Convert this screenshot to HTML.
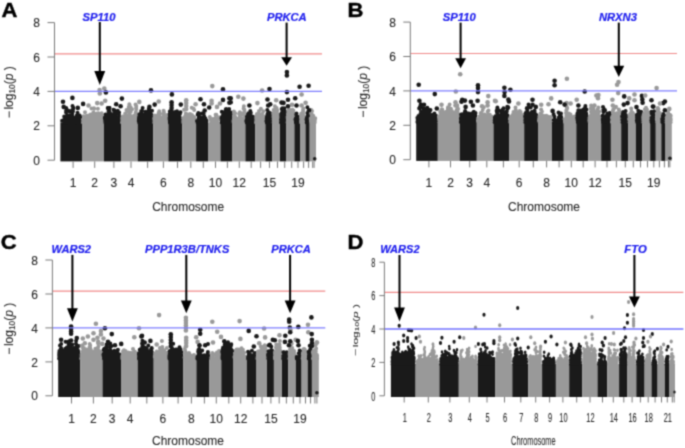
<!DOCTYPE html>
<html><head><meta charset="utf-8"><title>Manhattan plots</title>
<style>html,body{margin:0;padding:0;background:#fff}svg{display:block}</style></head>
<body>
<svg width="685" height="448" viewBox="0 0 685 448" font-family="'Liberation Sans', Arial, sans-serif">
<style>text{stroke-width:0.1px;paint-order:stroke} .t{stroke:#2a2a2a} .gn{stroke:#2020ee;stroke-width:0.2px}</style>
<defs><filter id="bl" x="0" y="0" width="685" height="448" filterUnits="userSpaceOnUse" color-interpolation-filters="sRGB"><feConvolveMatrix order="3" kernelMatrix="1 3 1 3 9 3 1 3 1" divisor="25" edgeMode="duplicate" preserveAlpha="true"/></filter></defs>
<g filter="url(#bl)">
<rect width="685" height="448" fill="#fff"/>
<g><rect x="60.4" y="122.4" width="21.6" height="39" fill="#1a1a1a"/>
<path d="M71.4 117.7h0M79.8 122.2h0M64.4 118.9h0M79.8 119.3h0M67.6 122.2h0M69.7 119.5h0M77.5 112.7h0M69.5 120.3h0M72.2 120.9h0M62.1 120.8h0M76.1 119.4h0M71.9 121h0M67.9 121.7h0M76.7 119.7h0M67.4 118.6h0M70.3 120.3h0M64.2 116.6h0M69.3 122h0M65.5 121.5h0M66.6 122h0M76 122.3h0M67 120.8h0M70.9 120.1h0M80.4 116.9h0M80.1 120.5h0M75.5 121.8h0M72 122.3h0M66.9 121.7h0M64.7 121h0M80.2 119.2h0M71.5 121.6h0M63.8 120.3h0M73.6 121.5h0M76.5 115.8h0M73.4 107.7h0M66.9 122.4h0M66 121.4h0M66.7 120.2h0M65.8 119.1h0M65.9 118h0M66.8 116.5h0M67 115h0M66 112.2h0M66.1 110.4h0M66.8 109.4h0M66.2 108.1h0M68.8 122.4h0M69.2 120.9h0M68.7 119.7h0M68.6 118.7h0M68.7 118h0M73 122.4h0M73.2 120.7h0M72 119.1h0M72.1 117.8h0M72.3 116.4h0M72.1 114.7h0M72.3 112.9h0M73 111.2h0M72.3 110.1h0M73.3 108.4h0M72.5 106.1h0M69.9 122.4h0M69.5 120.7h0M69.3 119.5h0M69.9 118.6h0M69.2 117.4h0M70 115.5h0M69.6 111.4h0M69.2 110.9h0M68.9 122.4h0M69 121.1h0M68.6 118.5h0M77.1 122.4h0M76.5 120.9h0M76 119.5h0M76.8 117.7h0M65.1 122.4h0M64.1 121.2h0M64.8 120.2h0M65.1 119.5h0M80.1 122.4h0M79.1 120.5h0M79.8 119.3h0M79.4 118.2h0M79.6 115.6h0M74 122.4h0M74.5 121.4h0M75.1 118.9h0M75.3 118h0M74.5 117.9h0" stroke="#1a1a1a" stroke-width="4" stroke-linecap="round" fill="none"/>
<rect x="82" y="122.4" width="21.9" height="39" fill="#999999"/>
<path d="M85.8 116.5h0M90.7 114.5h0M89.8 119.4h0M100.3 115.1h0M91.4 119.1h0M84.8 116.7h0M101.3 114.5h0M95.3 116.8h0M85.5 117.8h0M85.4 119.4h0M92.3 118.8h0M85 112.3h0M95.5 119h0M95.2 119.1h0M83.8 119.1h0M98.9 119.4h0M98.5 119.3h0M101 113.7h0M96.3 119.8h0M96.7 119h0M86.4 119.6h0M83.7 116.2h0M84.5 119.2h0M102 119.5h0M95.8 119.3h0M101.7 118.8h0M90 116.2h0M97.9 108.7h0M84.5 118.8h0M86.4 116h0M88.6 119h0M93.9 117.8h0M94.1 119.4h0M92.9 117.6h0M91.5 108.4h0M83 122.4h0M83.3 121h0M83 119.6h0M84 122.4h0M84.2 121h0M84.2 119.6h0M85.2 122.4h0M85.2 121h0M85 119.6h0M86.4 122.4h0M86.1 121h0M86.4 119.6h0M87.2 122.4h0M87.1 121h0M87 119.6h0M88.2 122.4h0M88.1 121h0M88.3 119.6h0M89.2 122.4h0M88.9 121h0M89.4 119.6h0M89.9 122.4h0M90.4 121h0M90.4 119.6h0M91.5 122.4h0M91.3 121h0M91 119.6h0M92.2 122.4h0M92.2 121h0M92.3 119.6h0M93.1 122.4h0M93.3 121h0M93 119.6h0M94.1 122.4h0M94.2 121h0M94.2 119.6h0M95 122.4h0M95.5 121h0M95.3 119.6h0M96.4 122.4h0M96.1 121h0M96.5 119.6h0M97.4 122.4h0M97.5 121h0M97 119.6h0M98.2 122.4h0M98.1 121h0M98.3 119.6h0M99.1 122.4h0M99 121h0M99.2 119.6h0M100.3 122.4h0M100.1 121h0M100.5 119.6h0M101.1 122.4h0M101.1 121h0M101.4 119.6h0M102.2 122.4h0M102.1 121h0M102.1 119.6h0M101.3 119.8h0M102.6 118.8h0M101.8 116.3h0M101.9 114.5h0M88.1 119.8h0M88.8 118.5h0M88.9 117h0M88.3 115.9h0M88.5 115.5h0M94.4 119.8h0M94.1 117.1h0M86.4 119.8h0M87.2 118.5h0M87 117.7h0M87.3 116.4h0M86.8 116h0M102 119.8h0M101.9 118.1h0M101.7 113.6h0M101.7 113.3h0M88.9 119.8h0M88.2 118.9h0M89 117.5h0M88.6 116.9h0M97.7 119.8h0M98.1 118.1h0M98.5 117.2h0M97.9 116.3h0M97.6 114.6h0M98.5 113.4h0M98.4 113.2h0M93.7 119.8h0M93.2 118.4h0M93.6 117.1h0M93.6 115.7h0M93.8 114.1h0M93.4 112.5h0M94.1 108.8h0M94 108.3h0M97.1 119.8h0M96.6 118.1h0M97.5 115.5h0M96.8 113.4h0" stroke="#999999" stroke-width="4" stroke-linecap="round" fill="none"/>
<rect x="103.9" y="122.4" width="17.1" height="39" fill="#1a1a1a"/>
<path d="M107.7 108.1h0M106.1 115.9h0M106.2 117.6h0M106.1 114.6h0M106.4 117.3h0M117.4 118.6h0M112.7 117.2h0M107 115.9h0M112.8 117.4h0M113.1 114.6h0M112.4 118.4h0M108.1 116.8h0M111.5 118.6h0M117.9 118.3h0M110.7 118.7h0M112.5 117.2h0M118.8 116.7h0M108.5 118.4h0M115.8 118.3h0M112.2 117h0M116.7 118.2h0M110.4 116.9h0M113.1 116.6h0M110.5 117.7h0M117.8 110.7h0M118.5 117.8h0M114.4 112.1h0M105.4 122.4h0M105.2 121h0M105.1 119.6h0M104.8 118.2h0M105.9 122.4h0M106.1 121h0M106.3 119.6h0M106.1 118.2h0M106.8 122.4h0M106.9 121h0M107.3 119.6h0M106.9 118.2h0M107.9 122.4h0M108 121h0M108.2 119.6h0M108.3 118.2h0M108.9 122.4h0M109.2 121h0M109.1 119.6h0M109.1 118.2h0M110.1 122.4h0M110.3 121h0M109.9 119.6h0M110.1 118.2h0M110.9 122.4h0M111.1 121h0M111.3 119.6h0M111.4 118.2h0M112.1 122.4h0M112 121h0M112.1 119.6h0M112 118.2h0M112.9 122.4h0M113.1 121h0M113.3 119.6h0M113.3 118.2h0M114.4 122.4h0M114 121h0M114 119.6h0M113.9 118.2h0M115.1 122.4h0M115.3 121h0M114.9 119.6h0M115.3 118.2h0M116.2 122.4h0M115.9 121h0M116.2 119.6h0M116.3 118.2h0M117.4 122.4h0M116.9 121h0M117.3 119.6h0M117.3 118.2h0M117.9 122.4h0M118 121h0M118.4 119.6h0M118 118.2h0M119 122.4h0M119.2 121h0M118.9 119.6h0M119.1 118.2h0M109 118.9h0M109.6 117.8h0M109.8 116.1h0M109.1 114.8h0M109.6 111.9h0M108.7 111h0M109.2 110.9h0M110.2 118.9h0M109.7 117.7h0M110.4 116.6h0M110.2 114.9h0M109.8 113.2h0M114.9 118.9h0M115 117.3h0M115.2 115.6h0M115.4 114.4h0M115.6 113.4h0M115.6 111.9h0M115.2 111.3h0M114.4 118.9h0M114.3 117.1h0M114.4 115.9h0M114.4 111.1h0M114.5 110.2h0M113.5 109.7h0M119.7 118.9h0M118.9 118h0M119 116.2h0M118.9 114.5h0M119.1 112.4h0M109.4 118.9h0M109.8 117.3h0M109.6 115.7h0M109.3 113h0M108.5 111.2h0M109.6 108h0M109.5 108h0M105 118.9h0M104.9 117.3h0M105.8 114.8h0M105.6 114.6h0M115 118.9h0M115.2 117.3h0M115 116.2h0M111 118.9h0M111.3 118h0M111.6 116.9h0M111.5 116.2h0M110.1 118.9h0M110.3 117.9h0M109.9 116.8h0M110.3 115.5h0M110.1 114.4h0M110.8 114h0" stroke="#1a1a1a" stroke-width="4" stroke-linecap="round" fill="none"/>
<rect x="121" y="122.4" width="16.7" height="39" fill="#999999"/>
<path d="M127 116.1h0M135.5 115.9h0M134.5 116.3h0M126.6 115.2h0M122.8 116.4h0M133.2 116.7h0M125.6 117.9h0M126.9 118h0M130.5 116.7h0M136.5 116.1h0M126.5 110h0M128.9 117.5h0M131.2 117.4h0M132 109.2h0M125.2 113.6h0M130.7 107.4h0M130 109.5h0M131.6 116.9h0M123.8 116.9h0M124 117.6h0M136.2 114.1h0M133.9 115.8h0M134 117.8h0M135.6 112.9h0M135.9 117.4h0M127.8 111.3h0M133 117.3h0M122 122.4h0M122.4 121h0M122.3 119.6h0M122.2 118.2h0M123.1 122.4h0M123 121h0M123.2 119.6h0M123.5 118.2h0M124.3 122.4h0M124.2 121h0M124.5 119.6h0M124.4 118.2h0M125.5 122.4h0M125.5 121h0M125.3 119.6h0M125.1 118.2h0M126.3 122.4h0M126.1 121h0M126.4 119.6h0M126 118.2h0M127.2 122.4h0M127.4 121h0M127.2 119.6h0M127.3 118.2h0M128 122.4h0M128.1 121h0M128.5 119.6h0M128.3 118.2h0M129.1 122.4h0M129.2 121h0M129.4 119.6h0M129.4 118.2h0M130.4 122.4h0M130.1 121h0M130 119.6h0M130.3 118.2h0M131.2 122.4h0M131.2 121h0M131 119.6h0M131.1 118.2h0M132.4 122.4h0M132.1 121h0M132.4 119.6h0M131.9 118.2h0M133.5 122.4h0M133 121h0M133.2 119.6h0M133.5 118.2h0M134.1 122.4h0M134 121h0M134.5 119.6h0M134.4 118.2h0M135.2 122.4h0M134.9 121h0M135.3 119.6h0M135.1 118.2h0M136 122.4h0M136.5 121h0M136.3 119.6h0M136.2 118.2h0M131.2 118.1h0M130.9 116.9h0M130.3 115.7h0M130.8 111.8h0M135.7 118.1h0M135.4 116.7h0M136 115.1h0M135.6 113.3h0M135.9 112.1h0M136.3 109.2h0M136.1 108.3h0M136.2 107.3h0M136.3 106h0M135.5 104.6h0M129.5 118.1h0M128.9 116.7h0M129.7 114.9h0M129 112.1h0M129.6 108.7h0M128.7 107h0M129.6 104.9h0M129.3 104.3h0M125.4 118.1h0M125.9 117h0M126 115.9h0M126.2 114.9h0" stroke="#999999" stroke-width="4" stroke-linecap="round" fill="none"/>
<rect x="137.7" y="122.4" width="15.5" height="39" fill="#1a1a1a"/>
<path d="M139.4 114.2h0M145.2 115.4h0M141.3 116.6h0M150.1 115.3h0M150.5 112.4h0M146.2 114h0M148.5 114.2h0M147.9 111.8h0M149.6 115.2h0M142.6 108.1h0M141.9 110.7h0M148.7 109.1h0M151.5 114.7h0M141.9 113.8h0M146.3 116.5h0M146 113.8h0M143.8 116.5h0M148.7 110.5h0M140.6 115.2h0M143.8 116.4h0M144.5 115h0M151.4 116.6h0M147.9 115.7h0M148.2 116.2h0M152 110.7h0M139.2 122.4h0M138.7 121h0M138.9 119.6h0M138.9 118.2h0M139.1 116.9h0M140 122.4h0M139.8 121h0M140.1 119.6h0M140 118.2h0M139.7 116.9h0M141.1 122.4h0M140.9 121h0M141.1 119.6h0M141 118.2h0M140.7 116.9h0M142.1 122.4h0M141.9 121h0M141.9 119.6h0M141.9 118.2h0M142 116.9h0M142.6 122.4h0M142.9 121h0M143.2 119.6h0M142.7 118.2h0M142.7 116.9h0M143.8 122.4h0M143.9 121h0M143.8 119.6h0M143.9 118.2h0M144 116.9h0M145.1 122.4h0M144.6 121h0M144.8 119.6h0M145 118.2h0M144.6 116.9h0M146.2 122.4h0M146 121h0M145.9 119.6h0M145.9 118.2h0M145.7 116.9h0M146.6 122.4h0M147 121h0M147.2 119.6h0M147.1 118.2h0M146.6 116.9h0M147.6 122.4h0M147.9 121h0M147.9 119.6h0M148 118.2h0M148.1 116.9h0M149.1 122.4h0M149.2 121h0M148.8 119.6h0M148.9 118.2h0M149.2 116.9h0M150 122.4h0M149.6 121h0M150.1 119.6h0M150 118.2h0M149.7 116.9h0M150.8 122.4h0M150.9 121h0M151 119.6h0M150.8 118.2h0M151 116.9h0M151.9 122.4h0M152.2 121h0M152.1 119.6h0M151.7 118.2h0M151.7 116.9h0M148.9 116.9h0M149.2 114.1h0M148.5 114.1h0M140.2 116.9h0M140.5 115.3h0M140.7 114.3h0M141.5 112.4h0M141.2 111.1h0M144.8 116.9h0M145.5 115h0M145.5 111.8h0M147.6 116.9h0M146.9 116h0M147.6 114.2h0M147.5 112h0M147.4 116.9h0M148.5 115.4h0M148.5 114.1h0M147.6 112.8h0" stroke="#1a1a1a" stroke-width="4" stroke-linecap="round" fill="none"/>
<rect x="153.2" y="122.4" width="15.2" height="39" fill="#999999"/>
<path d="M157.8 115.4h0M159.3 118.2h0M154.7 118.6h0M156.2 118.8h0M158.2 117.7h0M158.7 116.6h0M160 113.4h0M158.2 117.3h0M158.5 117.6h0M160.3 118.2h0M158.9 112.5h0M164 114.7h0M164.4 117.5h0M154.6 115.4h0M156.5 117.2h0M155.7 118h0M158.9 116.8h0M159 116.2h0M164 118.4h0M163.7 114.3h0M165.7 117.6h0M163.1 116.7h0M162 117.4h0M167.1 115.1h0M154.3 122.4h0M154.4 121h0M154.3 119.6h0M154.2 118.2h0M155.4 122.4h0M155.5 121h0M155.5 119.6h0M155.5 118.2h0M156.3 122.4h0M156.1 121h0M156.2 119.6h0M156.3 118.2h0M157.4 122.4h0M157.3 121h0M157.5 119.6h0M157.2 118.2h0M158.4 122.4h0M158.1 121h0M158.5 119.6h0M158.6 118.2h0M159.6 122.4h0M159.6 121h0M159.2 119.6h0M159.7 118.2h0M160.4 122.4h0M160.2 121h0M160.2 119.6h0M160.1 118.2h0M161.5 122.4h0M161.5 121h0M161.6 119.6h0M161.5 118.2h0M162.4 122.4h0M162.2 121h0M162.5 119.6h0M162.1 118.2h0M163.5 122.4h0M163.2 121h0M163.2 119.6h0M163.6 118.2h0M164.7 122.4h0M164.5 121h0M164.2 119.6h0M164.4 118.2h0M165.3 122.4h0M165.2 121h0M165.2 119.6h0M165.1 118.2h0M166.7 122.4h0M166.2 121h0M166.3 119.6h0M166.2 118.2h0M167.5 122.4h0M167.4 121h0M167.6 119.6h0M167.1 118.2h0M159 118.9h0M158.6 117.3h0M159.1 116.1h0M159.2 114.7h0M158.6 113.2h0M159.2 111.2h0M164.1 118.9h0M163.5 115.9h0M163.9 113.5h0M163.9 111.9h0M163.6 110.8h0M166.1 118.9h0M166.5 117.1h0M167.1 116h0M166.7 115.6h0M155.9 118.9h0M156.5 117.3h0M156.9 115.8h0M156.5 115.7h0" stroke="#999999" stroke-width="4" stroke-linecap="round" fill="none"/>
<rect x="168.4" y="122.4" width="13.8" height="39" fill="#1a1a1a"/>
<path d="M172.3 116.7h0M178.3 116.7h0M172.5 117.5h0M172.6 112.2h0M169.7 114.1h0M179.9 113.9h0M170 111.3h0M173.2 113.2h0M177 111.3h0M173.4 116.9h0M176.4 116.6h0M173.8 114.3h0M179.6 117.6h0M171.4 109.9h0M169.8 115.5h0M170.7 116.1h0M175.6 117h0M176.4 117.4h0M179.1 117.1h0M180.5 112.3h0M174.2 117.8h0M179 114.7h0M169.9 122.4h0M169.8 121h0M169.6 119.6h0M169.8 118.2h0M170.8 122.4h0M170.8 121h0M170.4 119.6h0M170.6 118.2h0M171.7 122.4h0M171.8 121h0M171.6 119.6h0M171.7 118.2h0M172.7 122.4h0M172.4 121h0M172.3 119.6h0M172.3 118.2h0M173.4 122.4h0M173.5 121h0M173.3 119.6h0M173.7 118.2h0M174.6 122.4h0M174.6 121h0M174.3 119.6h0M174.6 118.2h0M175.4 122.4h0M175.3 121h0M175.8 119.6h0M175.8 118.2h0M176.3 122.4h0M176.7 121h0M176.3 119.6h0M176.6 118.2h0M177.7 122.4h0M177.7 121h0M177.9 119.6h0M177.7 118.2h0M178.4 122.4h0M178.9 121h0M178.5 119.6h0M178.6 118.2h0M179.6 122.4h0M179.8 121h0M179.4 119.6h0M179.5 118.2h0M180.6 122.4h0M180.7 121h0M180.8 119.6h0M180.5 118.2h0M176.5 118.1h0M176.8 117h0M176.5 115.9h0M176.4 114.7h0M176.8 111.9h0M177 111.7h0M178.7 118.1h0M179.2 116.8h0M178.4 115.2h0M179.4 113.3h0M179.3 113.1h0M175.4 118.1h0M175.8 116.4h0M176.2 114.8h0M175.8 113.6h0M175.2 111.9h0M169.5 118.1h0M170.6 116.8h0M170.1 113.5h0M170.6 112.4h0M169.8 111.5h0" stroke="#1a1a1a" stroke-width="4" stroke-linecap="round" fill="none"/>
<rect x="182.2" y="122.4" width="13.9" height="39" fill="#999999"/>
<path d="M186.4 113.9h0M186.9 116.8h0M185.4 117.9h0M185.7 116.3h0M184.1 109.8h0M188.7 118.4h0M194.2 117h0M185.2 116h0M193.6 108.7h0M187 118.4h0M192 115h0M193.1 117.2h0M190.4 118.2h0M191.7 107.7h0M190.7 118.7h0M194.1 110h0M192.4 118.7h0M188.2 114.8h0M186.7 117.7h0M185.2 117.8h0M183.3 122.4h0M183.2 121h0M183.7 119.6h0M183.1 118.2h0M184.1 122.4h0M184.6 121h0M184.6 119.6h0M184.3 118.2h0M185.3 122.4h0M185.5 121h0M185.5 119.6h0M185.5 118.2h0M186.4 122.4h0M186.7 121h0M186.2 119.6h0M186.5 118.2h0M187.2 122.4h0M187.3 121h0M187.3 119.6h0M187.6 118.2h0M188.4 122.4h0M188.3 121h0M188.4 119.6h0M188.4 118.2h0M189.4 122.4h0M189.2 121h0M189.3 119.6h0M189.4 118.2h0M190.1 122.4h0M190.1 121h0M190.5 119.6h0M190.2 118.2h0M191.6 122.4h0M191.1 121h0M191.2 119.6h0M191.5 118.2h0M192.2 122.4h0M192.4 121h0M192.3 119.6h0M192.3 118.2h0M193.2 122.4h0M193.7 121h0M193.3 119.6h0M193.2 118.2h0M194.6 122.4h0M194.2 121h0M194.5 119.6h0M194.5 118.2h0M188.8 118.9h0M188.4 117.9h0M188.4 115.9h0M185.6 118.9h0M185.4 118h0M185.7 116.2h0M186.1 114.9h0M185.8 113.5h0M189.8 118.9h0M189.8 115.5h0M190.6 114.3h0M190 114h0" stroke="#999999" stroke-width="4" stroke-linecap="round" fill="none"/>
<rect x="196.1" y="122.4" width="11.9" height="39" fill="#1a1a1a"/>
<path d="M202.7 113.2h0M205.3 118.2h0M203.7 121.2h0M198.5 120h0M199.3 120.5h0M205.8 119.8h0M202.6 120.4h0M202.9 119.8h0M198.8 116.5h0M198.6 119.3h0M199.4 120.5h0M200.4 121.3h0M202.6 113.6h0M200.8 117.2h0M203.7 113.7h0M201.4 121.4h0M202.2 120.7h0M206.3 120.4h0M197.7 114.6h0M197.5 122.4h0M197 121h0M198.6 122.4h0M198.3 121h0M199.5 122.4h0M199.3 121h0M200.5 122.4h0M200.1 121h0M201.3 122.4h0M201.5 121h0M202.6 122.4h0M202.3 121h0M203 122.4h0M203.4 121h0M204.4 122.4h0M204.1 121h0M205.1 122.4h0M205.3 121h0M206.1 122.4h0M206.5 121h0M203.6 121.5h0M203.6 120.6h0M203.7 119.4h0M204.2 117.6h0M204.2 116.4h0M200.5 121.5h0M201.3 120.6h0M201.1 119h0M201 117.4h0M198.9 121.5h0M198.4 120.3h0M198.5 118.7h0M199.4 117h0M198.8 115.7h0M198.1 114.8h0M199.3 113.4h0M198.3 112.9h0M203.4 121.5h0M203.6 120.5h0M203 118.8h0" stroke="#1a1a1a" stroke-width="4" stroke-linecap="round" fill="none"/>
<rect x="208" y="122.4" width="12.5" height="39" fill="#999999"/>
<path d="M214.7 119.7h0M218.8 119.4h0M210.6 119.3h0M217.6 122.2h0M216.6 120.1h0M219 117.3h0M214.1 122.3h0M213.8 119.7h0M214.7 118.9h0M212.8 120.8h0M209.8 117h0M214.9 118.9h0M213.1 121.1h0M214.3 119.2h0M216.3 114.8h0M213.2 122.1h0M210.8 119.8h0M217.6 121.8h0M218.7 119.1h0M211.6 121.4h0M213.8 122.4h0M213.4 121.3h0M212.9 118.9h0M212.1 122.4h0M212.3 119.3h0M214.1 122.4h0M214.1 120.9h0M214.9 119.6h0M215.3 122.4h0M216.2 121.2h0M215.9 119.6h0M215.5 117.9h0M215.6 114.8h0M211.2 122.4h0M211.2 121h0M211.2 119.9h0M210.3 119.3h0M212.7 122.4h0M212.1 120.9h0M212.2 119.2h0" stroke="#999999" stroke-width="4" stroke-linecap="round" fill="none"/>
<rect x="220.5" y="122.4" width="11.9" height="39" fill="#1a1a1a"/>
<path d="M221.8 111.7h0M222.7 116.2h0M222.9 115.8h0M225.8 109.3h0M229.1 109h0M225.5 112.6h0M223.1 115.7h0M223.3 114.5h0M230.8 114.3h0M227.6 115.6h0M224.5 115.5h0M229.7 115.3h0M230.7 112.5h0M226.9 114.5h0M226 113.1h0M225.4 114.8h0M225.3 114.6h0M229.9 116.2h0M228.5 113.5h0M221.7 122.4h0M221.9 121h0M222 119.6h0M221.5 118.2h0M221.9 116.9h0M222.5 122.4h0M222.8 121h0M222.4 119.6h0M222.9 118.2h0M222.6 116.9h0M223.5 122.4h0M224 121h0M223.5 119.6h0M223.6 118.2h0M223.7 116.9h0M224.6 122.4h0M224.6 121h0M224.9 119.6h0M224.5 118.2h0M224.7 116.9h0M225.5 122.4h0M225.8 121h0M225.6 119.6h0M225.6 118.2h0M225.7 116.9h0M226.6 122.4h0M226.8 121h0M226.5 119.6h0M226.9 118.2h0M226.8 116.9h0M227.5 122.4h0M227.7 121h0M227.4 119.6h0M227.5 118.2h0M227.6 116.9h0M228.8 122.4h0M228.8 121h0M228.7 119.6h0M228.5 118.2h0M228.6 116.9h0M229.8 122.4h0M229.7 121h0M229.6 119.6h0M229.4 118.2h0M229.4 116.9h0M231 122.4h0M230.6 121h0M230.9 119.6h0M230.5 118.2h0M230.8 116.9h0M226.2 116.3h0M226.3 115.3h0M227.4 114.2h0M226.9 112.4h0M227.1 110.9h0M223.2 116.3h0M223.6 115.3h0M223.1 114.2h0M223.2 113.7h0M226.8 116.3h0M226.2 113.1h0M226.6 110.3h0M226.1 109.1h0M225.7 116.3h0M224.8 115h0M224.8 113.9h0M224.8 112.7h0M225.1 111.7h0M229.9 116.3h0M228.8 114.5h0M228.8 113.5h0M229.8 112.1h0M229.2 111.6h0" stroke="#1a1a1a" stroke-width="4" stroke-linecap="round" fill="none"/>
<rect x="232.4" y="122.4" width="13" height="39" fill="#999999"/>
<path d="M234.6 120.2h0M239.6 117h0M241.8 119.1h0M239.8 120.7h0M236.1 118.5h0M242.1 118.6h0M239.1 113.7h0M239.8 120.8h0M243.2 119.7h0M240.8 115.4h0M234.8 118.3h0M241 119.9h0M236.7 119.8h0M242 121.2h0M239.6 118.9h0M239.3 121.4h0M235.1 119.8h0M233.9 120.3h0M243.9 118.5h0M233.9 111.6h0M234.1 116.1h0M233.6 122.4h0M233.4 121h0M234.7 122.4h0M234.7 121h0M235.8 122.4h0M235.4 121h0M236.3 122.4h0M236.5 121h0M237.4 122.4h0M237.5 121h0M238.3 122.4h0M238.5 121h0M239.5 122.4h0M239.5 121h0M240.5 122.4h0M240.3 121h0M241.6 122.4h0M241.7 121h0M242.5 122.4h0M242.6 121h0M243.8 122.4h0M243.6 121h0M233.8 121.5h0M234.8 120.5h0M233.9 118.8h0M234 117.1h0M234.2 112.6h0M243.2 121.5h0M243.3 119.7h0M244.4 115h0M243.2 113.3h0M244.1 112.4h0M244.5 111.4h0M244.4 109.7h0M243.6 108.4h0M243.9 106.3h0M239.9 121.5h0M240.4 120.4h0M240.5 119.5h0M240.7 117.8h0M239.8 116.6h0M240.1 115.7h0M239.6 114.4h0M239.7 113.2h0M239.9 112.2h0M235.7 121.5h0M234.8 120h0M235.4 118.3h0M235.2 117h0M234.6 115.7h0M234.6 114.4h0M235.1 113.3h0M234.9 113.1h0" stroke="#999999" stroke-width="4" stroke-linecap="round" fill="none"/>
<rect x="245.4" y="122.4" width="9.7" height="39" fill="#1a1a1a"/>
<path d="M251.6 117.7h0M252.7 118.3h0M250.4 119.6h0M253.5 119h0M252 119.4h0M252.4 118.4h0M247.6 117.8h0M250.3 118.3h0M246.9 116.7h0M251.5 119.5h0M249 118.2h0M253 116.8h0M247.6 118.5h0M247.1 119.7h0M249.5 117.1h0M247.8 115.7h0M246.7 122.4h0M246.3 121h0M246.8 119.6h0M247.6 122.4h0M247.5 121h0M247.5 119.6h0M248.8 122.4h0M248.5 121h0M248.5 119.6h0M249.8 122.4h0M249.6 121h0M249.3 119.6h0M250.4 122.4h0M250.8 121h0M250.5 119.6h0M251.5 122.4h0M251.5 121h0M251.9 119.6h0M252.6 122.4h0M252.8 121h0M252.8 119.6h0M253.8 122.4h0M253.8 121h0M253.5 119.6h0M250.6 119.8h0M249.8 118.3h0M251 117.1h0M250.6 116.2h0M250.8 112.7h0M250.3 111.1h0M247.7 119.8h0M248.9 117.2h0M248 114.1h0M248.6 113.2h0M250.6 119.8h0M250.8 116.2h0M250.8 115.5h0" stroke="#1a1a1a" stroke-width="4" stroke-linecap="round" fill="none"/>
<rect x="255.1" y="122.4" width="10.3" height="39" fill="#999999"/>
<path d="M263.3 111.3h0M259.9 114.5h0M262.3 113.7h0M260.9 108.7h0M259.5 116.3h0M257 113.9h0M263.1 116h0M260.1 115.5h0M256.9 116.9h0M260.1 117.1h0M256.7 114.4h0M258.8 116.1h0M263.4 116.7h0M259 111h0M258.9 115.4h0M258.7 115.1h0M256 122.4h0M256.2 121h0M256.4 119.6h0M256.2 118.2h0M256.3 116.9h0M257.5 122.4h0M257.1 121h0M257.1 119.6h0M257.5 118.2h0M257.6 116.9h0M258.1 122.4h0M258 121h0M258.5 119.6h0M258.3 118.2h0M258.1 116.9h0M259 122.4h0M259.3 121h0M259.1 119.6h0M259.5 118.2h0M259.5 116.9h0M260.4 122.4h0M260.6 121h0M260.2 119.6h0M260.1 118.2h0M260.4 116.9h0M261.1 122.4h0M261.4 121h0M261 119.6h0M261.2 118.2h0M261.4 116.9h0M262.6 122.4h0M262.1 121h0M262.3 119.6h0M262.6 118.2h0M262 116.9h0M263.3 122.4h0M263.4 121h0M263.3 119.6h0M263.5 118.2h0M263.2 116.9h0M264.2 122.4h0M264 121h0M264.3 119.6h0M264.6 118.2h0M264.5 116.9h0" stroke="#999999" stroke-width="4" stroke-linecap="round" fill="none"/>
<rect x="265.4" y="122.4" width="6.9" height="39" fill="#1a1a1a"/>
<path d="M266.7 118.2h0M266.9 118.1h0M270.5 116.3h0M268.2 117.4h0M267.8 116.7h0M269.9 118.7h0M268.1 112.9h0M268.3 117.2h0M269.7 116.1h0M270.6 118.3h0M267.4 114.2h0M266.8 122.4h0M266.4 121h0M266.9 119.6h0M266.8 118.2h0M267.7 122.4h0M267.8 121h0M267.5 119.6h0M267.4 118.2h0M268.5 122.4h0M268.4 121h0M268.5 119.6h0M268.8 118.2h0M269.4 122.4h0M269.3 121h0M269.8 119.6h0M269.9 118.2h0M270.5 122.4h0M270.4 121h0M270.8 119.6h0M270.3 118.2h0M270 118.9h0M270 117.1h0M269.1 116h0M269.9 113.1h0M269.8 118.9h0M269.9 118h0M270.9 116.7h0M270.3 115.6h0M269.7 118.9h0M270.7 117.4h0M270.4 116h0M269.8 115.6h0M267.3 118.9h0M268.2 117.7h0M267 116.5h0M267.3 115.7h0M267.9 114.3h0M267.8 111.2h0M267.3 110.1h0" stroke="#1a1a1a" stroke-width="4" stroke-linecap="round" fill="none"/>
<rect x="272.3" y="122.4" width="7.7" height="39" fill="#999999"/>
<path d="M276.4 113.2h0M278.7 116.1h0M274.3 114.6h0M273.5 115.9h0M274.6 116.2h0M275.8 113.8h0M274.9 106.3h0M277.2 109.9h0M274.9 115h0M278.1 114.4h0M274.2 112.9h0M274.3 115.4h0M273.6 122.4h0M273.7 121h0M273.6 119.6h0M273.7 118.2h0M273.4 116.9h0M274.5 122.4h0M274.3 121h0M274.7 119.6h0M274.8 118.2h0M274.5 116.9h0M275.5 122.4h0M275.6 121h0M275.7 119.6h0M275.3 118.2h0M275.7 116.9h0M276.7 122.4h0M276.3 121h0M276.4 119.6h0M276.5 118.2h0M276.6 116.9h0M277.5 122.4h0M277.5 121h0M277.4 119.6h0M277.5 118.2h0M277.4 116.9h0M278.6 122.4h0M278.8 121h0M278.8 119.6h0M278.4 118.2h0M278.2 116.9h0M276.2 116.3h0M276 114.7h0M275.9 113.3h0M275.3 111.9h0M275.9 110.5h0M276.4 109.2h0M275.7 109h0M276.2 116.3h0M276.3 114.6h0M277 111.8h0M276.2 109.2h0M276.6 108.1h0M276.1 116.3h0M276.2 115.2h0M276.3 113.5h0M274 116.3h0M274.2 115.3h0M274.4 114.3h0M274 112.6h0M274.5 116.3h0M273.5 115h0M273.4 114.1h0M274.6 113.2h0M273.6 110.1h0" stroke="#999999" stroke-width="4" stroke-linecap="round" fill="none"/>
<rect x="280" y="122.4" width="6.4" height="39" fill="#1a1a1a"/>
<path d="M282.9 110.1h0M282.9 111.3h0M282.2 114.5h0M284.1 114h0M283.4 112.5h0M281.9 114.4h0M285 113.6h0M281.7 108.9h0M281.4 114h0M284.2 112.7h0M281 122.4h0M281.2 121h0M281 119.6h0M281.4 118.2h0M281.3 116.9h0M281.3 115.5h0M281.2 114.1h0M282.2 122.4h0M282.5 121h0M282.2 119.6h0M282.3 118.2h0M282 116.9h0M282.2 115.5h0M282.4 114.1h0M283.2 122.4h0M283.3 121h0M283.3 119.6h0M283 118.2h0M283.2 116.9h0M282.9 115.5h0M283 114.1h0M284.3 122.4h0M284 121h0M283.9 119.6h0M284.2 118.2h0M284.3 116.9h0M284.1 115.5h0M284 114.1h0M285 122.4h0M284.9 121h0M284.9 119.6h0M285.2 118.2h0M285 116.9h0M285.2 115.5h0M285.4 114.1h0M283.6 114.6h0M283.9 111.7h0M283.6 111h0M284 114.6h0M283.8 111.5h0M283.1 111.2h0M282.1 114.6h0M281.7 113.1h0M282.4 110.5h0M282.3 108.3h0M284.3 114.6h0M285.3 113.2h0M285.1 111.8h0M284.8 111.3h0M284.7 114.6h0M284.6 112.9h0M284.4 111.9h0M283.7 109.4h0M284.4 108.4h0M284.2 108.3h0" stroke="#1a1a1a" stroke-width="4" stroke-linecap="round" fill="none"/>
<rect x="286.4" y="122.4" width="8" height="39" fill="#999999"/>
<path d="M289.2 112.9h0M291.3 113.8h0M291.6 115.9h0M291.2 112.1h0M290.9 116.2h0M290.7 109.9h0M291.9 114.1h0M290.4 115.9h0M288.8 113.8h0M288.2 115.9h0M291 115.8h0M292.1 114.5h0M291.6 112.3h0M287.6 122.4h0M287.8 121h0M287.9 119.6h0M287.7 118.2h0M287.6 116.9h0M288.9 122.4h0M288.4 121h0M288.4 119.6h0M288.7 118.2h0M288.8 116.9h0M289.5 122.4h0M289.5 121h0M289.3 119.6h0M289.4 118.2h0M289.5 116.9h0M290.4 122.4h0M290.3 121h0M290.8 119.6h0M290.8 118.2h0M290.4 116.9h0M291.5 122.4h0M291.3 121h0M291.6 119.6h0M291.4 118.2h0M291.6 116.9h0M292.7 122.4h0M292.7 121h0M292.4 119.6h0M292.8 118.2h0M292.8 116.9h0M289.1 116.3h0M288 114.6h0M288 113.7h0M289.1 112.4h0M292.2 116.3h0M292.2 114.5h0M293.3 113.6h0M293.4 110.6h0M292.5 109.8h0M289 116.3h0M288.2 111.8h0M288.7 110.1h0" stroke="#999999" stroke-width="4" stroke-linecap="round" fill="none"/>
<rect x="294.4" y="122.4" width="5.6" height="39" fill="#1a1a1a"/>
<path d="M296.4 115.1h0M298.2 117h0M296.2 119.6h0M297.6 118.5h0M297 117.2h0M297.6 119.7h0M297.9 116.8h0M298.5 118.5h0M295.9 122.4h0M295.8 121h0M295.4 119.6h0M296.5 122.4h0M296.9 121h0M296.9 119.6h0M297.9 122.4h0M297.7 121h0M297.7 119.6h0M298.5 122.4h0M298.7 121h0M298.5 119.6h0M296.9 119.8h0M295.8 118.5h0M296.4 115.4h0M296.8 119.8h0M296.1 118h0M296.8 116.4h0M296.2 115.1h0M296.5 113.6h0" stroke="#1a1a1a" stroke-width="4" stroke-linecap="round" fill="none"/>
<rect x="300" y="122.4" width="5.5" height="39" fill="#999999"/>
<path d="M303.7 115.9h0M302.3 113.3h0M302.3 117.9h0M302 117h0M304 117.9h0M301.6 116.7h0M302.3 115.5h0M301.3 117.6h0M303.2 111.4h0M301.1 122.4h0M301 121h0M301.3 119.6h0M301.2 118.2h0M302.1 122.4h0M302 121h0M302.5 119.6h0M302.3 118.2h0M303.2 122.4h0M303.3 121h0M303.2 119.6h0M303.4 118.2h0M304.4 122.4h0M304.1 121h0M304.5 119.6h0M304.1 118.2h0M302.6 118.1h0M303.7 116.8h0M303.2 115.8h0M303.2 114.9h0M303 113.4h0M302.8 112.2h0M303.1 111h0M303.1 109.5h0M303.4 108.5h0M301.1 118.1h0M301 116.9h0M301.5 115.5h0M301 114.5h0M301.3 113.6h0M302.7 118.1h0M302.8 117h0M302.1 113.7h0" stroke="#999999" stroke-width="4" stroke-linecap="round" fill="none"/>
<rect x="305.5" y="122.4" width="4.2" height="39" fill="#1a1a1a"/>
<path d="M307.4 107.3h0M307.9 118h0M307.5 116.3h0M307.4 112.9h0M307.2 117.7h0M307.9 114.5h0M307 117.6h0M306.7 122.4h0M306.8 121h0M306.5 119.6h0M306.8 118.2h0M307.8 122.4h0M307.7 121h0M307.9 119.6h0M307.4 118.2h0M308.1 118.1h0M308.4 116.6h0M307.9 115.3h0" stroke="#1a1a1a" stroke-width="4" stroke-linecap="round" fill="none"/>
<rect x="309.7" y="122.4" width="6.3" height="39" fill="#999999"/>
<path d="M313.2 115.7h0M312.2 117.6h0M314 118h0M313.9 118.4h0M311.5 118.9h0M313.6 117.9h0M311.7 114.1h0M312 110.9h0M313.1 118.6h0M312.6 118.7h0M311.2 122.4h0M311 121h0M310.8 119.6h0M310.7 118.2h0M311.7 122.4h0M311.7 121h0M312 119.6h0M311.7 118.2h0M313 122.4h0M312.8 121h0M313 119.6h0M312.8 118.2h0M313.7 122.4h0M313.6 121h0M314.1 119.6h0M314.1 118.2h0M314.7 122.4h0M314.8 121h0M314.9 119.6h0M315.2 118.2h0M310.8 118.9h0M312 117.3h0M311.9 114.4h0M311.1 112.9h0M310.9 111.3h0M311.2 109.9h0M312 118.9h0M312.2 117.1h0M311.7 115.7h0" stroke="#999999" stroke-width="4" stroke-linecap="round" fill="none"/>
<ellipse cx="314.7" cy="158.8" rx="1.8" ry="1.8" fill="#1a1a1a"/>
<ellipse cx="72.4" cy="97.9" rx="2.3" ry="2.3" fill="#1a1a1a"/>
<ellipse cx="63" cy="101.8" rx="2.3" ry="2.3" fill="#1a1a1a"/>
<ellipse cx="83.1" cy="103.9" rx="2.3" ry="2.3" fill="#1a1a1a"/>
<ellipse cx="99.6" cy="90.1" rx="2.3" ry="2.3" fill="#999999"/>
<ellipse cx="104.3" cy="88.5" rx="2.3" ry="2.3" fill="#999999"/>
<ellipse cx="99.8" cy="93.5" rx="2.3" ry="2.3" fill="#999999"/>
<ellipse cx="105.9" cy="92.4" rx="2.3" ry="2.3" fill="#1a1a1a"/>
<ellipse cx="105.2" cy="100.8" rx="2.3" ry="2.3" fill="#999999"/>
<ellipse cx="101.6" cy="103.5" rx="2.3" ry="2.3" fill="#999999"/>
<ellipse cx="97.2" cy="103.1" rx="2.3" ry="2.3" fill="#999999"/>
<ellipse cx="121.9" cy="98.6" rx="2.3" ry="2.3" fill="#1a1a1a"/>
<ellipse cx="116.2" cy="104.2" rx="2.3" ry="2.3" fill="#1a1a1a"/>
<ellipse cx="120.6" cy="106.2" rx="2.3" ry="2.3" fill="#1a1a1a"/>
<ellipse cx="139.3" cy="101.9" rx="2.3" ry="2.3" fill="#999999"/>
<ellipse cx="108.5" cy="108.2" rx="2.3" ry="2.3" fill="#1a1a1a"/>
<ellipse cx="88.5" cy="105.5" rx="2.3" ry="2.3" fill="#999999"/>
<ellipse cx="77.8" cy="107.9" rx="2.3" ry="2.3" fill="#1a1a1a"/>
<ellipse cx="63.7" cy="106.9" rx="2.3" ry="2.3" fill="#1a1a1a"/>
<ellipse cx="151" cy="90.4" rx="2.3" ry="2.3" fill="#1a1a1a"/>
<ellipse cx="171.9" cy="94.4" rx="2.3" ry="2.3" fill="#1a1a1a"/>
<ellipse cx="171.6" cy="102.2" rx="2.3" ry="2.3" fill="#1a1a1a"/>
<ellipse cx="171.6" cy="105" rx="2.3" ry="2.3" fill="#1a1a1a"/>
<ellipse cx="171.6" cy="108" rx="2.3" ry="2.3" fill="#1a1a1a"/>
<ellipse cx="212.3" cy="86.1" rx="2.3" ry="2.3" fill="#999999"/>
<ellipse cx="223" cy="89.2" rx="2.3" ry="2.3" fill="#1a1a1a"/>
<ellipse cx="223" cy="99.9" rx="2.3" ry="2.3" fill="#1a1a1a"/>
<ellipse cx="200.5" cy="99.2" rx="2.3" ry="2.3" fill="#1a1a1a"/>
<ellipse cx="204" cy="104.2" rx="2.3" ry="2.3" fill="#1a1a1a"/>
<ellipse cx="180.8" cy="104.6" rx="2.3" ry="2.3" fill="#1a1a1a"/>
<ellipse cx="186.2" cy="100.2" rx="2.3" ry="2.3" fill="#999999"/>
<ellipse cx="186.2" cy="103" rx="2.3" ry="2.3" fill="#999999"/>
<ellipse cx="186.2" cy="106" rx="2.3" ry="2.3" fill="#999999"/>
<ellipse cx="186.2" cy="109" rx="2.3" ry="2.3" fill="#999999"/>
<ellipse cx="211.6" cy="100.8" rx="2.3" ry="2.3" fill="#999999"/>
<ellipse cx="211.6" cy="103.5" rx="2.3" ry="2.3" fill="#999999"/>
<ellipse cx="158.7" cy="101.5" rx="2.3" ry="2.3" fill="#999999"/>
<ellipse cx="154.7" cy="104.6" rx="2.3" ry="2.3" fill="#1a1a1a"/>
<ellipse cx="195.6" cy="104.2" rx="2.3" ry="2.3" fill="#999999"/>
<ellipse cx="209.2" cy="107.5" rx="2.3" ry="2.3" fill="#1a1a1a"/>
<ellipse cx="204.7" cy="110.5" rx="2.3" ry="2.3" fill="#1a1a1a"/>
<ellipse cx="229.4" cy="98.2" rx="2.3" ry="2.3" fill="#1a1a1a"/>
<ellipse cx="229.4" cy="102.8" rx="2.3" ry="2.3" fill="#1a1a1a"/>
<ellipse cx="149.4" cy="106.9" rx="2.3" ry="2.3" fill="#1a1a1a"/>
<ellipse cx="220" cy="103.5" rx="2.3" ry="2.3" fill="#999999"/>
<ellipse cx="217" cy="106.9" rx="2.3" ry="2.3" fill="#999999"/>
<ellipse cx="286.9" cy="72" rx="2.3" ry="2.3" fill="#1a1a1a"/>
<ellipse cx="286.9" cy="75.4" rx="2.3" ry="2.3" fill="#1a1a1a"/>
<ellipse cx="286.9" cy="92.1" rx="2.3" ry="2.3" fill="#1a1a1a"/>
<ellipse cx="269.5" cy="89" rx="2.3" ry="2.3" fill="#1a1a1a"/>
<ellipse cx="262.1" cy="90.5" rx="2.3" ry="2.3" fill="#999999"/>
<ellipse cx="299.6" cy="86.8" rx="2.3" ry="2.3" fill="#1a1a1a"/>
<ellipse cx="308.6" cy="85.8" rx="2.3" ry="2.3" fill="#1a1a1a"/>
<ellipse cx="301.6" cy="94.5" rx="2.3" ry="2.3" fill="#999999"/>
<ellipse cx="295.2" cy="98.2" rx="2.3" ry="2.3" fill="#1a1a1a"/>
<ellipse cx="288" cy="99.8" rx="2.3" ry="2.3" fill="#1a1a1a"/>
<ellipse cx="267.5" cy="99.5" rx="2.3" ry="2.3" fill="#1a1a1a"/>
<ellipse cx="238.3" cy="96.8" rx="2.3" ry="2.3" fill="#999999"/>
<ellipse cx="243.4" cy="98.6" rx="2.3" ry="2.3" fill="#999999"/>
<ellipse cx="230.7" cy="98.2" rx="2.3" ry="2.3" fill="#1a1a1a"/>
<ellipse cx="230.7" cy="102.2" rx="2.3" ry="2.3" fill="#1a1a1a"/>
<ellipse cx="276.2" cy="100.2" rx="2.3" ry="2.3" fill="#999999"/>
<ellipse cx="281.5" cy="102.6" rx="2.3" ry="2.3" fill="#1a1a1a"/>
<ellipse cx="283.5" cy="102.9" rx="2.3" ry="2.3" fill="#1a1a1a"/>
<ellipse cx="270.2" cy="104.2" rx="2.3" ry="2.3" fill="#1a1a1a"/>
<ellipse cx="268.2" cy="105.5" rx="2.3" ry="2.3" fill="#1a1a1a"/>
<ellipse cx="288" cy="106.2" rx="2.3" ry="2.3" fill="#1a1a1a"/>
<ellipse cx="296.5" cy="105.5" rx="2.3" ry="2.3" fill="#1a1a1a"/>
<ellipse cx="305.6" cy="102.8" rx="2.3" ry="2.3" fill="#999999"/>
<ellipse cx="257.4" cy="103.1" rx="2.3" ry="2.3" fill="#999999"/>
<ellipse cx="249.4" cy="105.5" rx="2.3" ry="2.3" fill="#1a1a1a"/>
<ellipse cx="301.6" cy="105.5" rx="2.3" ry="2.3" fill="#999999"/>
<ellipse cx="292" cy="104.8" rx="2.3" ry="2.3" fill="#999999"/>
<ellipse cx="309" cy="110.2" rx="2.3" ry="2.3" fill="#1a1a1a"/>
<line x1="54.5" x2="322" y1="53.8" y2="53.8" stroke="#f08a8a" stroke-width="1.15"/>
<line x1="54.5" x2="322" y1="91.4" y2="91.4" stroke="#7c7cff" stroke-width="1.15"/>
<line x1="54.5" x2="54.5" y1="22.6" y2="160.2" stroke="#7a7a7a" stroke-width="1"/>
<line x1="47.5" x2="54.5" y1="160.2" y2="160.2" stroke="#7a7a7a" stroke-width="1"/>
<text class="t" x="36.7" y="164.8" text-anchor="middle" font-size="12" fill="#262626">0</text>
<line x1="47.5" x2="54.5" y1="125.8" y2="125.8" stroke="#7a7a7a" stroke-width="1"/>
<text class="t" x="36.7" y="130.4" text-anchor="middle" font-size="12" fill="#262626">2</text>
<line x1="47.5" x2="54.5" y1="91.4" y2="91.4" stroke="#7a7a7a" stroke-width="1"/>
<text class="t" x="36.7" y="96" text-anchor="middle" font-size="12" fill="#262626">4</text>
<line x1="47.5" x2="54.5" y1="57" y2="57" stroke="#7a7a7a" stroke-width="1"/>
<text class="t" x="36.7" y="61.6" text-anchor="middle" font-size="12" fill="#262626">6</text>
<line x1="47.5" x2="54.5" y1="22.6" y2="22.6" stroke="#7a7a7a" stroke-width="1"/>
<text class="t" x="36.7" y="27.2" text-anchor="middle" font-size="12" fill="#262626">8</text>
<line x1="73.1" x2="73.1" y1="161.4" y2="167.9" stroke="#7a7a7a" stroke-width="1"/>
<text class="t" x="73.1" y="187.2" text-anchor="middle" font-size="12" fill="#262626">1</text>
<line x1="94.7" x2="94.7" y1="161.4" y2="167.9" stroke="#7a7a7a" stroke-width="1"/>
<text class="t" x="94.7" y="187.2" text-anchor="middle" font-size="12" fill="#262626">2</text>
<line x1="113.9" x2="113.9" y1="161.4" y2="167.9" stroke="#7a7a7a" stroke-width="1"/>
<text class="t" x="113.9" y="187.2" text-anchor="middle" font-size="12" fill="#262626">3</text>
<line x1="131" x2="131" y1="161.4" y2="167.9" stroke="#7a7a7a" stroke-width="1"/>
<text class="t" x="131" y="187.2" text-anchor="middle" font-size="12" fill="#262626">4</text>
<line x1="147.6" x2="147.6" y1="161.4" y2="167.9" stroke="#7a7a7a" stroke-width="1"/>
<line x1="163.4" x2="163.4" y1="161.4" y2="167.9" stroke="#7a7a7a" stroke-width="1"/>
<text class="t" x="163.4" y="187.2" text-anchor="middle" font-size="12" fill="#262626">6</text>
<line x1="177.5" x2="177.5" y1="161.4" y2="167.9" stroke="#7a7a7a" stroke-width="1"/>
<line x1="190.8" x2="190.8" y1="161.4" y2="167.9" stroke="#7a7a7a" stroke-width="1"/>
<text class="t" x="190.8" y="187.2" text-anchor="middle" font-size="12" fill="#262626">8</text>
<line x1="203.3" x2="203.3" y1="161.4" y2="167.9" stroke="#7a7a7a" stroke-width="1"/>
<line x1="215.5" x2="215.5" y1="161.4" y2="167.9" stroke="#7a7a7a" stroke-width="1"/>
<text class="t" x="215.5" y="187.2" text-anchor="middle" font-size="12" fill="#262626">10</text>
<line x1="227.4" x2="227.4" y1="161.4" y2="167.9" stroke="#7a7a7a" stroke-width="1"/>
<line x1="239.3" x2="239.3" y1="161.4" y2="167.9" stroke="#7a7a7a" stroke-width="1"/>
<text class="t" x="239.3" y="187.2" text-anchor="middle" font-size="12" fill="#262626">12</text>
<line x1="251.2" x2="251.2" y1="161.4" y2="167.9" stroke="#7a7a7a" stroke-width="1"/>
<line x1="260.6" x2="260.6" y1="161.4" y2="167.9" stroke="#7a7a7a" stroke-width="1"/>
<line x1="269.5" x2="269.5" y1="161.4" y2="167.9" stroke="#7a7a7a" stroke-width="1"/>
<text class="t" x="269.5" y="187.2" text-anchor="middle" font-size="12" fill="#262626">15</text>
<line x1="277.5" x2="277.5" y1="161.4" y2="167.9" stroke="#7a7a7a" stroke-width="1"/>
<line x1="284.7" x2="284.7" y1="161.4" y2="167.9" stroke="#7a7a7a" stroke-width="1"/>
<line x1="291.7" x2="291.7" y1="161.4" y2="167.9" stroke="#7a7a7a" stroke-width="1"/>
<line x1="298" x2="298" y1="161.4" y2="167.9" stroke="#7a7a7a" stroke-width="1"/>
<text class="t" x="298" y="187.2" text-anchor="middle" font-size="12" fill="#262626">19</text>
<line x1="303.6" x2="303.6" y1="161.4" y2="167.9" stroke="#7a7a7a" stroke-width="1"/>
<line x1="308.6" x2="308.6" y1="161.4" y2="167.9" stroke="#7a7a7a" stroke-width="1"/>
<line x1="312.7" x2="312.7" y1="161.4" y2="167.9" stroke="#7a7a7a" stroke-width="1"/>
<line x1="314.1" x2="314.1" y1="161.4" y2="167.9" stroke="#7a7a7a" stroke-width="1"/>
<text class="t" x="188.2" y="211.2" text-anchor="middle" font-size="12" fill="#262626">Chromosome</text>
<text class="t" transform="translate(13 92.2) rotate(-90)" text-anchor="middle" font-size="12" fill="#262626">−<tspan dx="1.5">log</tspan><tspan font-size="8.4" dy="2">10</tspan><tspan dy="-2">(</tspan><tspan font-style="italic">p </tspan>)</text>
<line x1="99.8" x2="99.8" y1="22" y2="72" stroke="#000" stroke-width="2"/>
<polygon points="94.3,71 105.2,71 99.8,85" fill="#000"/>
<line x1="286.6" x2="286.6" y1="22.6" y2="58.3" stroke="#000" stroke-width="2"/>
<polygon points="281.2,57.3 292,57.3 286.6,65.8" fill="#000"/>
<text x="99" y="21" text-anchor="middle" font-size="11" font-weight="bold" font-style="italic" class="gn" fill="#2020ee" textLength="33" lengthAdjust="spacingAndGlyphs">SP110</text>
<text x="286.8" y="21" text-anchor="middle" font-size="11" font-weight="bold" font-style="italic" class="gn" fill="#2020ee" textLength="39.7" lengthAdjust="spacingAndGlyphs">PRKCA</text>
<text transform="translate(1.4 17) scale(1.13 1)" font-size="19.5" font-weight="bold" fill="#000" stroke="#000" stroke-width="0.4" style="stroke-width:0.4px">A</text></g>
<g><rect x="416.2" y="121.9" width="21.6" height="39" fill="#1a1a1a"/>
<path d="M422.4 115.7h0M423.1 116.6h0M433 114.8h0M419.2 108.5h0M428.9 115.1h0M431.4 114.9h0M421 116.8h0M418.5 116.1h0M422.7 112.5h0M430 116.4h0M428.2 117.3h0M420.3 114.5h0M425.7 116.9h0M430.3 116.9h0M425.5 117.4h0M429.6 115.5h0M436 115.7h0M430.5 115.3h0M424.9 110.7h0M421 116.5h0M424 113h0M427.2 116.7h0M434.5 113.6h0M432.3 116.8h0M423.5 116.4h0M435.1 116.7h0M426.4 117.3h0M430.7 115.5h0M419.5 116h0M419.4 117.4h0M421.3 113.8h0M434.4 116.5h0M430.5 110h0M433.7 114.3h0M429.8 117.1h0M417.4 121.9h0M417.7 120.5h0M417.6 119.1h0M417.4 117.7h0M418.5 121.9h0M418.4 120.5h0M418.7 119.1h0M418.2 117.7h0M419.5 121.9h0M419.4 120.5h0M419.1 119.1h0M419.3 117.7h0M420.7 121.9h0M420.6 120.5h0M420.1 119.1h0M420.3 117.7h0M421.1 121.9h0M421.6 120.5h0M421.2 119.1h0M421.1 117.7h0M422.7 121.9h0M422.4 120.5h0M422.3 119.1h0M422.1 117.7h0M423.3 121.9h0M423.3 120.5h0M423.4 119.1h0M423.1 117.7h0M424.2 121.9h0M424.2 120.5h0M424.4 119.1h0M424.3 117.7h0M425.5 121.9h0M425.3 120.5h0M425.6 119.1h0M425.7 117.7h0M426.1 121.9h0M426.2 120.5h0M426.4 119.1h0M426.6 117.7h0M427.1 121.9h0M427.2 120.5h0M427.4 119.1h0M427.5 117.7h0M428.6 121.9h0M428.6 120.5h0M428.6 119.1h0M428.1 117.7h0M429.7 121.9h0M429.5 120.5h0M429.2 119.1h0M429.3 117.7h0M430.5 121.9h0M430.3 120.5h0M430.4 119.1h0M430.6 117.7h0M431.6 121.9h0M431.4 120.5h0M431.6 119.1h0M431.3 117.7h0M432.7 121.9h0M432.5 120.5h0M432.7 119.1h0M432.1 117.7h0M433.6 121.9h0M433.4 120.5h0M433.5 119.1h0M433.2 117.7h0M434.4 121.9h0M434.3 120.5h0M434.2 119.1h0M434.1 117.7h0M435.6 121.9h0M435.5 120.5h0M435.2 119.1h0M435.3 117.7h0M436.4 121.9h0M436.6 120.5h0M436.2 119.1h0M436.7 117.7h0M429 117.6h0M429.4 116.5h0M429.7 114.7h0M429 112.8h0M429.6 111.5h0M429.1 110.3h0M427.7 117.6h0M426.9 115.8h0M428 114.9h0M427.7 114h0M427.6 112.2h0M427.7 111.1h0M427.9 109h0M427.1 107.9h0M427.3 107.7h0M420.8 117.6h0M421.3 115.7h0M420.4 114.1h0M421 111.3h0M421 106.8h0M420.6 105.7h0M420.6 104.5h0M421.2 104.5h0M426.8 117.6h0M427.2 114.2h0M428.7 117.6h0M429.6 116.5h0M429.1 115.2h0M429 114h0M423.3 117.6h0M424.1 116.4h0M423.3 115.2h0M424.1 114.3h0M424.2 112.5h0M423.4 111.6h0M424.3 110.3h0M423.7 108.5h0M425.9 117.6h0M426.3 116.6h0M425.6 115.7h0M426.4 114.6h0M425.9 114.1h0" stroke="#1a1a1a" stroke-width="4" stroke-linecap="round" fill="none"/>
<rect x="437.8" y="121.9" width="21.9" height="39" fill="#999999"/>
<path d="M446.6 116.4h0M453.2 115.1h0M450.8 116.5h0M456.9 110.5h0M456.9 116.1h0M448.4 116.3h0M451.9 116.3h0M449.6 104.5h0M445.1 114.7h0M447.8 116.1h0M453.1 114.8h0M449.8 115.1h0M451.3 115.4h0M448.5 115.9h0M457.6 112.1h0M454.1 115.9h0M441.6 115.1h0M454.9 114.3h0M456.9 110.4h0M454.9 116.1h0M445.7 115.6h0M446.2 111.8h0M443.7 114.2h0M440.1 116.2h0M448.2 112.4h0M455.6 112.2h0M454 112.9h0M451.9 116.5h0M455.5 112.6h0M451.9 111h0M443.4 116.4h0M454.7 114.8h0M446.2 114.1h0M456.4 115.7h0M445.4 115.8h0M439.2 121.9h0M439.3 120.5h0M439.2 119.1h0M439 117.7h0M438.9 116.4h0M440.3 121.9h0M440.1 120.5h0M440.1 119.1h0M439.7 117.7h0M439.8 116.4h0M440.7 121.9h0M441.2 120.5h0M440.8 119.1h0M440.8 117.7h0M441 116.4h0M441.8 121.9h0M442 120.5h0M442.3 119.1h0M442.2 117.7h0M441.8 116.4h0M443.2 121.9h0M442.9 120.5h0M443 119.1h0M442.9 117.7h0M443.3 116.4h0M443.9 121.9h0M444.1 120.5h0M444.1 119.1h0M444.1 117.7h0M443.8 116.4h0M445 121.9h0M445.3 120.5h0M445 119.1h0M444.8 117.7h0M444.7 116.4h0M445.9 121.9h0M446.1 120.5h0M445.7 119.1h0M445.7 117.7h0M446.1 116.4h0M447.2 121.9h0M447 120.5h0M447.1 119.1h0M446.9 117.7h0M446.9 116.4h0M448 121.9h0M447.8 120.5h0M448 119.1h0M447.8 117.7h0M448.3 116.4h0M449.1 121.9h0M448.8 120.5h0M448.8 119.1h0M449.2 117.7h0M448.9 116.4h0M449.9 121.9h0M449.7 120.5h0M450.1 119.1h0M450 117.7h0M450.2 116.4h0M450.8 121.9h0M451.2 120.5h0M451.2 119.1h0M451.2 117.7h0M451.1 116.4h0M452 121.9h0M451.7 120.5h0M452.1 119.1h0M451.7 117.7h0M451.8 116.4h0M452.9 121.9h0M452.8 120.5h0M453 119.1h0M453.2 117.7h0M452.8 116.4h0M454.2 121.9h0M454.3 120.5h0M453.7 119.1h0M454 117.7h0M454.1 116.4h0M455.1 121.9h0M454.9 120.5h0M455.2 119.1h0M454.9 117.7h0M454.8 116.4h0M456 121.9h0M456.1 120.5h0M456.2 119.1h0M456.1 117.7h0M455.7 116.4h0M457 121.9h0M456.9 120.5h0M457.1 119.1h0M456.7 117.7h0M457.1 116.4h0M458.2 121.9h0M457.7 120.5h0M457.7 119.1h0M458.2 117.7h0M458.2 116.4h0M448.7 116.7h0M447.6 115.7h0M448.3 114.1h0M448 113.1h0M448.9 112h0M448.5 111h0M447.8 108.4h0M448.8 107.4h0M448 107.3h0M443.2 116.7h0M443.3 115.7h0M443.2 113.9h0M443.6 113.2h0M452.6 116.7h0M453 114.9h0M452 113.4h0M452.6 112.4h0M451.8 116.7h0M451.4 115.1h0M451.9 113.6h0M450.9 111.9h0M450.9 108.8h0M443.1 116.7h0M444 114.3h0M443.2 113.3h0M442.7 116.7h0M442.4 115.1h0M442.5 113.3h0M442.4 112.3h0M442.6 111.3h0M442.2 109.5h0M441.8 109.2h0M456.6 116.7h0M456.6 115h0M457 113.7h0M457.4 112.6h0M456.3 111.1h0M457 109.7h0M457.3 116.7h0M456.6 115h0M457.9 113.4h0M457.6 112.2h0M457.3 105.3h0M457.6 116.7h0M458.1 115.3h0M457.4 113.9h0M457.4 112h0M457.5 110.8h0M458.1 109h0M457.6 108h0M457 116.7h0M456.6 115.5h0M456.4 114h0M457.1 112.9h0M457 111.5h0M456.7 110h0M440 116.7h0M440.8 114.1h0M440.5 113.2h0M440.2 111.5h0M440.4 111.4h0" stroke="#999999" stroke-width="4" stroke-linecap="round" fill="none"/>
<rect x="459.7" y="121.9" width="17.1" height="39" fill="#1a1a1a"/>
<path d="M468.8 113.5h0M475.5 113.1h0M475.4 115.6h0M464 117h0M464.7 116.5h0M466.8 115.4h0M462.4 114.3h0M463.1 115.5h0M469.2 117.1h0M475.4 115.7h0M465.2 116.7h0M463.8 115.9h0M470 115.2h0M465.3 112.7h0M461.1 114.6h0M462.3 116.9h0M473.8 111.8h0M462.5 115.5h0M470.3 116.3h0M467.1 113.2h0M472.2 113.2h0M468.4 116.3h0M464.3 115h0M464 114.6h0M464.4 116.2h0M464.3 116.4h0M464.6 115.6h0M460.8 121.9h0M461.1 120.5h0M460.8 119.1h0M461 117.7h0M462 121.9h0M461.7 120.5h0M461.8 119.1h0M461.8 117.7h0M462.8 121.9h0M462.7 120.5h0M462.7 119.1h0M462.9 117.7h0M463.7 121.9h0M464 120.5h0M463.8 119.1h0M463.9 117.7h0M464.7 121.9h0M465.1 120.5h0M464.6 119.1h0M465.2 117.7h0M466 121.9h0M466.2 120.5h0M465.9 119.1h0M465.8 117.7h0M466.8 121.9h0M467.2 120.5h0M466.9 119.1h0M466.8 117.7h0M467.7 121.9h0M467.7 120.5h0M467.8 119.1h0M467.9 117.7h0M469.1 121.9h0M468.7 120.5h0M468.9 119.1h0M468.7 117.7h0M469.8 121.9h0M469.9 120.5h0M470.1 119.1h0M469.7 117.7h0M470.7 121.9h0M471 120.5h0M470.9 119.1h0M470.7 117.7h0M472 121.9h0M472.2 120.5h0M472 119.1h0M472.2 117.7h0M473 121.9h0M472.8 120.5h0M473.1 119.1h0M472.9 117.7h0M473.7 121.9h0M473.8 120.5h0M474.2 119.1h0M474 117.7h0M474.8 121.9h0M475 120.5h0M475 119.1h0M474.7 117.7h0M465.5 117.2h0M464.6 115.6h0M465.1 112.8h0M465 111.4h0M465.1 110.9h0M472.6 117.2h0M473.3 116.4h0M473.9 115.2h0M473.3 113.9h0M473.5 113h0M474 117.2h0M474.2 116h0M474.2 114.3h0M474.3 114h0M469.3 117.2h0M469.6 116.2h0M468.7 114.4h0M469.3 114.3h0" stroke="#1a1a1a" stroke-width="4" stroke-linecap="round" fill="none"/>
<rect x="476.8" y="121.9" width="16.7" height="39" fill="#999999"/>
<path d="M487.5 116.4h0M483.8 107.3h0M490.4 117.3h0M480.8 115.9h0M489.8 114.8h0M489.4 117h0M485.5 118.8h0M483.2 115.4h0M487.8 117.7h0M483.6 117.1h0M483.9 115.1h0M481.9 115h0M489.2 118.4h0M480.2 117.9h0M485.1 114.7h0M484.3 114.6h0M492.1 117.5h0M479.6 116.4h0M486.1 117.8h0M481.2 115.5h0M491.6 116.6h0M479.8 118.9h0M491.1 117.6h0M487.2 117.1h0M480.7 113.3h0M483.9 117.7h0M481.9 117.4h0M478.3 121.9h0M477.9 120.5h0M478.2 119.1h0M479.2 121.9h0M479.1 120.5h0M479.3 119.1h0M480.3 121.9h0M480 120.5h0M480 119.1h0M481.2 121.9h0M481 120.5h0M481.2 119.1h0M481.8 121.9h0M481.9 120.5h0M481.9 119.1h0M482.9 121.9h0M483 120.5h0M482.8 119.1h0M483.8 121.9h0M483.9 120.5h0M483.8 119.1h0M484.9 121.9h0M484.9 120.5h0M485.3 119.1h0M486 121.9h0M486.1 120.5h0M486.3 119.1h0M487 121.9h0M486.9 120.5h0M487 119.1h0M488.2 121.9h0M487.9 120.5h0M488.1 119.1h0M489 121.9h0M489 120.5h0M489.1 119.1h0M490 121.9h0M489.8 120.5h0M489.8 119.1h0M490.7 121.9h0M491.2 120.5h0M491.1 119.1h0M492.3 121.9h0M491.9 120.5h0M492 119.1h0M481.1 118.9h0M481.5 116.2h0M481.9 115.8h0M481.7 118.9h0M481.8 118h0M482 114.7h0M481.9 113.7h0M482.7 110.1h0M484.7 118.9h0M484.3 115.2h0M488.8 118.9h0M488.4 118h0M488.7 116.3h0M488.5 114.6h0M487.7 111.6h0M488.5 110.5h0M480.5 118.9h0M480.3 117.4h0M481.1 116.5h0M481.2 115.3h0M481.1 112.8h0" stroke="#999999" stroke-width="4" stroke-linecap="round" fill="none"/>
<rect x="493.5" y="121.9" width="15.5" height="39" fill="#1a1a1a"/>
<path d="M501.4 114.7h0M504.8 117.3h0M507.8 117.4h0M494.8 117.4h0M500.8 118.1h0M504.4 116.9h0M497.7 108.8h0M495.6 118.6h0M501.3 112.3h0M495.6 118.7h0M496.8 117.7h0M495.4 116.2h0M504.3 117.1h0M495.3 116.7h0M506.7 114.6h0M502 117.3h0M500 111.1h0M496.6 110.7h0M499.8 117.5h0M498 114.9h0M506 116.8h0M501.4 116.9h0M495 117.9h0M507 116.7h0M507.6 115.4h0M494.5 121.9h0M494.6 120.5h0M494.9 119.1h0M495.8 121.9h0M495.7 120.5h0M495.9 119.1h0M496.5 121.9h0M496.9 120.5h0M496.6 119.1h0M498 121.9h0M497.8 120.5h0M497.8 119.1h0M498.8 121.9h0M498.9 120.5h0M498.6 119.1h0M499.8 121.9h0M499.5 120.5h0M499.8 119.1h0M501 121.9h0M501 120.5h0M500.5 119.1h0M501.9 121.9h0M501.8 120.5h0M501.7 119.1h0M502.6 121.9h0M502.7 120.5h0M502.7 119.1h0M504 121.9h0M503.9 120.5h0M503.5 119.1h0M504.9 121.9h0M504.8 120.5h0M505 119.1h0M505.6 121.9h0M505.8 120.5h0M505.7 119.1h0M506.5 121.9h0M506.5 120.5h0M506.9 119.1h0M507.4 121.9h0M507.6 120.5h0M507.7 119.1h0M500.8 118.8h0M501.3 117.1h0M501.4 115.5h0M501.2 115.1h0M507.4 118.8h0M507.5 117.4h0M506.4 113.7h0M506.5 112.7h0M506.8 111.2h0M507.4 108.7h0M507.3 106.7h0M497.9 118.8h0M497.1 117.8h0M497.6 116.2h0M497.6 114.5h0M497 112.4h0M497.3 108.2h0M497.4 107.4h0M502.8 118.8h0M503 117.8h0M502.9 115.1h0M503.5 113.9h0M503.8 112.6h0M503 110.9h0M502.7 109.4h0M503.5 108.2h0M499.8 118.8h0M500.3 117.8h0M500 116h0M500.7 115.3h0M504.3 118.8h0M503.1 117.3h0M504.2 116.2h0M503.7 116.2h0M505.1 118.8h0M504.3 117.2h0M505.2 115.4h0M504.6 115.1h0" stroke="#1a1a1a" stroke-width="4" stroke-linecap="round" fill="none"/>
<rect x="509" y="121.9" width="15.2" height="39" fill="#999999"/>
<path d="M516.1 111.2h0M518.1 116.2h0M522.9 115.7h0M519.3 112.2h0M515.7 117.6h0M519.1 114.1h0M516.8 117.4h0M511.6 117.4h0M513 114.5h0M518.2 112.7h0M518.8 116.1h0M515.8 115.7h0M513.5 112.1h0M510.9 117.2h0M519.8 110.9h0M512.8 117h0M519.4 117.8h0M522.3 115.1h0M520.7 112.1h0M517.8 117.5h0M510.9 116.6h0M519.2 117.2h0M522.8 117.7h0M514.1 117.4h0M510.2 121.9h0M510.5 120.5h0M509.9 119.1h0M510.3 117.7h0M511.5 121.9h0M511.5 120.5h0M511.3 119.1h0M511.4 117.7h0M512.3 121.9h0M511.9 120.5h0M512.1 119.1h0M512.5 117.7h0M513 121.9h0M513 120.5h0M513.3 119.1h0M513.4 117.7h0M514.1 121.9h0M514.3 120.5h0M514.5 119.1h0M514.4 117.7h0M514.9 121.9h0M515.3 120.5h0M515 119.1h0M515.5 117.7h0M516.3 121.9h0M516.4 120.5h0M516.2 119.1h0M515.9 117.7h0M517 121.9h0M517 120.5h0M517.4 119.1h0M517.4 117.7h0M518.2 121.9h0M518.4 120.5h0M518 119.1h0M518.2 117.7h0M519.2 121.9h0M519.2 120.5h0M518.9 119.1h0M519 117.7h0M520 121.9h0M520.3 120.5h0M520.2 119.1h0M520.5 117.7h0M521.3 121.9h0M521 120.5h0M521 119.1h0M521.3 117.7h0M522.4 121.9h0M522 120.5h0M522.2 119.1h0M522.5 117.7h0M523.4 121.9h0M523 120.5h0M523.2 119.1h0M523.4 117.7h0M514.4 117.9h0M514.6 116h0M514.2 113.2h0M515.2 117.9h0M515.7 116.5h0M515.8 115.4h0M515.1 113.6h0M515.7 111.8h0M515.7 109.2h0M515.5 107.5h0" stroke="#999999" stroke-width="4" stroke-linecap="round" fill="none"/>
<rect x="524.2" y="121.9" width="13.8" height="39" fill="#1a1a1a"/>
<path d="M535.4 116.2h0M536 116.6h0M528.7 107.2h0M534.9 116.1h0M536.4 116.1h0M526.8 112.8h0M530.4 116.2h0M531.8 113h0M535.3 114.3h0M525.5 113.5h0M526.2 112.2h0M534.3 112.5h0M528.5 104.5h0M530.7 107.6h0M527.1 115.6h0M536.3 114.9h0M531 115.5h0M526.2 115.9h0M535.7 116.5h0M532.1 111.7h0M528.3 116.2h0M525.2 121.9h0M525.3 120.5h0M525.4 119.1h0M525.6 117.7h0M525.1 116.4h0M526.1 121.9h0M526.2 120.5h0M526.6 119.1h0M526.6 117.7h0M526.6 116.4h0M527.4 121.9h0M527.1 120.5h0M527.5 119.1h0M527.3 117.7h0M527.2 116.4h0M528.3 121.9h0M528.5 120.5h0M528.5 119.1h0M528.5 117.7h0M528.5 116.4h0M529.5 121.9h0M529.4 120.5h0M529.6 119.1h0M529.5 117.7h0M529.5 116.4h0M530.3 121.9h0M530.2 120.5h0M530.6 119.1h0M530.5 117.7h0M530.6 116.4h0M531.3 121.9h0M531.1 120.5h0M531.6 119.1h0M531.2 117.7h0M531.6 116.4h0M532.1 121.9h0M532.2 120.5h0M532.2 119.1h0M532.2 117.7h0M532.6 116.4h0M533.1 121.9h0M533.3 120.5h0M533.4 119.1h0M533.4 117.7h0M533.5 116.4h0M534.4 121.9h0M534.2 120.5h0M534.1 119.1h0M534.6 117.7h0M534.3 116.4h0M535.2 121.9h0M535.3 120.5h0M535.2 119.1h0M535.6 117.7h0M535.2 116.4h0M536.5 121.9h0M536.3 120.5h0M536.4 119.1h0M536.7 117.7h0M536.4 116.4h0M534.5 116.7h0M534.4 115h0M534 114.2h0M534.6 112.3h0M534.6 110.7h0M527.2 116.7h0M527.9 115.8h0M527.2 114.6h0M527.7 113.6h0M527.3 112.1h0M527.4 111.3h0M529.6 116.7h0M530.1 113.4h0" stroke="#1a1a1a" stroke-width="4" stroke-linecap="round" fill="none"/>
<rect x="538" y="121.9" width="13.9" height="39" fill="#999999"/>
<path d="M550.6 117h0M539.2 118.4h0M549.2 117h0M541.9 111.6h0M541.6 114.6h0M547.3 117.6h0M541.9 117.7h0M544.9 118.8h0M540.7 117.4h0M539.4 116.3h0M544.7 117.9h0M541 117.7h0M549.7 118.5h0M539.5 119h0M540.5 117.8h0M549.9 117.2h0M542.1 117.3h0M546.3 115.7h0M539.6 118.8h0M547.2 116.3h0M545.1 118.3h0M548.6 119.2h0M539.4 121.9h0M538.9 120.5h0M539.3 119.1h0M540.2 121.9h0M540.4 120.5h0M540.4 119.1h0M541.1 121.9h0M541.2 120.5h0M541 119.1h0M542.2 121.9h0M542.1 120.5h0M542.1 119.1h0M543.1 121.9h0M543.4 120.5h0M543.2 119.1h0M544.4 121.9h0M544.2 120.5h0M544.1 119.1h0M545.5 121.9h0M545.1 120.5h0M544.9 119.1h0M546 121.9h0M546.3 120.5h0M546.2 119.1h0M547.4 121.9h0M547.3 120.5h0M547.4 119.1h0M548 121.9h0M548.4 120.5h0M548 119.1h0M549.2 121.9h0M549.5 120.5h0M549.1 119.1h0M550.2 121.9h0M550.1 120.5h0M550 119.1h0M544.3 119.3h0M544.9 118.1h0M543.8 116.4h0M544 116h0M540.2 119.3h0M540.5 117.9h0M540.7 116.1h0M540.9 114.9h0M540.4 113.5h0M541.1 109.4h0" stroke="#999999" stroke-width="4" stroke-linecap="round" fill="none"/>
<rect x="551.9" y="121.9" width="11.9" height="39" fill="#1a1a1a"/>
<path d="M561 120.7h0M559.2 121.5h0M553.6 114.2h0M554.1 121h0M553.7 119.9h0M559.8 121.6h0M559.6 120.3h0M554.5 119.7h0M555.7 120.3h0M554.4 120.4h0M561.1 120.3h0M560.5 118.5h0M559.6 114.8h0M558.8 117.5h0M557.8 121.8h0M557.3 121.1h0M554.4 116.6h0M557.9 120h0M558.5 112.6h0M561.3 121.9h0M560.1 120h0M560.4 118.7h0M561.1 117.8h0M561.1 116.8h0M560.3 115.2h0M561 113.4h0M555.2 121.9h0M555.2 120.8h0M554.6 119h0" stroke="#1a1a1a" stroke-width="4" stroke-linecap="round" fill="none"/>
<rect x="563.8" y="121.9" width="12.5" height="39" fill="#999999"/>
<path d="M567.3 117.9h0M570.5 114.6h0M568.1 118.8h0M574.9 117.2h0M567.5 118.9h0M573.7 118.7h0M567.1 118.4h0M572.8 117.2h0M572.1 117.8h0M575 117.3h0M571.7 117.4h0M574.4 116.5h0M573.9 118.5h0M568.6 119.1h0M570.5 117.1h0M566 113h0M567.1 117.3h0M573.9 118.2h0M567.1 113.8h0M568.3 118.5h0M564.9 121.9h0M564.9 120.5h0M564.8 119.1h0M566.2 121.9h0M566.1 120.5h0M566.1 119.1h0M567.2 121.9h0M567.2 120.5h0M567 119.1h0M568.3 121.9h0M567.7 120.5h0M567.8 119.1h0M568.8 121.9h0M569.1 120.5h0M569.1 119.1h0M570.2 121.9h0M570.3 120.5h0M570.3 119.1h0M571 121.9h0M571 120.5h0M571 119.1h0M571.7 121.9h0M572 120.5h0M572.1 119.1h0M572.7 121.9h0M572.9 120.5h0M572.8 119.1h0M573.8 121.9h0M573.9 120.5h0M574 119.1h0M574.8 121.9h0M575.1 120.5h0M575.1 119.1h0M566.1 119.3h0M566.5 117.9h0M567.2 117.1h0M566.3 116h0M566.5 115.1h0M567.1 113.3h0M566.5 112.3h0M566.3 110.5h0M566.7 109.6h0M567.2 108h0M566.6 106.6h0M567.8 119.3h0M567.9 115.3h0M568.8 113.6h0" stroke="#999999" stroke-width="4" stroke-linecap="round" fill="none"/>
<rect x="576.3" y="121.9" width="11.9" height="39" fill="#1a1a1a"/>
<path d="M580 110.6h0M578.8 113.8h0M582.7 113.7h0M578.3 110.2h0M582 111.7h0M582.4 114h0M586.5 109.6h0M584.2 112.4h0M577.6 113.2h0M577.6 112.9h0M582.7 113.4h0M583 112.7h0M582.8 113.9h0M585.9 109h0M579.5 111.4h0M582.5 112.6h0M585.7 112.4h0M584.1 111.4h0M577.7 121.9h0M577.6 120.5h0M577.4 119.1h0M577.2 117.7h0M577.6 116.4h0M577.3 115h0M577.4 113.6h0M578.7 121.9h0M578.2 120.5h0M578.4 119.1h0M578.3 117.7h0M578.5 116.4h0M578.5 115h0M578.4 113.6h0M579.8 121.9h0M579.5 120.5h0M579.3 119.1h0M579.7 117.7h0M579.6 116.4h0M579.4 115h0M579.7 113.6h0M580.7 121.9h0M580.4 120.5h0M580.7 119.1h0M580.6 117.7h0M580.2 116.4h0M580.3 115h0M580.2 113.6h0M581.6 121.9h0M581.3 120.5h0M581.5 119.1h0M581.5 117.7h0M581.2 116.4h0M581.8 115h0M581.8 113.6h0M582.8 121.9h0M582.4 120.5h0M582.4 119.1h0M582.3 117.7h0M582.8 116.4h0M582.7 115h0M582.3 113.6h0M583.2 121.9h0M583.7 120.5h0M583.4 119.1h0M583.4 117.7h0M583.7 116.4h0M583.7 115h0M583.5 113.6h0M584.7 121.9h0M584.5 120.5h0M584.5 119.1h0M584.6 117.7h0M584.5 116.4h0M584.4 115h0M584.6 113.6h0M585.6 121.9h0M585.3 120.5h0M585.5 119.1h0M585.5 117.7h0M585.5 116.4h0M585.5 115h0M585.6 113.6h0M586.5 121.9h0M586.5 120.5h0M586.7 119.1h0M586.2 117.7h0M586.6 116.4h0M586.2 115h0M586.2 113.6h0M585.2 114.1h0M585 112.7h0M584.5 111.1h0M585 107.7h0M585.4 105.9h0M584 114.1h0M583.6 113h0M583.8 111.9h0M583.1 110.4h0M583.2 109.5h0" stroke="#1a1a1a" stroke-width="4" stroke-linecap="round" fill="none"/>
<rect x="588.2" y="121.9" width="13" height="39" fill="#999999"/>
<path d="M596.9 116.5h0M597.2 114.5h0M590.3 115.9h0M596.1 111.5h0M596.7 115h0M596.4 114.7h0M597.8 112.3h0M596.6 117.4h0M591.1 116.2h0M592.3 117.3h0M596.6 117.5h0M597.8 116.8h0M591.8 113.5h0M594.1 116.9h0M590.7 117.1h0M597 117.4h0M598.1 116.7h0M589.9 116.1h0M598.2 117.2h0M592.5 114.4h0M593.2 116.1h0M589.6 121.9h0M589.3 120.5h0M589.5 119.1h0M589.5 117.7h0M590.6 121.9h0M590.6 120.5h0M590.4 119.1h0M590.4 117.7h0M591.3 121.9h0M591.4 120.5h0M591.6 119.1h0M591.3 117.7h0M592.5 121.9h0M592.3 120.5h0M592.6 119.1h0M592.3 117.7h0M593.2 121.9h0M593.4 120.5h0M593.4 119.1h0M593.2 117.7h0M594.1 121.9h0M594.3 120.5h0M594.1 119.1h0M594.6 117.7h0M595.3 121.9h0M595.5 120.5h0M595.6 119.1h0M595.4 117.7h0M596.6 121.9h0M596.4 120.5h0M596.1 119.1h0M596.4 117.7h0M597.3 121.9h0M597.3 120.5h0M597.4 119.1h0M597.6 117.7h0M598.6 121.9h0M598.6 120.5h0M598.2 119.1h0M598.5 117.7h0M599.6 121.9h0M599.2 120.5h0M599.7 119.1h0M599.3 117.7h0M592.4 117.6h0M592.1 116.2h0M591.7 115h0M592.5 113.9h0M592 113.6h0M594.4 117.6h0M594.5 115.9h0M595.2 114.6h0M595.5 113.4h0M597.9 117.6h0M597.5 115.8h0M597.7 114h0M598.5 112.9h0M597.8 111.1h0M597.7 109.3h0M598.4 107.6h0M598.4 107.6h0M593 117.6h0M593.3 116.3h0M593.2 115.2h0M593.1 114.1h0M594.1 112.4h0M593.6 110.8h0M593.5 108.8h0M591.8 117.6h0M591.9 115.9h0M591.4 114.3h0M590.9 111.8h0M591.3 110.2h0M590.8 108.4h0M592.1 107.2h0M591.1 105.6h0M599.8 117.6h0M598.8 115.7h0M599.1 111.4h0M595.8 117.6h0M595.4 116.5h0M595.9 114.9h0" stroke="#999999" stroke-width="4" stroke-linecap="round" fill="none"/>
<rect x="601.2" y="121.9" width="9.7" height="39" fill="#1a1a1a"/>
<path d="M603.4 121.4h0M604 120.4h0M606.1 118.9h0M604.8 120.5h0M604.6 119.2h0M602.8 119h0M602.9 119.6h0M608.5 121.8h0M609.6 114.8h0M609.3 117.1h0M606.2 121.3h0M603.8 120h0M605.7 116h0M607 118.8h0M605.7 120.3h0M607.2 120.2h0M609.2 121.9h0M609.4 120.7h0M609.4 117.7h0M608.9 116.6h0M609.4 115.2h0M608.6 115.1h0M608.7 121.9h0M609.8 120.7h0M609.2 119.4h0M609.8 118.2h0M608.7 116.4h0M609.8 114.8h0M609 113.2h0M609.6 113.1h0M607.3 121.9h0M608.1 120.7h0M607.2 119.1h0M607.9 117.4h0M608.3 115.8h0M607.4 113.9h0M607.4 113.4h0M605.3 121.9h0M604.8 118.6h0M605.8 118.2h0M603 121.9h0M602.8 120.6h0M603.2 118.8h0M602.6 115.8h0M603.5 112h0M603.4 110.9h0M603.3 109.3h0M603.5 108.3h0M603 107h0" stroke="#1a1a1a" stroke-width="4" stroke-linecap="round" fill="none"/>
<rect x="610.9" y="121.9" width="10.3" height="39" fill="#999999"/>
<path d="M619.3 117.1h0M619.5 116.3h0M615.9 113.6h0M614.8 116.7h0M614.8 115.8h0M618.5 117.3h0M614.6 116.4h0M615.8 114.1h0M612.4 116.4h0M614 114.4h0M618.9 115.2h0M619.4 115.1h0M620 116.9h0M614.1 117.2h0M616.7 117h0M616.5 117.5h0M611.9 121.9h0M612.3 120.5h0M612.3 119.1h0M611.9 117.7h0M613.2 121.9h0M613.1 120.5h0M613.3 119.1h0M612.8 117.7h0M613.9 121.9h0M614 120.5h0M614.3 119.1h0M613.9 117.7h0M615 121.9h0M615.1 120.5h0M615.3 119.1h0M615.3 117.7h0M615.8 121.9h0M616 120.5h0M616.3 119.1h0M616 117.7h0M616.9 121.9h0M616.9 120.5h0M617 119.1h0M617.2 117.7h0M618.4 121.9h0M618.3 120.5h0M618.3 119.1h0M617.9 117.7h0M618.9 121.9h0M619 120.5h0M619.2 119.1h0M619.1 117.7h0M620.3 121.9h0M620.1 120.5h0M620.4 119.1h0M620.2 117.7h0M613.1 118.4h0M614 117.1h0M613.7 115.2h0M613.7 114.1h0M613 112.5h0M612.9 110.8h0M613.3 109.4h0M613.8 109.1h0M615.6 118.4h0M616.1 117.4h0M616.2 115.6h0M615.7 114.3h0M615.9 113.4h0M615.4 107.3h0M616 106.7h0M618.6 118.4h0M619.2 116.8h0M618.7 115.3h0M619.5 112.4h0M619.4 111.4h0M618.8 109.6h0M616.9 118.4h0M616.7 117.1h0M617.3 115.3h0M616.9 113.6h0M617.3 113h0" stroke="#999999" stroke-width="4" stroke-linecap="round" fill="none"/>
<rect x="621.2" y="121.9" width="6.9" height="39" fill="#1a1a1a"/>
<path d="M624.5 112.4h0M625.8 114.9h0M623.4 114.6h0M624.5 115.3h0M625.6 111.1h0M623.1 113h0M623.1 112h0M622.8 113.9h0M623.3 114.6h0M623.5 112.4h0M623.9 113.5h0M622.4 121.9h0M622.5 120.5h0M622.3 119.1h0M622.6 117.7h0M622.1 116.4h0M623.7 121.9h0M623.4 120.5h0M623.5 119.1h0M623.2 117.7h0M623.3 116.4h0M624.1 121.9h0M624.6 120.5h0M624.3 119.1h0M624.7 117.7h0M624.6 116.4h0M625.2 121.9h0M625.1 120.5h0M625.2 119.1h0M625.1 117.7h0M625.7 116.4h0M626.2 121.9h0M626.6 120.5h0M626.2 119.1h0M626.4 117.7h0M626.1 116.4h0M624.8 115.8h0M624.5 114.6h0M624.5 112.7h0M624.7 111.9h0" stroke="#1a1a1a" stroke-width="4" stroke-linecap="round" fill="none"/>
<rect x="628.1" y="121.9" width="7.7" height="39" fill="#999999"/>
<path d="M631.9 113.5h0M633.3 114.1h0M629.9 115.7h0M634.1 115.7h0M633.1 114.6h0M630.1 114.8h0M633.4 115.4h0M630.1 113.9h0M632.8 114.1h0M634.3 115h0M631.8 115.1h0M632.3 112.4h0M629.4 121.9h0M629.5 120.5h0M629.1 119.1h0M629.5 117.7h0M629.5 116.4h0M630.1 121.9h0M630.4 120.5h0M630.6 119.1h0M630.6 117.7h0M630.5 116.4h0M631.1 121.9h0M631.6 120.5h0M631.2 119.1h0M631.1 117.7h0M631 116.4h0M632.4 121.9h0M632.3 120.5h0M632.3 119.1h0M632.1 117.7h0M632.4 116.4h0M633.5 121.9h0M633.3 120.5h0M633.1 119.1h0M633 117.7h0M633.4 116.4h0M634.1 121.9h0M634 120.5h0M634.5 119.1h0M634 117.7h0M634.3 116.4h0M631.3 115.8h0M631.7 112.3h0M631.4 111.4h0M631.2 108.5h0M633.7 115.8h0M632.9 113.1h0" stroke="#999999" stroke-width="4" stroke-linecap="round" fill="none"/>
<rect x="635.8" y="121.9" width="6.4" height="39" fill="#1a1a1a"/>
<path d="M640.9 113h0M638.9 114h0M637.5 114.4h0M638.5 113.8h0M641 111.7h0M638.4 113.1h0M640.8 114.9h0M639.1 112.7h0M638.3 110.8h0M640.4 112.8h0M637.2 121.9h0M636.8 120.5h0M637.2 119.1h0M637 117.7h0M637.1 116.4h0M636.9 115h0M637.9 121.9h0M638.2 120.5h0M638.1 119.1h0M638.1 117.7h0M638.2 116.4h0M637.9 115h0M639.2 121.9h0M639.1 120.5h0M639.2 119.1h0M639.3 117.7h0M639.1 116.4h0M639.1 115h0M640.2 121.9h0M640.1 120.5h0M640.2 119.1h0M640 117.7h0M639.9 116.4h0M639.9 115h0M641.2 121.9h0M640.9 120.5h0M640.8 119.1h0M640.9 117.7h0M641.1 116.4h0M641.2 115h0" stroke="#1a1a1a" stroke-width="4" stroke-linecap="round" fill="none"/>
<rect x="642.2" y="121.9" width="8" height="39" fill="#999999"/>
<path d="M646 114.1h0M647.8 112h0M646 107.7h0M644.9 109.3h0M648.5 112.3h0M645.4 111.2h0M644.2 113.4h0M646.1 114.9h0M646.9 109.4h0M647.4 113.4h0M647.1 113.8h0M647.4 114.7h0M645.9 114h0M643.2 121.9h0M643.3 120.5h0M643.3 119.1h0M643.2 117.7h0M643.3 116.4h0M643.6 115h0M644.4 121.9h0M644.3 120.5h0M644.1 119.1h0M644.3 117.7h0M644.7 116.4h0M644.7 115h0M645.6 121.9h0M645.6 120.5h0M645.6 119.1h0M645.1 117.7h0M645.6 116.4h0M645.6 115h0M646.2 121.9h0M646.7 120.5h0M646.5 119.1h0M646.2 117.7h0M646.6 116.4h0M646.1 115h0M647.5 121.9h0M647.4 120.5h0M647.4 119.1h0M647.6 117.7h0M647.4 116.4h0M647.6 115h0M648.2 121.9h0M648.7 120.5h0M648.4 119.1h0M648.2 117.7h0M648.2 116.4h0M648.6 115h0" stroke="#999999" stroke-width="4" stroke-linecap="round" fill="none"/>
<rect x="650.2" y="121.9" width="5.6" height="39" fill="#1a1a1a"/>
<path d="M654.4 116.5h0M653.9 115.3h0M652.5 106.4h0M654.3 115.3h0M651.7 113.5h0M653.8 116.6h0M652.3 117.4h0M653.8 116.6h0M651.5 111.8h0M651.5 121.9h0M651.3 120.5h0M651.6 119.1h0M651.5 117.7h0M652.2 121.9h0M652.3 120.5h0M652.1 119.1h0M652.4 117.7h0M653.2 121.9h0M653.3 120.5h0M653.4 119.1h0M653.6 117.7h0M654.6 121.9h0M654.3 120.5h0M654.2 119.1h0M654.5 117.7h0M653.8 117.6h0M653.9 116.6h0M654.1 113.4h0M652.7 117.6h0M652.4 116h0M652.7 115h0M652 113.9h0M652.3 112.9h0M652.8 112.7h0M653.9 117.6h0M654.3 116.5h0M653.8 115.6h0M653.6 114.3h0M653.7 112.7h0M654.1 111.3h0" stroke="#1a1a1a" stroke-width="4" stroke-linecap="round" fill="none"/>
<rect x="655.8" y="121.9" width="5.5" height="39" fill="#999999"/>
<path d="M657.6 113.4h0M658.3 113.3h0M658.2 113.8h0M657.2 113.6h0M659.8 113.1h0M659.3 113.3h0M658.2 109.9h0M657.9 113.6h0M657.7 113.5h0M657.1 121.9h0M657 120.5h0M656.7 119.1h0M656.9 117.7h0M656.8 116.4h0M657 115h0M656.8 113.6h0M658.3 121.9h0M658.2 120.5h0M657.7 119.1h0M658.1 117.7h0M658.2 116.4h0M657.9 115h0M658.3 113.6h0M658.8 121.9h0M658.8 120.5h0M658.8 119.1h0M658.9 117.7h0M659.1 116.4h0M659.2 115h0M658.8 113.6h0M659.7 121.9h0M659.8 120.5h0M660.2 119.1h0M660.3 117.7h0M660.2 116.4h0M659.8 115h0M659.8 113.6h0M657.6 114.1h0M657.5 112.9h0M657.9 111.8h0M657.5 110h0M657.4 108.3h0M657.9 108.1h0M658 114.1h0M658.7 112.6h0M658.5 109.3h0M658.5 114.1h0M657.5 112.8h0M658.2 111.2h0M657.8 109.6h0" stroke="#999999" stroke-width="4" stroke-linecap="round" fill="none"/>
<rect x="661.3" y="121.9" width="4.2" height="39" fill="#1a1a1a"/>
<path d="M664.2 115.7h0M662.9 116.1h0M662.9 117.9h0M664.3 117.5h0M663.8 116.1h0M663.8 116.5h0M664.1 117.4h0M662.3 121.9h0M662.4 120.5h0M662.2 119.1h0M663.2 121.9h0M663.3 120.5h0M663.2 119.1h0M663.2 119.3h0M663.4 117.5h0M663.7 116h0M663.6 114.4h0M663.4 114.1h0" stroke="#1a1a1a" stroke-width="4" stroke-linecap="round" fill="none"/>
<rect x="665.5" y="121.9" width="6.3" height="39" fill="#999999"/>
<path d="M669.1 115.5h0M669.6 115.1h0M667.3 116.5h0M670.1 117.5h0M668.7 115h0M668.1 112.5h0M669.1 115.1h0M670.5 115.6h0M670.4 116h0M666.4 121.9h0M666.5 120.5h0M666.9 119.1h0M666.6 117.7h0M667.9 121.9h0M667.7 120.5h0M667.8 119.1h0M667.4 117.7h0M668.4 121.9h0M668.4 120.5h0M668.8 119.1h0M668.6 117.7h0M669.5 121.9h0M669.9 120.5h0M669.6 119.1h0M669.7 117.7h0M670.8 121.9h0M670.7 120.5h0M670.7 119.1h0M670.4 117.7h0M669.7 117.6h0M670.7 115.8h0M669.9 114.7h0M667.4 117.6h0M667.8 116.6h0M667.4 115.6h0M668 113.2h0" stroke="#999999" stroke-width="4" stroke-linecap="round" fill="none"/>
<ellipse cx="669.9" cy="158.2" rx="1.8" ry="1.8" fill="#1a1a1a"/>
<ellipse cx="418.7" cy="84.8" rx="2.3" ry="2.3" fill="#1a1a1a"/>
<ellipse cx="434.8" cy="94.1" rx="2.3" ry="2.3" fill="#1a1a1a"/>
<ellipse cx="419.4" cy="100.8" rx="2.3" ry="2.3" fill="#1a1a1a"/>
<ellipse cx="460.2" cy="74.3" rx="2.3" ry="2.3" fill="#999999"/>
<ellipse cx="455.8" cy="91.5" rx="2.3" ry="2.3" fill="#999999"/>
<ellipse cx="478" cy="85.2" rx="2.3" ry="2.3" fill="#1a1a1a"/>
<ellipse cx="478" cy="88.1" rx="2.3" ry="2.3" fill="#1a1a1a"/>
<ellipse cx="478" cy="92.1" rx="2.3" ry="2.3" fill="#1a1a1a"/>
<ellipse cx="477.6" cy="100.8" rx="2.3" ry="2.3" fill="#1a1a1a"/>
<ellipse cx="488.3" cy="96.1" rx="2.3" ry="2.3" fill="#999999"/>
<ellipse cx="495" cy="100.8" rx="2.3" ry="2.3" fill="#999999"/>
<ellipse cx="487.6" cy="102.2" rx="2.3" ry="2.3" fill="#999999"/>
<ellipse cx="487.6" cy="105.5" rx="2.3" ry="2.3" fill="#999999"/>
<ellipse cx="462.2" cy="99.9" rx="2.3" ry="2.3" fill="#1a1a1a"/>
<ellipse cx="464.9" cy="100.6" rx="2.3" ry="2.3" fill="#1a1a1a"/>
<ellipse cx="461.5" cy="101.8" rx="2.3" ry="2.3" fill="#1a1a1a"/>
<ellipse cx="470.9" cy="101.8" rx="2.3" ry="2.3" fill="#1a1a1a"/>
<ellipse cx="472.9" cy="105.5" rx="2.3" ry="2.3" fill="#1a1a1a"/>
<ellipse cx="455.5" cy="102.2" rx="2.3" ry="2.3" fill="#999999"/>
<ellipse cx="455.5" cy="105.5" rx="2.3" ry="2.3" fill="#999999"/>
<ellipse cx="441.5" cy="104.8" rx="2.3" ry="2.3" fill="#999999"/>
<ellipse cx="424" cy="104.8" rx="2.3" ry="2.3" fill="#1a1a1a"/>
<ellipse cx="420" cy="107.5" rx="2.3" ry="2.3" fill="#1a1a1a"/>
<ellipse cx="465.6" cy="106.9" rx="2.3" ry="2.3" fill="#1a1a1a"/>
<ellipse cx="482" cy="106.2" rx="2.3" ry="2.3" fill="#999999"/>
<ellipse cx="436.8" cy="108.5" rx="2.3" ry="2.3" fill="#1a1a1a"/>
<ellipse cx="504.4" cy="87.7" rx="2.3" ry="2.3" fill="#1a1a1a"/>
<ellipse cx="510.4" cy="89.7" rx="2.3" ry="2.3" fill="#1a1a1a"/>
<ellipse cx="504.6" cy="92.1" rx="2.3" ry="2.3" fill="#1a1a1a"/>
<ellipse cx="504.4" cy="95.9" rx="2.3" ry="2.3" fill="#1a1a1a"/>
<ellipse cx="508.4" cy="99.5" rx="2.3" ry="2.3" fill="#1a1a1a"/>
<ellipse cx="509" cy="101.5" rx="2.3" ry="2.3" fill="#1a1a1a"/>
<ellipse cx="554.6" cy="80.7" rx="2.3" ry="2.3" fill="#1a1a1a"/>
<ellipse cx="554.6" cy="85.2" rx="2.3" ry="2.3" fill="#1a1a1a"/>
<ellipse cx="566.9" cy="78.7" rx="2.3" ry="2.3" fill="#999999"/>
<ellipse cx="584.7" cy="91.5" rx="2.3" ry="2.3" fill="#1a1a1a"/>
<ellipse cx="551.2" cy="98.4" rx="2.3" ry="2.3" fill="#999999"/>
<ellipse cx="532.5" cy="99.8" rx="2.3" ry="2.3" fill="#1a1a1a"/>
<ellipse cx="576.7" cy="99.8" rx="2.3" ry="2.3" fill="#999999"/>
<ellipse cx="560.2" cy="102.2" rx="2.3" ry="2.3" fill="#1a1a1a"/>
<ellipse cx="548.5" cy="104.2" rx="2.3" ry="2.3" fill="#999999"/>
<ellipse cx="518.4" cy="103.5" rx="2.3" ry="2.3" fill="#999999"/>
<ellipse cx="532.5" cy="104.8" rx="2.3" ry="2.3" fill="#1a1a1a"/>
<ellipse cx="535.8" cy="106.9" rx="2.3" ry="2.3" fill="#1a1a1a"/>
<ellipse cx="541.2" cy="104.8" rx="2.3" ry="2.3" fill="#999999"/>
<ellipse cx="566.6" cy="103.1" rx="2.3" ry="2.3" fill="#999999"/>
<ellipse cx="570.6" cy="103.5" rx="2.3" ry="2.3" fill="#999999"/>
<ellipse cx="564.6" cy="104.6" rx="2.3" ry="2.3" fill="#1a1a1a"/>
<ellipse cx="578.4" cy="105.5" rx="2.3" ry="2.3" fill="#1a1a1a"/>
<ellipse cx="552.6" cy="110.9" rx="2.3" ry="2.3" fill="#1a1a1a"/>
<ellipse cx="495.7" cy="101.2" rx="2.3" ry="2.3" fill="#999999"/>
<ellipse cx="508" cy="107.5" rx="2.3" ry="2.3" fill="#1a1a1a"/>
<ellipse cx="527.1" cy="108.2" rx="2.3" ry="2.3" fill="#1a1a1a"/>
<ellipse cx="618.5" cy="82.1" rx="2.3" ry="2.3" fill="#999999"/>
<ellipse cx="617.1" cy="84.8" rx="2.3" ry="2.3" fill="#999999"/>
<ellipse cx="618.2" cy="93.1" rx="2.3" ry="2.3" fill="#999999"/>
<ellipse cx="656.6" cy="88.1" rx="2.3" ry="2.3" fill="#999999"/>
<ellipse cx="596.4" cy="95.5" rx="2.3" ry="2.3" fill="#999999"/>
<ellipse cx="598.4" cy="95.1" rx="2.3" ry="2.3" fill="#999999"/>
<ellipse cx="598" cy="98.2" rx="2.3" ry="2.3" fill="#999999"/>
<ellipse cx="634.5" cy="94.5" rx="2.3" ry="2.3" fill="#999999"/>
<ellipse cx="634.5" cy="100.2" rx="2.3" ry="2.3" fill="#999999"/>
<ellipse cx="629.2" cy="98.4" rx="2.3" ry="2.3" fill="#999999"/>
<ellipse cx="624.2" cy="96.4" rx="2.3" ry="2.3" fill="#1a1a1a"/>
<ellipse cx="641.9" cy="95.9" rx="2.3" ry="2.3" fill="#1a1a1a"/>
<ellipse cx="642.3" cy="99.5" rx="2.3" ry="2.3" fill="#1a1a1a"/>
<ellipse cx="642.6" cy="102.8" rx="2.3" ry="2.3" fill="#1a1a1a"/>
<ellipse cx="645.2" cy="95.5" rx="2.3" ry="2.3" fill="#999999"/>
<ellipse cx="651.5" cy="100.2" rx="2.3" ry="2.3" fill="#1a1a1a"/>
<ellipse cx="664.9" cy="101.5" rx="2.3" ry="2.3" fill="#1a1a1a"/>
<ellipse cx="663.3" cy="103.1" rx="2.3" ry="2.3" fill="#1a1a1a"/>
<ellipse cx="612.4" cy="99.8" rx="2.3" ry="2.3" fill="#999999"/>
<ellipse cx="612.8" cy="105.5" rx="2.3" ry="2.3" fill="#999999"/>
<ellipse cx="627.6" cy="103.1" rx="2.3" ry="2.3" fill="#1a1a1a"/>
<ellipse cx="623.8" cy="104.6" rx="2.3" ry="2.3" fill="#1a1a1a"/>
<ellipse cx="636.5" cy="107.1" rx="2.3" ry="2.3" fill="#1a1a1a"/>
<ellipse cx="653.3" cy="106.6" rx="2.3" ry="2.3" fill="#1a1a1a"/>
<ellipse cx="660" cy="103.5" rx="2.3" ry="2.3" fill="#999999"/>
<ellipse cx="604.7" cy="110.2" rx="2.3" ry="2.3" fill="#1a1a1a"/>
<ellipse cx="594.4" cy="105.5" rx="2.3" ry="2.3" fill="#999999"/>
<ellipse cx="664.9" cy="110.2" rx="2.3" ry="2.3" fill="#1a1a1a"/>
<ellipse cx="669.3" cy="108.9" rx="2.3" ry="2.3" fill="#999999"/>
<line x1="410.3" x2="677" y1="53.5" y2="53.5" stroke="#f08a8a" stroke-width="1.15"/>
<line x1="410.3" x2="677" y1="90.9" y2="90.9" stroke="#7c7cff" stroke-width="1.15"/>
<line x1="410.3" x2="410.3" y1="22.1" y2="159.7" stroke="#7a7a7a" stroke-width="1"/>
<line x1="403.3" x2="410.3" y1="159.7" y2="159.7" stroke="#7a7a7a" stroke-width="1"/>
<text class="t" x="392.5" y="164.3" text-anchor="middle" font-size="12" fill="#262626">0</text>
<line x1="403.3" x2="410.3" y1="125.3" y2="125.3" stroke="#7a7a7a" stroke-width="1"/>
<text class="t" x="392.5" y="129.9" text-anchor="middle" font-size="12" fill="#262626">2</text>
<line x1="403.3" x2="410.3" y1="90.9" y2="90.9" stroke="#7a7a7a" stroke-width="1"/>
<text class="t" x="392.5" y="95.5" text-anchor="middle" font-size="12" fill="#262626">4</text>
<line x1="403.3" x2="410.3" y1="56.5" y2="56.5" stroke="#7a7a7a" stroke-width="1"/>
<text class="t" x="392.5" y="61.1" text-anchor="middle" font-size="12" fill="#262626">6</text>
<line x1="403.3" x2="410.3" y1="22.1" y2="22.1" stroke="#7a7a7a" stroke-width="1"/>
<text class="t" x="392.5" y="26.7" text-anchor="middle" font-size="12" fill="#262626">8</text>
<line x1="428.9" x2="428.9" y1="160.9" y2="167.4" stroke="#7a7a7a" stroke-width="1"/>
<text class="t" x="428.9" y="186.7" text-anchor="middle" font-size="12" fill="#262626">1</text>
<line x1="450.5" x2="450.5" y1="160.9" y2="167.4" stroke="#7a7a7a" stroke-width="1"/>
<text class="t" x="450.5" y="186.7" text-anchor="middle" font-size="12" fill="#262626">2</text>
<line x1="469.7" x2="469.7" y1="160.9" y2="167.4" stroke="#7a7a7a" stroke-width="1"/>
<text class="t" x="469.7" y="186.7" text-anchor="middle" font-size="12" fill="#262626">3</text>
<line x1="486.8" x2="486.8" y1="160.9" y2="167.4" stroke="#7a7a7a" stroke-width="1"/>
<text class="t" x="486.8" y="186.7" text-anchor="middle" font-size="12" fill="#262626">4</text>
<line x1="503.4" x2="503.4" y1="160.9" y2="167.4" stroke="#7a7a7a" stroke-width="1"/>
<line x1="519.2" x2="519.2" y1="160.9" y2="167.4" stroke="#7a7a7a" stroke-width="1"/>
<text class="t" x="519.2" y="186.7" text-anchor="middle" font-size="12" fill="#262626">6</text>
<line x1="533.3" x2="533.3" y1="160.9" y2="167.4" stroke="#7a7a7a" stroke-width="1"/>
<line x1="546.6" x2="546.6" y1="160.9" y2="167.4" stroke="#7a7a7a" stroke-width="1"/>
<text class="t" x="546.6" y="186.7" text-anchor="middle" font-size="12" fill="#262626">8</text>
<line x1="559.1" x2="559.1" y1="160.9" y2="167.4" stroke="#7a7a7a" stroke-width="1"/>
<line x1="571.3" x2="571.3" y1="160.9" y2="167.4" stroke="#7a7a7a" stroke-width="1"/>
<text class="t" x="571.3" y="186.7" text-anchor="middle" font-size="12" fill="#262626">10</text>
<line x1="583.2" x2="583.2" y1="160.9" y2="167.4" stroke="#7a7a7a" stroke-width="1"/>
<line x1="595.1" x2="595.1" y1="160.9" y2="167.4" stroke="#7a7a7a" stroke-width="1"/>
<text class="t" x="595.1" y="186.7" text-anchor="middle" font-size="12" fill="#262626">12</text>
<line x1="607" x2="607" y1="160.9" y2="167.4" stroke="#7a7a7a" stroke-width="1"/>
<line x1="616.4" x2="616.4" y1="160.9" y2="167.4" stroke="#7a7a7a" stroke-width="1"/>
<line x1="625.3" x2="625.3" y1="160.9" y2="167.4" stroke="#7a7a7a" stroke-width="1"/>
<text class="t" x="625.3" y="186.7" text-anchor="middle" font-size="12" fill="#262626">15</text>
<line x1="633.3" x2="633.3" y1="160.9" y2="167.4" stroke="#7a7a7a" stroke-width="1"/>
<line x1="640.5" x2="640.5" y1="160.9" y2="167.4" stroke="#7a7a7a" stroke-width="1"/>
<line x1="647.5" x2="647.5" y1="160.9" y2="167.4" stroke="#7a7a7a" stroke-width="1"/>
<line x1="653.8" x2="653.8" y1="160.9" y2="167.4" stroke="#7a7a7a" stroke-width="1"/>
<text class="t" x="653.8" y="186.7" text-anchor="middle" font-size="12" fill="#262626">19</text>
<line x1="659.4" x2="659.4" y1="160.9" y2="167.4" stroke="#7a7a7a" stroke-width="1"/>
<line x1="664.4" x2="664.4" y1="160.9" y2="167.4" stroke="#7a7a7a" stroke-width="1"/>
<line x1="668.5" x2="668.5" y1="160.9" y2="167.4" stroke="#7a7a7a" stroke-width="1"/>
<line x1="669.9" x2="669.9" y1="160.9" y2="167.4" stroke="#7a7a7a" stroke-width="1"/>
<text class="t" x="544" y="210.8" text-anchor="middle" font-size="12" fill="#262626">Chromosome</text>
<text class="t" transform="translate(366.5 91.7) rotate(-90)" text-anchor="middle" font-size="12" fill="#262626">−<tspan dx="1.5">log</tspan><tspan font-size="8.4" dy="2">10</tspan><tspan dy="-2">(</tspan><tspan font-style="italic">p </tspan>)</text>
<line x1="460.6" x2="460.6" y1="22.6" y2="59.3" stroke="#000" stroke-width="2"/>
<polygon points="455.2,58.3 466,58.3 460.6,68.3" fill="#000"/>
<line x1="618.8" x2="618.8" y1="22.6" y2="66.8" stroke="#000" stroke-width="2"/>
<polygon points="613.4,65.8 624.2,65.8 618.8,77.1" fill="#000"/>
<text x="459.3" y="21.3" text-anchor="middle" font-size="11" font-weight="bold" font-style="italic" class="gn" fill="#2020ee" textLength="33" lengthAdjust="spacingAndGlyphs">SP110</text>
<text x="617.9" y="21.3" text-anchor="middle" font-size="11" font-weight="bold" font-style="italic" class="gn" fill="#2020ee" textLength="38" lengthAdjust="spacingAndGlyphs">NRXN3</text>
<text transform="translate(347.4 17.4) scale(1.13 1)" font-size="19.5" font-weight="bold" fill="#000" stroke="#000" stroke-width="0.4" style="stroke-width:0.4px">B</text></g>
<g><rect x="58.2" y="358.5" width="22.1" height="38.5" fill="#1a1a1a"/>
<path d="M61.1 350.6h0M64.1 352.2h0M75.2 349.4h0M70.9 347.1h0M61.3 350.2h0M67.9 349.1h0M68.8 349.6h0M62.5 350.6h0M73.9 348h0M61.6 351.5h0M67.1 347.3h0M69.6 341.2h0M67.9 352h0M71 346.5h0M73.9 350.7h0M78.2 351.2h0M65 352h0M72.2 344.6h0M73.1 352.2h0M65.2 348.8h0M59.4 351h0M78.6 346.1h0M65.3 349.6h0M65.6 341.7h0M77 352h0M70.9 352.1h0M68.7 347.9h0M74.6 351.4h0M60 345.6h0M73.3 349.7h0M66.8 351.1h0M61.2 343.9h0M72.4 352.3h0M77.7 349.7h0M63.5 350.5h0M59.1 358.5h0M59.3 357.1h0M59.2 355.8h0M59.2 354.4h0M59.2 353h0M60.6 358.5h0M60.2 357.1h0M60.3 355.8h0M60.4 354.4h0M60.6 353h0M61.7 358.5h0M61.5 357.1h0M61.2 355.8h0M61.4 354.4h0M61.5 353h0M62.1 358.5h0M62.5 357.1h0M62.3 355.8h0M62.5 354.4h0M62.5 353h0M63.5 358.5h0M63.4 357.1h0M63.4 355.8h0M63.2 354.4h0M63.4 353h0M64.2 358.5h0M64.4 357.1h0M64.4 355.8h0M64.6 354.4h0M64.3 353h0M65.1 358.5h0M65.4 357.1h0M65.2 355.8h0M65.5 354.4h0M65.3 353h0M66.3 358.5h0M66.6 357.1h0M66.3 355.8h0M66.3 354.4h0M66.3 353h0M67.4 358.5h0M67.2 357.1h0M67.4 355.8h0M67.7 354.4h0M67.4 353h0M68.5 358.5h0M68.7 357.1h0M68.6 355.8h0M68.5 354.4h0M68.6 353h0M69.6 358.5h0M69.3 357.1h0M69.4 355.8h0M69.3 354.4h0M69.3 353h0M70.4 358.5h0M70.3 357.1h0M70.5 355.8h0M70.4 354.4h0M70.2 353h0M71.4 358.5h0M71.3 357.1h0M71.5 355.8h0M71.2 354.4h0M71.2 353h0M72.4 358.5h0M72.3 357.1h0M72.5 355.8h0M72.3 354.4h0M72.2 353h0M73.7 358.5h0M73.2 357.1h0M73.2 355.8h0M73.3 354.4h0M73.3 353h0M74.2 358.5h0M74.4 357.1h0M74.7 355.8h0M74.2 354.4h0M74.3 353h0M75.5 358.5h0M75.6 357.1h0M75.7 355.8h0M75.2 354.4h0M75.4 353h0M76.6 358.5h0M76.1 357.1h0M76.5 355.8h0M76.2 354.4h0M76.6 353h0M77.7 358.5h0M77.4 357.1h0M77.1 355.8h0M77.1 354.4h0M77.3 353h0M78.6 358.5h0M78.2 357.1h0M78.5 355.8h0M78.3 354.4h0M78.3 353h0M75.7 352.5h0M76.6 351.3h0M76.9 349.9h0M76.5 348.4h0M76.6 346.8h0M76.6 346.5h0M69.4 352.5h0M68.7 351h0M69.2 349.6h0M75.9 352.5h0M76.1 350.8h0M76 349.5h0M76.7 348.2h0M76.5 346h0M76 343.8h0M76.1 340.7h0M71.9 352.5h0M71.8 350.9h0M71.8 349.4h0M71.8 348.4h0M70.1 352.5h0M68.8 351.5h0M69.1 348.7h0M69.9 347.2h0M69.8 346.4h0M69.1 352.5h0M68.6 351.2h0M69.2 350.1h0M68.8 348.4h0M68.1 347.2h0M68.6 344.1h0M68.8 343.9h0M60.9 352.5h0M61.1 351h0M60.5 349.4h0M61.1 347.9h0M76.4 352.5h0M76.4 351.3h0M77.1 349.5h0M76.7 348.1h0" stroke="#1a1a1a" stroke-width="4" stroke-linecap="round" fill="none"/>
<rect x="80.3" y="358.5" width="22.2" height="38.5" fill="#999999"/>
<path d="M81.6 345.7h0M90.4 348.6h0M94.9 351.6h0M93.9 354.7h0M97.5 353.4h0M84.5 352.6h0M89.4 353.3h0M93.7 351.6h0M82.1 353.6h0M98 349.2h0M89.7 352.6h0M86.4 353.4h0M85.9 350.9h0M94.4 354h0M82.4 345.6h0M86.3 354.6h0M87.5 354.7h0M86.6 352.9h0M96 351.6h0M93.2 353.9h0M99.4 354h0M95.4 348.7h0M87.3 355h0M87.9 354.7h0M83.9 348.1h0M86.3 349.5h0M93.5 353.5h0M96 354.4h0M87.4 352.5h0M88.3 351.4h0M97.4 354.1h0M100.5 351.6h0M83.2 353.2h0M82.9 348h0M96.5 354.1h0M91.3 355h0M81.2 358.5h0M81.6 357.1h0M81.6 355.8h0M81.6 354.4h0M82.6 358.5h0M82.4 357.1h0M82.4 355.8h0M82.4 354.4h0M83.4 358.5h0M83.4 357.1h0M83.7 355.8h0M83.3 354.4h0M84.3 358.5h0M84.6 357.1h0M84.4 355.8h0M84.4 354.4h0M85.8 358.5h0M85.7 357.1h0M85.3 355.8h0M85.3 354.4h0M86.5 358.5h0M86.5 357.1h0M86.4 355.8h0M86.6 354.4h0M87.6 358.5h0M87.7 357.1h0M87.3 355.8h0M87.6 354.4h0M88.2 358.5h0M88.2 357.1h0M88.2 355.8h0M88.3 354.4h0M89.7 358.5h0M89.4 357.1h0M89.5 355.8h0M89.5 354.4h0M90.3 358.5h0M90.2 357.1h0M90.3 355.8h0M90.7 354.4h0M91.4 358.5h0M91.5 357.1h0M91.4 355.8h0M91.6 354.4h0M92.6 358.5h0M92.4 357.1h0M92.5 355.8h0M92.4 354.4h0M93.5 358.5h0M93.6 357.1h0M93.5 355.8h0M93.7 354.4h0M94.8 358.5h0M94.2 357.1h0M94.4 355.8h0M94.2 354.4h0M95.4 358.5h0M95.7 357.1h0M95.6 355.8h0M95.5 354.4h0M96.3 358.5h0M96.7 357.1h0M96.6 355.8h0M96.4 354.4h0M97.7 358.5h0M97.2 357.1h0M97.3 355.8h0M97.7 354.4h0M98.2 358.5h0M98.3 357.1h0M98.5 355.8h0M98.6 354.4h0M99.6 358.5h0M99.2 357.1h0M99.4 355.8h0M99.6 354.4h0M100.4 358.5h0M100.3 357.1h0M100.2 355.8h0M100.4 354.4h0M91.9 355.1h0M91.8 353.4h0M91.4 351.6h0M91.1 350.7h0M95.1 355.1h0M96.2 353.5h0M95.5 352.3h0M95.9 351.5h0M83.7 355.1h0M83.7 351.6h0M89.3 355.1h0M89 353.4h0M89.1 352.1h0M89.9 350.7h0M89.7 349.4h0M90.2 348.3h0M89.5 347.3h0M90.2 345.5h0M89.7 344.1h0M82.9 355.1h0M82.4 353.9h0M82.3 351.6h0M98.2 355.1h0M97.8 353.8h0M97.9 352.5h0M98.6 351.4h0M97.6 348.1h0M98.4 346.4h0M98.2 343.5h0M93.8 355.1h0M93.9 353.9h0M93.7 352.7h0M94.3 351.4h0" stroke="#999999" stroke-width="4" stroke-linecap="round" fill="none"/>
<rect x="102.5" y="358.5" width="18.5" height="38.5" fill="#1a1a1a"/>
<path d="M106.9 353.1h0M105.7 355h0M110.4 353.7h0M114.2 354.3h0M117 350.8h0M111.1 354h0M117.4 352.1h0M116.8 355h0M117.4 353h0M109 353.8h0M111.2 352.7h0M106.3 354.1h0M113.1 353.9h0M104.4 351.7h0M111.3 354.2h0M106.3 355h0M111.4 352.6h0M106.6 351.7h0M103.7 349.7h0M110.5 350.6h0M110.6 354.8h0M112.4 354.7h0M105.7 355h0M111.7 346h0M108.5 354.2h0M105 354.3h0M110.3 353.3h0M114.4 350.8h0M108.6 352.7h0M115.2 354h0M104 358.5h0M103.9 357.1h0M103.6 355.8h0M103.4 354.4h0M104.5 358.5h0M104.7 357.1h0M104.5 355.8h0M104.5 354.4h0M105.6 358.5h0M105.9 357.1h0M105.4 355.8h0M106 354.4h0M106.7 358.5h0M106.8 357.1h0M106.7 355.8h0M107 354.4h0M107.5 358.5h0M107.6 357.1h0M107.7 355.8h0M107.7 354.4h0M108.6 358.5h0M108.6 357.1h0M108.5 355.8h0M108.7 354.4h0M109.9 358.5h0M109.9 357.1h0M109.6 355.8h0M110 354.4h0M111 358.5h0M110.6 357.1h0M110.5 355.8h0M110.9 354.4h0M112 358.5h0M111.8 357.1h0M112 355.8h0M111.7 354.4h0M112.7 358.5h0M112.4 357.1h0M112.6 355.8h0M113 354.4h0M113.5 358.5h0M113.5 357.1h0M113.4 355.8h0M113.7 354.4h0M114.8 358.5h0M114.7 357.1h0M114.9 355.8h0M114.8 354.4h0M115.8 358.5h0M115.8 357.1h0M115.7 355.8h0M115.4 354.4h0M116.5 358.5h0M116.8 357.1h0M116.5 355.8h0M116.6 354.4h0M117.8 358.5h0M117.8 357.1h0M117.5 355.8h0M117.6 354.4h0M118.5 358.5h0M118.8 357.1h0M118.8 355.8h0M118.5 354.4h0M119.6 358.5h0M119.5 357.1h0M119.8 355.8h0M119.6 354.4h0M109.3 355.1h0M108.9 354.1h0M108.9 352.3h0M109 350.8h0M110.9 355.1h0M110.9 353.3h0M110.8 350.7h0M106.7 355.1h0M107.2 353.3h0M106.8 351.6h0M106.8 351.1h0M111 355.1h0M110.4 354.1h0M110 353h0M111.1 351.5h0M110.5 350.3h0M110.1 347.3h0M110 344.8h0M110.3 343.6h0M106.2 355.1h0M105.8 353.4h0M106.8 351.8h0M106.9 350h0M106.5 348.5h0M106.4 346.6h0M106.6 344.5h0M104.7 355.1h0M103.9 353.6h0M104.5 352.5h0M104.7 350.8h0M104.3 348.7h0M106.1 355.1h0M105.9 354.1h0M105.1 352.7h0M105.3 351.5h0M105 350.3h0M118.1 355.1h0M117.2 353.9h0M117.3 352.1h0M117.4 350.8h0M117.9 349.8h0" stroke="#1a1a1a" stroke-width="4" stroke-linecap="round" fill="none"/>
<rect x="121" y="358.5" width="16.7" height="38.5" fill="#999999"/>
<path d="M122.8 353.5h0M134.3 355.9h0M134.3 356.3h0M125.3 355.4h0M136.2 355.7h0M134.7 354.7h0M132.5 353h0M123.7 354.6h0M128.6 354.8h0M133 349.1h0M130.1 355.9h0M123 351.2h0M133.1 355.1h0M128.1 352.6h0M125.4 354.2h0M127.2 356.3h0M123.7 355.8h0M127.4 354.6h0M122.4 355.7h0M136.5 353.8h0M124.2 355.9h0M127 355h0M126.5 356.5h0M128.8 356.6h0M127 356.2h0M134.9 356.6h0M124.9 353.8h0M122.3 358.5h0M122.2 357.1h0M123.4 358.5h0M123.2 357.1h0M124.2 358.5h0M124 357.1h0M125.5 358.5h0M125.3 357.1h0M126.5 358.5h0M126.5 357.1h0M127 358.5h0M127.3 357.1h0M128.2 358.5h0M128.4 357.1h0M128.9 358.5h0M129.3 357.1h0M130.3 358.5h0M130.1 357.1h0M131 358.5h0M131.3 357.1h0M131.9 358.5h0M132.1 357.1h0M132.9 358.5h0M133.1 357.1h0M134 358.5h0M134.3 357.1h0M135.3 358.5h0M135.3 357.1h0M136.1 358.5h0M136.4 357.1h0M135.6 356.8h0M135.4 355.1h0M135.1 353.5h0M134.9 351.8h0M124.9 356.8h0M124.3 355.4h0M124.6 352.6h0M124 351.1h0M124 350.2h0M130.4 356.8h0M131.1 355.1h0M131.2 353.6h0M131.2 353.1h0M128.6 356.8h0M129.3 355h0M128.5 354.1h0M128.9 353.9h0M127.8 356.8h0M128.5 355.1h0M128.1 353.5h0M124.6 356.8h0M125 355.5h0M125.4 351h0M123 356.8h0M123.1 355.2h0M123.5 354.1h0M130.2 356.8h0M129.6 353.6h0M130 353h0M129.6 356.8h0M130.2 355.1h0M130.4 354h0M130.2 353h0M126.5 356.8h0M126.7 353.3h0" stroke="#999999" stroke-width="4" stroke-linecap="round" fill="none"/>
<rect x="137.7" y="358.5" width="16" height="38.5" fill="#1a1a1a"/>
<path d="M151.8 352.1h0M144.9 352.4h0M143.8 351.3h0M151.1 349.3h0M151.7 351.7h0M149.4 351.5h0M151.2 349.2h0M151.8 348.3h0M145.5 348h0M143.8 346.9h0M139.7 349.7h0M144.9 348.6h0M141.9 351.5h0M148.8 352h0M147.2 350.6h0M151.6 348.7h0M148.3 345.4h0M142.3 348.3h0M144 351.7h0M145.7 350.9h0M146.2 348.8h0M151.7 348h0M147.5 351.6h0M143.3 350.4h0M142.6 348.1h0M146.7 348.6h0M139 358.5h0M139 357.1h0M139.2 355.8h0M138.9 354.4h0M139 353h0M140.2 358.5h0M139.6 357.1h0M139.8 355.8h0M139.8 354.4h0M139.9 353h0M140.9 358.5h0M141.2 357.1h0M140.7 355.8h0M140.8 354.4h0M140.6 353h0M141.7 358.5h0M142 357.1h0M141.6 355.8h0M142.2 354.4h0M142.1 353h0M142.7 358.5h0M143.1 357.1h0M142.7 355.8h0M142.9 354.4h0M142.7 353h0M143.7 358.5h0M143.9 357.1h0M144.1 355.8h0M143.7 354.4h0M143.7 353h0M144.9 358.5h0M145.2 357.1h0M144.8 355.8h0M145.1 354.4h0M144.9 353h0M145.9 358.5h0M146.1 357.1h0M145.7 355.8h0M145.9 354.4h0M145.6 353h0M146.9 358.5h0M147.2 357.1h0M146.6 355.8h0M146.7 354.4h0M146.9 353h0M148.2 358.5h0M147.9 357.1h0M148.2 355.8h0M147.8 354.4h0M148.2 353h0M148.7 358.5h0M149.1 357.1h0M148.8 355.8h0M149.1 354.4h0M148.6 353h0M149.8 358.5h0M150.2 357.1h0M150.1 355.8h0M149.9 354.4h0M149.8 353h0M151.2 358.5h0M150.7 357.1h0M150.7 355.8h0M150.6 354.4h0M151 353h0M152.1 358.5h0M151.7 357.1h0M152.1 355.8h0M152.1 354.4h0M151.7 353h0M141.5 352.5h0M141.1 351h0M140.7 349.2h0M140.8 349h0M144.5 352.5h0M144.1 351h0M144.2 349.7h0M144.5 348.2h0M145 352.5h0M143.9 351.3h0M144.2 349.3h0M142.4 352.5h0M143 349.6h0M142.3 346.3h0M142.6 345.2h0M142 343.4h0M143.1 342.5h0M142.6 341h0M142.4 340.7h0" stroke="#1a1a1a" stroke-width="4" stroke-linecap="round" fill="none"/>
<rect x="153.7" y="358.5" width="14.6" height="38.5" fill="#999999"/>
<path d="M155.1 353.6h0M163.5 354.2h0M162 351.9h0M155.9 354h0M161 349h0M156.7 351.6h0M159.9 348.1h0M163.9 351.4h0M162.3 347h0M158.9 351.7h0M164.2 350.3h0M158 352.4h0M162.8 354.1h0M158.5 352.6h0M162.6 353.3h0M161.9 340.9h0M162.2 351.7h0M165.2 352.3h0M164.8 353.2h0M166.9 352.9h0M157.7 353.2h0M166.9 348.1h0M163.1 349.7h0M155.2 358.5h0M154.7 357.1h0M154.8 355.8h0M155.1 354.4h0M156.1 358.5h0M155.7 357.1h0M155.9 355.8h0M155.6 354.4h0M157.1 358.5h0M157.1 357.1h0M157.2 355.8h0M157.1 354.4h0M157.9 358.5h0M157.8 357.1h0M158 355.8h0M157.9 354.4h0M159.2 358.5h0M158.9 357.1h0M158.9 355.8h0M159.2 354.4h0M159.8 358.5h0M159.8 357.1h0M159.6 355.8h0M160.2 354.4h0M160.9 358.5h0M160.9 357.1h0M161.1 355.8h0M161.1 354.4h0M161.7 358.5h0M161.7 357.1h0M162.1 355.8h0M162.2 354.4h0M162.9 358.5h0M163 357.1h0M162.6 355.8h0M162.9 354.4h0M163.6 358.5h0M163.7 357.1h0M163.6 355.8h0M163.9 354.4h0M164.9 358.5h0M164.9 357.1h0M165 355.8h0M164.6 354.4h0M165.7 358.5h0M165.7 357.1h0M165.9 355.8h0M166.1 354.4h0M166.7 358.5h0M167.1 357.1h0M166.8 355.8h0M166.7 354.4h0M160 354.2h0M160.8 353.3h0M160.7 350h0M160.6 348.8h0M160 348.5h0M161.3 354.2h0M160.5 351.5h0M160.4 350.7h0" stroke="#999999" stroke-width="4" stroke-linecap="round" fill="none"/>
<rect x="168.3" y="358.5" width="14.8" height="38.5" fill="#1a1a1a"/>
<path d="M170.7 350.4h0M172.6 352.2h0M170.7 353.6h0M172.6 353.4h0M170.8 353.3h0M173.2 343.8h0M174.9 354.1h0M176.3 353.6h0M179.5 349.9h0M173.1 352.7h0M174.3 353.4h0M180.3 353.6h0M169.7 353.7h0M175.9 350.3h0M171 353.4h0M169.7 354h0M180.5 349.3h0M177.8 354.1h0M175.3 354.1h0M179.5 347.2h0M181.4 352h0M176.7 349.4h0M175.2 353.6h0M169.5 351.2h0M169.4 358.5h0M169.3 357.1h0M169.4 355.8h0M169.7 354.4h0M170.7 358.5h0M170.7 357.1h0M170.3 355.8h0M170.5 354.4h0M171.3 358.5h0M171.3 357.1h0M171.7 355.8h0M171.3 354.4h0M172.8 358.5h0M172.8 357.1h0M172.5 355.8h0M172.6 354.4h0M173.8 358.5h0M173.6 357.1h0M173.7 355.8h0M173.6 354.4h0M174.2 358.5h0M174.7 357.1h0M174.6 355.8h0M174.4 354.4h0M175.2 358.5h0M175.4 357.1h0M175.5 355.8h0M175.4 354.4h0M176.5 358.5h0M176.4 357.1h0M176.6 355.8h0M176.8 354.4h0M177.2 358.5h0M177.6 357.1h0M177.7 355.8h0M177.2 354.4h0M178.5 358.5h0M178.7 357.1h0M178.6 355.8h0M178.4 354.4h0M179.4 358.5h0M179.2 357.1h0M179.5 355.8h0M179.7 354.4h0M180.7 358.5h0M180.6 357.1h0M180.5 355.8h0M180.3 354.4h0M181.4 358.5h0M181.3 357.1h0M181.4 355.8h0M181.2 354.4h0M174.9 354.2h0M175.2 353.4h0M174.8 351.3h0M179 354.2h0M179.4 352.8h0M178.7 350.7h0M174.9 354.2h0M175.9 352h0M175.5 349.5h0M172 354.2h0M170.9 352.8h0M171.4 351.4h0M172.1 354.2h0M171.5 353.2h0M172.1 351.4h0M172.6 350.5h0M171.8 348.8h0M172 348.1h0M173.5 354.2h0M172.8 352.8h0M173 351.3h0M172.9 350.2h0M178.6 354.2h0M178.5 352.5h0M179.1 350.9h0M178.6 350h0" stroke="#1a1a1a" stroke-width="4" stroke-linecap="round" fill="none"/>
<rect x="183.1" y="359.3" width="13.3" height="37.7" fill="#999999"/>
<path d="M190.2 357.3h0M184.5 357.5h0M193 355.9h0M188.4 359.1h0M190.9 358.7h0M186.5 359h0M191.6 358.2h0M189.7 358.7h0M195.1 356.6h0M194.6 359.3h0M190.5 357.6h0M186.2 357.4h0M187.4 359.3h0M190.2 355.2h0M193 355.6h0M194 355h0M193.9 358h0M192.8 356.2h0M189.3 358.5h0M190.5 358.6h0M187.1 358.3h0M186.2 359.3h0M185.1 358.4h0M185.7 357.4h0M186.1 356.3h0M185.2 354.9h0M185 353.4h0M185.7 352.4h0M185.1 351.1h0M185 349h0M185.3 347.6h0M185.5 347h0M188.6 359.3h0M188.6 357.7h0M188.5 355.3h0M189.3 353.6h0M189 352.9h0" stroke="#999999" stroke-width="4" stroke-linecap="round" fill="none"/>
<rect x="196.4" y="358.5" width="13" height="38.5" fill="#1a1a1a"/>
<path d="M199.6 353.7h0M207.9 351.9h0M198.1 356.1h0M200.5 351.9h0M204.1 355.5h0M204.3 355.2h0M199.6 351.4h0M200.4 350.8h0M201.9 355.6h0M208 344.1h0M208.1 355.7h0M198.7 355.9h0M206.7 355.2h0M201.8 355.7h0M200.3 350.4h0M202.2 350.5h0M198.2 351.6h0M205 356h0M200.2 355.2h0M197.9 356.6h0M197.3 358.5h0M197.4 357.1h0M198.8 358.5h0M198.9 357.1h0M199.4 358.5h0M199.9 357.1h0M200.8 358.5h0M200.4 357.1h0M201.6 358.5h0M201.5 357.1h0M202.7 358.5h0M202.5 357.1h0M203.5 358.5h0M203.6 357.1h0M204.5 358.5h0M204.8 357.1h0M205.7 358.5h0M205.3 357.1h0M206.6 358.5h0M206.6 357.1h0M207.9 358.5h0M207.9 357.1h0M199.7 356.8h0M198.4 355.8h0M199.5 353.4h0M198.6 351h0M198.4 350h0M199.1 349.1h0M199.3 345.1h0M206.8 356.8h0M208 354.9h0M207.7 353.3h0M199.4 356.8h0M198.7 355.9h0M198.5 354.8h0M199.1 353.9h0M198.4 352.6h0M198.7 351.1h0" stroke="#1a1a1a" stroke-width="4" stroke-linecap="round" fill="none"/>
<rect x="209.4" y="358.5" width="11.9" height="38.5" fill="#999999"/>
<path d="M219.9 353.5h0M214.4 358.3h0M216.3 354.1h0M217.5 356.5h0M211.6 357.5h0M218.5 358.1h0M218.5 358h0M211.7 357.4h0M216.9 352.6h0M214.5 354.2h0M212.3 358.2h0M212.7 354.3h0M211.9 354.7h0M219.4 353.2h0M218.4 354.5h0M217.6 356.2h0M212.3 352.9h0M217.6 355.5h0M213.1 357.2h0M219.1 358.5h0M218.3 356.7h0M218.7 355.2h0M218.3 354.9h0M219.2 358.5h0M219.3 357.6h0M219 356.7h0M218.4 355.3h0M219.4 354.2h0M219 351.1h0M217 358.5h0M216.9 357.1h0M217.8 355.2h0M217.5 354.7h0" stroke="#999999" stroke-width="4" stroke-linecap="round" fill="none"/>
<rect x="221.3" y="358.5" width="12.2" height="38.5" fill="#1a1a1a"/>
<path d="M226.9 346.5h0M230.2 350.8h0M228.7 348h0M232.2 350.7h0M229.3 350.3h0M223.7 349.5h0M227.8 350.2h0M223.3 349.4h0M227.6 349.8h0M223.6 348.5h0M227.3 347.8h0M222.8 348.7h0M225.9 348.6h0M223.1 347.5h0M225.6 349.7h0M226.2 350.7h0M222.6 350.6h0M225.6 347h0M229.1 348.5h0M222.5 358.5h0M222.4 357.1h0M222.5 355.8h0M222.7 354.4h0M222.5 353h0M222.2 351.7h0M222.4 350.3h0M223.4 358.5h0M223.3 357.1h0M223.2 355.8h0M223.6 354.4h0M223.2 353h0M223.4 351.7h0M223.6 350.3h0M224.7 358.5h0M224.4 357.1h0M224.2 355.8h0M224.8 354.4h0M224.6 353h0M224.7 351.7h0M224.6 350.3h0M225.6 358.5h0M225.2 357.1h0M225.3 355.8h0M225.7 354.4h0M225.4 353h0M225.6 351.7h0M225.6 350.3h0M226.5 358.5h0M226.2 357.1h0M226.5 355.8h0M226.5 354.4h0M226.4 353h0M226.5 351.7h0M226.5 350.3h0M227.2 358.5h0M227.4 357.1h0M227.3 355.8h0M227.5 354.4h0M227.3 353h0M227.5 351.7h0M227.5 350.3h0M228.3 358.5h0M228.3 357.1h0M228.5 355.8h0M228.6 354.4h0M228.8 353h0M228.6 351.7h0M228.5 350.3h0M229.8 358.5h0M229.8 357.1h0M229.5 355.8h0M229.5 354.4h0M229.8 353h0M229.4 351.7h0M229.7 350.3h0M230.3 358.5h0M230.3 357.1h0M230.4 355.8h0M230.5 354.4h0M230.4 353h0M230.3 351.7h0M230.3 350.3h0M231.2 358.5h0M231.7 357.1h0M231.7 355.8h0M231.7 354.4h0M231.6 353h0M231.5 351.7h0M231.5 350.3h0M227.5 350.8h0M227.6 346.9h0M227.6 344.1h0M227.5 342.9h0M228 342.3h0M230.3 350.8h0M229.5 349h0M229.4 347.9h0M229.1 346.8h0M229 345.8h0M229.9 345.3h0M225.5 350.8h0M225.4 349.7h0M224.8 348h0M225.6 346.7h0M225.2 345.2h0M224.7 344.6h0M231.1 350.8h0M231.3 349.7h0M230.5 348.5h0M230.5 347.3h0M231 345.5h0M231.3 344.2h0M227.3 350.8h0M227.8 347.4h0M228.1 346.9h0" stroke="#1a1a1a" stroke-width="4" stroke-linecap="round" fill="none"/>
<rect x="233.5" y="358.5" width="13.3" height="38.5" fill="#999999"/>
<path d="M242.6 355.6h0M236.7 352.4h0M237 356.5h0M244.7 357.1h0M241.2 355.7h0M236.6 349.6h0M238.6 352.1h0M239.4 354.4h0M242.4 353.5h0M243.7 356.7h0M243.5 355.4h0M236 357.5h0M235.6 356h0M241.8 354.8h0M242.3 354.9h0M235.7 355h0M240.3 356.8h0M243.6 357.1h0M242.9 357.5h0M244.1 352.7h0M240.6 357.5h0M234.8 358.5h0M234.4 357.1h0M235.5 358.5h0M235.7 357.1h0M236.4 358.5h0M236.4 357.1h0M238 358.5h0M238 357.1h0M238.8 358.5h0M238.8 357.1h0M239.5 358.5h0M239.4 357.1h0M240.5 358.5h0M240.7 357.1h0M241.9 358.5h0M241.7 357.1h0M242.6 358.5h0M242.4 357.1h0M243.5 358.5h0M243.7 357.1h0M244.6 358.5h0M244.7 357.1h0M245.8 358.5h0M245.6 357.1h0M238.6 357.6h0M239.5 356.5h0M239.1 355.6h0M238.5 354h0M235.6 357.6h0M235.1 355.8h0M235.8 354.1h0M235.8 352.6h0M235.7 350.6h0M239.2 357.6h0M239 356.1h0M238.1 352.6h0M238.1 351.6h0M238.5 350h0M238.3 349.5h0M240.7 357.6h0M240.8 356.1h0M242 354.4h0M241 353.5h0M241.5 352.3h0M241.2 348.9h0M241.5 348.2h0M241.5 357.6h0M241.5 356.7h0M242.1 353.9h0M241.6 353.3h0M240.1 357.6h0M240 356.1h0M240.7 353.3h0M237.7 357.6h0M238.2 355.9h0M238 354.5h0M241.1 357.6h0M241.9 356.5h0M241.4 355.2h0M241.6 353.4h0M243.1 357.6h0M243.1 356.3h0M242.3 355.2h0M242.2 354.1h0M242.4 353.1h0M242.4 350.7h0M242.9 349.7h0" stroke="#999999" stroke-width="4" stroke-linecap="round" fill="none"/>
<rect x="246.8" y="358.5" width="9.7" height="38.5" fill="#1a1a1a"/>
<path d="M250.2 355.8h0M248.1 351.8h0M250.7 356.3h0M250.4 355.3h0M250.1 354.8h0M255 352.9h0M254 356.4h0M253.6 356.3h0M252.3 356.3h0M254.2 356.7h0M254.4 356.2h0M252.2 355.2h0M251 356.4h0M250 356.1h0M251.9 350.7h0M249.5 354.9h0M248.1 358.5h0M248.1 357.1h0M248.9 358.5h0M249 357.1h0M249.9 358.5h0M250.1 357.1h0M250.8 358.5h0M250.9 357.1h0M251.8 358.5h0M252.1 357.1h0M253.3 358.5h0M253.1 357.1h0M253.8 358.5h0M253.8 357.1h0M255.1 358.5h0M255 357.1h0M249.4 356.8h0M248.7 355.1h0M248.8 353.4h0M248.9 352.6h0" stroke="#1a1a1a" stroke-width="4" stroke-linecap="round" fill="none"/>
<rect x="256.5" y="358.5" width="10.5" height="38.5" fill="#999999"/>
<path d="M260.9 352.5h0M263.3 351.7h0M259.1 352.6h0M259.4 351.7h0M262.6 351.7h0M261.2 350.1h0M265.6 345.8h0M258 351.4h0M258.4 351.5h0M261.6 351.1h0M258.8 352.2h0M263.6 351.6h0M261.4 351.6h0M261.9 352.4h0M262.6 349.2h0M263.2 350.9h0M261.5 351.8h0M257.4 358.5h0M257.6 357.1h0M258 355.8h0M257.8 354.4h0M257.8 353h0M258.9 358.5h0M258.6 357.1h0M258.4 355.8h0M258.8 354.4h0M258.7 353h0M259.6 358.5h0M259.5 357.1h0M259.5 355.8h0M259.9 354.4h0M260 353h0M260.4 358.5h0M260.8 357.1h0M260.6 355.8h0M260.8 354.4h0M260.5 353h0M262 358.5h0M261.6 357.1h0M261.8 355.8h0M261.7 354.4h0M261.8 353h0M262.8 358.5h0M262.6 357.1h0M262.4 355.8h0M262.4 354.4h0M262.6 353h0M263.9 358.5h0M263.7 357.1h0M263.7 355.8h0M263.4 354.4h0M263.6 353h0M264.7 358.5h0M264.8 357.1h0M264.8 355.8h0M264.6 354.4h0M264.8 353h0M265.4 358.5h0M265.7 357.1h0M265.8 355.8h0M265.9 354.4h0M266 353h0M265.3 353.4h0M265.5 352h0M265 351.1h0M265.4 348.4h0M264.8 347.1h0M264.8 345.3h0M265.6 353.4h0M265.1 352.4h0M264.3 349.1h0M265.1 348.1h0M265 353.4h0M265.6 352.4h0M265.8 351.5h0M264.7 349.9h0M265.2 348.8h0M264.9 347.5h0M265.8 346.3h0M265.7 346.2h0M260.8 353.4h0M261.6 352.2h0M260.6 350.9h0M261.5 349.4h0M260.8 346.5h0M261.4 346.4h0" stroke="#999999" stroke-width="4" stroke-linecap="round" fill="none"/>
<rect x="267" y="358.5" width="6.9" height="38.5" fill="#1a1a1a"/>
<path d="M271.3 350.2h0M268.8 354.3h0M270.4 355h0M271.6 354.7h0M268.5 351.3h0M271.5 350.9h0M271.2 346.6h0M271.6 355h0M268.9 354.9h0M272.5 351h0M269.9 344.5h0M268.3 358.5h0M268.4 357.1h0M268.1 355.8h0M268.1 354.4h0M268.9 358.5h0M269.5 357.1h0M269 355.8h0M269.4 354.4h0M269.9 358.5h0M270.3 357.1h0M270.4 355.8h0M270.2 354.4h0M271.3 358.5h0M271.2 357.1h0M271 355.8h0M271.5 354.4h0M272.3 358.5h0M272.5 357.1h0M272.4 355.8h0M272 354.4h0M270.6 355.1h0M270.3 353.7h0M270.6 352.8h0M270.7 352.4h0M271.7 355.1h0M271 353.5h0M271.4 352.2h0M271.8 350.5h0M271.3 350h0" stroke="#1a1a1a" stroke-width="4" stroke-linecap="round" fill="none"/>
<rect x="273.9" y="358.5" width="8.1" height="38.5" fill="#999999"/>
<path d="M276.6 351.1h0M275.9 347.5h0M278.2 351.5h0M279.9 341h0M279.4 351.6h0M278.7 351.5h0M275.4 351.5h0M278.6 347.6h0M279.5 344.6h0M276.9 348.4h0M277.8 350.1h0M277.6 350h0M277.9 351h0M274.9 358.5h0M274.8 357.1h0M275.3 355.8h0M275.1 354.4h0M275.2 353h0M275.1 351.7h0M276 358.5h0M275.8 357.1h0M276.2 355.8h0M276.1 354.4h0M275.8 353h0M275.9 351.7h0M277.4 358.5h0M277.2 357.1h0M276.9 355.8h0M277 354.4h0M277.2 353h0M277.3 351.7h0M277.9 358.5h0M278.2 357.1h0M278.1 355.8h0M278.2 354.4h0M277.9 353h0M278 351.7h0M279.2 358.5h0M279 357.1h0M279.1 355.8h0M279.1 354.4h0M279.1 353h0M279.3 351.7h0M280.3 358.5h0M279.9 357.1h0M280.2 355.8h0M279.8 354.4h0M280 353h0M280.2 351.7h0M278.9 351.7h0M278.8 350.6h0M279.8 347.7h0M279.5 346.4h0M279.4 346h0M278.4 351.7h0M278.2 350.4h0M278.6 348.5h0M278.7 347h0M278.5 344.8h0M278.7 344.6h0M276.9 351.7h0M276.7 350.5h0M276.7 349.5h0M276.8 347.7h0M276.3 346.8h0M276.7 345.7h0M276.2 344.7h0M276.7 344.4h0M279.4 351.7h0M280.3 350.8h0M279 349.9h0M279.4 346.2h0" stroke="#999999" stroke-width="4" stroke-linecap="round" fill="none"/>
<rect x="282" y="358.5" width="6.3" height="38.5" fill="#1a1a1a"/>
<path d="M284.2 355.7h0M284 353.4h0M284 352.2h0M285.3 355.6h0M283.4 352.3h0M286.7 352.3h0M284.7 353.3h0M284.8 353.9h0M286.1 355.1h0M283.5 352.6h0M283.2 358.5h0M283.4 357.1h0M283.3 355.8h0M283.9 358.5h0M284.2 357.1h0M284.4 355.8h0M285.2 358.5h0M285.1 357.1h0M285.1 355.8h0M286.4 358.5h0M286.1 357.1h0M286 355.8h0M287.3 358.5h0M287.5 357.1h0M287.3 355.8h0" stroke="#1a1a1a" stroke-width="4" stroke-linecap="round" fill="none"/>
<rect x="288.3" y="358.5" width="7.5" height="38.5" fill="#999999"/>
<path d="M290 351.5h0M291.1 352.3h0M293.2 351.5h0M294.1 351h0M293.4 352.4h0M290 349.6h0M293 351.8h0M293.5 350.8h0M291.8 350.9h0M290.6 350.1h0M292.2 348h0M291.8 351.2h0M289.4 358.5h0M289.7 357.1h0M289.8 355.8h0M289.6 354.4h0M289.6 353h0M290.3 358.5h0M290.2 357.1h0M290.6 355.8h0M290.4 354.4h0M290.4 353h0M291.6 358.5h0M291.2 357.1h0M291.5 355.8h0M291.6 354.4h0M291.6 353h0M292.2 358.5h0M292.2 357.1h0M292.7 355.8h0M292.7 354.4h0M292.7 353h0M293.5 358.5h0M293.4 357.1h0M293.7 355.8h0M293.4 354.4h0M293.8 353h0M294.5 358.5h0M294.2 357.1h0M294.2 355.8h0M294.7 354.4h0M294.4 353h0M291.7 352.5h0M291.8 351.3h0M291.6 349.5h0M290.9 348.5h0M290.8 345.1h0M291.7 343.4h0M291.2 343.1h0" stroke="#999999" stroke-width="4" stroke-linecap="round" fill="none"/>
<rect x="295.8" y="358.5" width="5.8" height="38.5" fill="#1a1a1a"/>
<path d="M298.8 353.2h0M299.7 357h0M298.6 357.3h0M297.1 357.2h0M298.4 357.3h0M299.5 357.1h0M299 357.1h0M299.8 356.1h0M299.5 353.2h0M296.8 358.5h0M296.7 357.1h0M298 358.5h0M297.9 357.1h0M298.7 358.5h0M299 357.1h0M300 358.5h0M300.2 357.1h0M299.8 357.6h0M300.4 356.5h0M299.9 355h0M300.3 351.3h0M299.6 350.4h0" stroke="#1a1a1a" stroke-width="4" stroke-linecap="round" fill="none"/>
<rect x="301.6" y="358.5" width="6.1" height="38.5" fill="#999999"/>
<path d="M305.8 354.8h0M304.3 356.5h0M302.9 354.7h0M304.3 349h0M305.4 356.3h0M305.7 351.8h0M305.7 356.1h0M303.5 354.4h0M302.9 352.9h0M306.2 352.1h0M302.6 358.5h0M302.8 357.1h0M303.8 358.5h0M303.7 357.1h0M305.1 358.5h0M304.8 357.1h0M305.9 358.5h0M306 357.1h0M303.7 356.8h0M305 355.8h0M303.9 354h0M304.2 353h0M303.2 356.8h0M303.2 355.1h0M304.5 353.8h0M304.3 352.4h0M304 350.7h0M304.6 356.8h0M304.8 355.6h0M304.6 354.1h0M305.3 352.4h0M304.9 349.7h0M303.8 356.8h0M303.6 355.7h0M302.8 354.2h0M303.8 352.9h0M303.7 351.3h0M303.3 349.2h0M305.4 356.8h0M305.1 354.9h0M304.6 353.8h0M305 352.8h0" stroke="#999999" stroke-width="4" stroke-linecap="round" fill="none"/>
<rect x="307.7" y="358.5" width="4.2" height="38.5" fill="#1a1a1a"/>
<path d="M309.6 350.8h0M309.7 345.7h0M310.5 348.6h0M310.1 351.4h0M309.3 351.4h0M309.4 351.3h0M309.9 350.7h0M308.7 358.5h0M308.9 357.1h0M308.9 355.8h0M309.1 354.4h0M308.9 353h0M308.6 351.7h0M309.8 358.5h0M310.1 357.1h0M310.1 355.8h0M310.1 354.4h0M310 353h0M309.7 351.7h0" stroke="#1a1a1a" stroke-width="4" stroke-linecap="round" fill="none"/>
<rect x="311.9" y="358.5" width="6.9" height="38.5" fill="#999999"/>
<path d="M314.7 357.5h0M314.2 356.6h0M315.7 354.6h0M314.3 356.8h0M316.4 355.8h0M313.3 351.5h0M316.1 348.5h0M314.2 353h0M316.8 354.7h0M317.1 355.5h0M315.6 357h0M313 358.5h0M313.4 357.1h0M314.3 358.5h0M314 357.1h0M315.4 358.5h0M315.4 357.1h0M316.1 358.5h0M316.2 357.1h0M317.1 358.5h0M317.1 357.1h0M313.8 357.6h0M313.5 356.7h0M313.4 355.1h0M313.2 353.9h0M312.8 352.3h0M313.7 350.6h0M316.3 357.6h0M316.5 354.8h0M315.8 351.6h0M315.6 349.9h0M315.6 345.2h0M315.9 344.2h0M316.2 343.3h0M316.5 342.2h0" stroke="#999999" stroke-width="4" stroke-linecap="round" fill="none"/>
<ellipse cx="316.9" cy="392.7" rx="1.8" ry="1.8" fill="#1a1a1a"/>
<ellipse cx="71.1" cy="326.5" rx="2.3" ry="2.3" fill="#1a1a1a"/>
<ellipse cx="71.1" cy="329" rx="2.3" ry="2.3" fill="#1a1a1a"/>
<ellipse cx="71.1" cy="331.5" rx="2.3" ry="2.3" fill="#1a1a1a"/>
<ellipse cx="71.1" cy="333.8" rx="2.3" ry="2.3" fill="#1a1a1a"/>
<ellipse cx="95.9" cy="323.8" rx="2.3" ry="2.3" fill="#999999"/>
<ellipse cx="104.9" cy="328.2" rx="2.3" ry="2.3" fill="#1a1a1a"/>
<ellipse cx="139" cy="328.2" rx="2.3" ry="2.3" fill="#999999"/>
<ellipse cx="111.8" cy="334.1" rx="2.3" ry="2.3" fill="#1a1a1a"/>
<ellipse cx="93.5" cy="333.2" rx="2.3" ry="2.3" fill="#999999"/>
<ellipse cx="100.9" cy="331.1" rx="2.3" ry="2.3" fill="#999999"/>
<ellipse cx="100.9" cy="334.5" rx="2.3" ry="2.3" fill="#999999"/>
<ellipse cx="87.9" cy="336.5" rx="2.3" ry="2.3" fill="#999999"/>
<ellipse cx="82.8" cy="338.5" rx="2.3" ry="2.3" fill="#999999"/>
<ellipse cx="61.1" cy="339.8" rx="2.3" ry="2.3" fill="#1a1a1a"/>
<ellipse cx="76.8" cy="338.1" rx="2.3" ry="2.3" fill="#1a1a1a"/>
<ellipse cx="71.1" cy="340.5" rx="2.3" ry="2.3" fill="#1a1a1a"/>
<ellipse cx="68.7" cy="341.9" rx="2.3" ry="2.3" fill="#1a1a1a"/>
<ellipse cx="134.3" cy="337.2" rx="2.3" ry="2.3" fill="#999999"/>
<ellipse cx="141.4" cy="336.5" rx="2.3" ry="2.3" fill="#1a1a1a"/>
<ellipse cx="108" cy="341.9" rx="2.3" ry="2.3" fill="#1a1a1a"/>
<ellipse cx="121.2" cy="343.9" rx="2.3" ry="2.3" fill="#1a1a1a"/>
<ellipse cx="115" cy="345.2" rx="2.3" ry="2.3" fill="#1a1a1a"/>
<ellipse cx="97.5" cy="337.8" rx="2.3" ry="2.3" fill="#999999"/>
<ellipse cx="103.5" cy="338.5" rx="2.3" ry="2.3" fill="#999999"/>
<ellipse cx="98.2" cy="341.9" rx="2.3" ry="2.3" fill="#999999"/>
<ellipse cx="102.2" cy="343.9" rx="2.3" ry="2.3" fill="#999999"/>
<ellipse cx="93.5" cy="339.8" rx="2.3" ry="2.3" fill="#999999"/>
<ellipse cx="84.8" cy="343.2" rx="2.3" ry="2.3" fill="#999999"/>
<ellipse cx="159.1" cy="315.1" rx="2.3" ry="2.3" fill="#999999"/>
<ellipse cx="185.9" cy="317.8" rx="2.3" ry="2.3" fill="#999999"/>
<ellipse cx="185.9" cy="320.5" rx="2.3" ry="2.3" fill="#999999"/>
<ellipse cx="185.9" cy="323" rx="2.3" ry="2.3" fill="#999999"/>
<ellipse cx="185.9" cy="325.5" rx="2.3" ry="2.3" fill="#999999"/>
<ellipse cx="185.9" cy="328" rx="2.3" ry="2.3" fill="#999999"/>
<ellipse cx="185.9" cy="330.5" rx="2.3" ry="2.3" fill="#999999"/>
<ellipse cx="186.2" cy="337.8" rx="2.3" ry="2.3" fill="#999999"/>
<ellipse cx="186.2" cy="340.5" rx="2.3" ry="2.3" fill="#999999"/>
<ellipse cx="186.2" cy="343" rx="2.3" ry="2.3" fill="#999999"/>
<ellipse cx="186.2" cy="346" rx="2.3" ry="2.3" fill="#999999"/>
<ellipse cx="212.3" cy="321.8" rx="2.3" ry="2.3" fill="#999999"/>
<ellipse cx="200.2" cy="329.8" rx="2.3" ry="2.3" fill="#1a1a1a"/>
<ellipse cx="200.2" cy="333.8" rx="2.3" ry="2.3" fill="#1a1a1a"/>
<ellipse cx="217.2" cy="331.8" rx="2.3" ry="2.3" fill="#999999"/>
<ellipse cx="221" cy="336.9" rx="2.3" ry="2.3" fill="#999999"/>
<ellipse cx="170.8" cy="334.2" rx="2.3" ry="2.3" fill="#1a1a1a"/>
<ellipse cx="170.8" cy="337" rx="2.3" ry="2.3" fill="#1a1a1a"/>
<ellipse cx="170.8" cy="340" rx="2.3" ry="2.3" fill="#1a1a1a"/>
<ellipse cx="170.8" cy="343" rx="2.3" ry="2.3" fill="#1a1a1a"/>
<ellipse cx="170.8" cy="346" rx="2.3" ry="2.3" fill="#1a1a1a"/>
<ellipse cx="142" cy="335.8" rx="2.3" ry="2.3" fill="#1a1a1a"/>
<ellipse cx="196.2" cy="337.2" rx="2.3" ry="2.3" fill="#999999"/>
<ellipse cx="197.6" cy="341.9" rx="2.3" ry="2.3" fill="#999999"/>
<ellipse cx="150.4" cy="340.9" rx="2.3" ry="2.3" fill="#1a1a1a"/>
<ellipse cx="144.7" cy="342.5" rx="2.3" ry="2.3" fill="#1a1a1a"/>
<ellipse cx="224.3" cy="341.2" rx="2.3" ry="2.3" fill="#1a1a1a"/>
<ellipse cx="213" cy="342.5" rx="2.3" ry="2.3" fill="#999999"/>
<ellipse cx="205.2" cy="345.2" rx="2.3" ry="2.3" fill="#1a1a1a"/>
<ellipse cx="199.6" cy="345.6" rx="2.3" ry="2.3" fill="#1a1a1a"/>
<ellipse cx="156.7" cy="344.5" rx="2.3" ry="2.3" fill="#999999"/>
<ellipse cx="239.6" cy="321.1" rx="2.3" ry="2.3" fill="#999999"/>
<ellipse cx="248.7" cy="330.9" rx="2.3" ry="2.3" fill="#1a1a1a"/>
<ellipse cx="264.1" cy="328.5" rx="2.3" ry="2.3" fill="#999999"/>
<ellipse cx="289.2" cy="319.5" rx="2.3" ry="2.3" fill="#1a1a1a"/>
<ellipse cx="289.2" cy="321.8" rx="2.3" ry="2.3" fill="#1a1a1a"/>
<ellipse cx="289.8" cy="327.5" rx="2.3" ry="2.3" fill="#1a1a1a"/>
<ellipse cx="290.5" cy="330.1" rx="2.3" ry="2.3" fill="#999999"/>
<ellipse cx="290.2" cy="332.2" rx="2.3" ry="2.3" fill="#1a1a1a"/>
<ellipse cx="298.3" cy="326.9" rx="2.3" ry="2.3" fill="#1a1a1a"/>
<ellipse cx="311.4" cy="317.4" rx="2.3" ry="2.3" fill="#1a1a1a"/>
<ellipse cx="308" cy="324.7" rx="2.3" ry="2.3" fill="#999999"/>
<ellipse cx="308.3" cy="332.2" rx="2.3" ry="2.3" fill="#999999"/>
<ellipse cx="311.7" cy="334.1" rx="2.3" ry="2.3" fill="#1a1a1a"/>
<ellipse cx="311.9" cy="339.8" rx="2.3" ry="2.3" fill="#1a1a1a"/>
<ellipse cx="311.9" cy="343" rx="2.3" ry="2.3" fill="#1a1a1a"/>
<ellipse cx="311.9" cy="346" rx="2.3" ry="2.3" fill="#1a1a1a"/>
<ellipse cx="256.5" cy="336.2" rx="2.3" ry="2.3" fill="#1a1a1a"/>
<ellipse cx="240.4" cy="338.9" rx="2.3" ry="2.3" fill="#999999"/>
<ellipse cx="265.1" cy="337.4" rx="2.3" ry="2.3" fill="#999999"/>
<ellipse cx="279.5" cy="335.2" rx="2.3" ry="2.3" fill="#999999"/>
<ellipse cx="285.3" cy="335.8" rx="2.3" ry="2.3" fill="#1a1a1a"/>
<ellipse cx="272.8" cy="339.8" rx="2.3" ry="2.3" fill="#1a1a1a"/>
<ellipse cx="274.8" cy="340.2" rx="2.3" ry="2.3" fill="#1a1a1a"/>
<ellipse cx="284.9" cy="341.9" rx="2.3" ry="2.3" fill="#1a1a1a"/>
<ellipse cx="290.2" cy="341.2" rx="2.3" ry="2.3" fill="#1a1a1a"/>
<ellipse cx="288.9" cy="345.2" rx="2.3" ry="2.3" fill="#1a1a1a"/>
<ellipse cx="295.6" cy="339.8" rx="2.3" ry="2.3" fill="#999999"/>
<ellipse cx="297.9" cy="340.9" rx="2.3" ry="2.3" fill="#1a1a1a"/>
<ellipse cx="298.5" cy="345.2" rx="2.3" ry="2.3" fill="#1a1a1a"/>
<ellipse cx="269.2" cy="345.2" rx="2.3" ry="2.3" fill="#1a1a1a"/>
<ellipse cx="259.2" cy="343.2" rx="2.3" ry="2.3" fill="#999999"/>
<ellipse cx="317" cy="342.5" rx="2.3" ry="2.3" fill="#999999"/>
<ellipse cx="253.8" cy="346.5" rx="2.3" ry="2.3" fill="#1a1a1a"/>
<line x1="52.4" x2="325.3" y1="291.1" y2="291.1" stroke="#f08a8a" stroke-width="1.15"/>
<line x1="52.4" x2="325.3" y1="327.9" y2="327.9" stroke="#7c7cff" stroke-width="1.15"/>
<line x1="52.4" x2="52.4" y1="260" y2="395.8" stroke="#7a7a7a" stroke-width="1"/>
<line x1="45.4" x2="52.4" y1="395.8" y2="395.8" stroke="#7a7a7a" stroke-width="1"/>
<text class="t" x="34.6" y="400.4" text-anchor="middle" font-size="12" fill="#262626">0</text>
<line x1="45.4" x2="52.4" y1="361.9" y2="361.9" stroke="#7a7a7a" stroke-width="1"/>
<text class="t" x="34.6" y="366.5" text-anchor="middle" font-size="12" fill="#262626">2</text>
<line x1="45.4" x2="52.4" y1="327.9" y2="327.9" stroke="#7a7a7a" stroke-width="1"/>
<text class="t" x="34.6" y="332.5" text-anchor="middle" font-size="12" fill="#262626">4</text>
<line x1="45.4" x2="52.4" y1="294" y2="294" stroke="#7a7a7a" stroke-width="1"/>
<text class="t" x="34.6" y="298.6" text-anchor="middle" font-size="12" fill="#262626">6</text>
<line x1="45.4" x2="52.4" y1="260" y2="260" stroke="#7a7a7a" stroke-width="1"/>
<text class="t" x="34.6" y="264.6" text-anchor="middle" font-size="12" fill="#262626">8</text>
<line x1="71.5" x2="71.5" y1="397" y2="403.5" stroke="#7a7a7a" stroke-width="1"/>
<text class="t" x="71.5" y="422.8" text-anchor="middle" font-size="12" fill="#262626">1</text>
<line x1="93.4" x2="93.4" y1="397" y2="403.5" stroke="#7a7a7a" stroke-width="1"/>
<text class="t" x="93.4" y="422.8" text-anchor="middle" font-size="12" fill="#262626">2</text>
<line x1="112.2" x2="112.2" y1="397" y2="403.5" stroke="#7a7a7a" stroke-width="1"/>
<text class="t" x="112.2" y="422.8" text-anchor="middle" font-size="12" fill="#262626">3</text>
<line x1="130.2" x2="130.2" y1="397" y2="403.5" stroke="#7a7a7a" stroke-width="1"/>
<text class="t" x="130.2" y="422.8" text-anchor="middle" font-size="12" fill="#262626">4</text>
<line x1="146.8" x2="146.8" y1="397" y2="403.5" stroke="#7a7a7a" stroke-width="1"/>
<line x1="162.9" x2="162.9" y1="397" y2="403.5" stroke="#7a7a7a" stroke-width="1"/>
<text class="t" x="162.9" y="422.8" text-anchor="middle" font-size="12" fill="#262626">6</text>
<line x1="178.1" x2="178.1" y1="397" y2="403.5" stroke="#7a7a7a" stroke-width="1"/>
<line x1="191.4" x2="191.4" y1="397" y2="403.5" stroke="#7a7a7a" stroke-width="1"/>
<text class="t" x="191.4" y="422.8" text-anchor="middle" font-size="12" fill="#262626">8</text>
<line x1="204.4" x2="204.4" y1="397" y2="403.5" stroke="#7a7a7a" stroke-width="1"/>
<line x1="216.3" x2="216.3" y1="397" y2="403.5" stroke="#7a7a7a" stroke-width="1"/>
<text class="t" x="216.3" y="422.8" text-anchor="middle" font-size="12" fill="#262626">10</text>
<line x1="228.8" x2="228.8" y1="397" y2="403.5" stroke="#7a7a7a" stroke-width="1"/>
<line x1="240.7" x2="240.7" y1="397" y2="403.5" stroke="#7a7a7a" stroke-width="1"/>
<text class="t" x="240.7" y="422.8" text-anchor="middle" font-size="12" fill="#262626">12</text>
<line x1="252.9" x2="252.9" y1="397" y2="403.5" stroke="#7a7a7a" stroke-width="1"/>
<line x1="262" x2="262" y1="397" y2="403.5" stroke="#7a7a7a" stroke-width="1"/>
<line x1="270.9" x2="270.9" y1="397" y2="403.5" stroke="#7a7a7a" stroke-width="1"/>
<text class="t" x="270.9" y="422.8" text-anchor="middle" font-size="12" fill="#262626">15</text>
<line x1="279.2" x2="279.2" y1="397" y2="403.5" stroke="#7a7a7a" stroke-width="1"/>
<line x1="286.4" x2="286.4" y1="397" y2="403.5" stroke="#7a7a7a" stroke-width="1"/>
<line x1="293.3" x2="293.3" y1="397" y2="403.5" stroke="#7a7a7a" stroke-width="1"/>
<line x1="300" x2="300" y1="397" y2="403.5" stroke="#7a7a7a" stroke-width="1"/>
<text class="t" x="300" y="422.8" text-anchor="middle" font-size="12" fill="#262626">19</text>
<line x1="305.5" x2="305.5" y1="397" y2="403.5" stroke="#7a7a7a" stroke-width="1"/>
<line x1="310.5" x2="310.5" y1="397" y2="403.5" stroke="#7a7a7a" stroke-width="1"/>
<line x1="314.9" x2="314.9" y1="397" y2="403.5" stroke="#7a7a7a" stroke-width="1"/>
<line x1="316.9" x2="316.9" y1="397" y2="403.5" stroke="#7a7a7a" stroke-width="1"/>
<text class="t" x="188" y="445" text-anchor="middle" font-size="12" fill="#262626">Chromosome</text>
<text class="t" transform="translate(12.5 328.7) rotate(-90)" text-anchor="middle" font-size="12" fill="#262626">−<tspan dx="1.5">log</tspan><tspan font-size="8.4" dy="2">10</tspan><tspan dy="-2">(</tspan><tspan font-style="italic">p </tspan>)</text>
<line x1="72.4" x2="72.4" y1="254.9" y2="309.2" stroke="#000" stroke-width="2"/>
<polygon points="67,308.2 77.8,308.2 72.4,321.5" fill="#000"/>
<line x1="186.3" x2="186.3" y1="254.9" y2="301.6" stroke="#000" stroke-width="2"/>
<polygon points="180.9,300.6 191.7,300.6 186.3,313.2" fill="#000"/>
<line x1="290.1" x2="290.1" y1="254.9" y2="301.6" stroke="#000" stroke-width="2"/>
<polygon points="284.7,300.6 295.5,300.6 290.1,313.2" fill="#000"/>
<text x="71.3" y="253" text-anchor="middle" font-size="11" font-weight="bold" font-style="italic" class="gn" fill="#2020ee" textLength="39.5" lengthAdjust="spacingAndGlyphs">WARS2</text>
<text x="187.2" y="253" text-anchor="middle" font-size="11" font-weight="bold" font-style="italic" class="gn" fill="#2020ee" textLength="84.3" lengthAdjust="spacingAndGlyphs">PPP1R3B/TNKS</text>
<text x="291" y="253" text-anchor="middle" font-size="11" font-weight="bold" font-style="italic" class="gn" fill="#2020ee" textLength="39.5" lengthAdjust="spacingAndGlyphs">PRKCA</text>
<text transform="translate(0.7 248.9) scale(1.13 1)" font-size="19.5" font-weight="bold" fill="#000" stroke="#000" stroke-width="0.4" style="stroke-width:0.4px">C</text></g>
<g><rect x="390.9" y="364.1" width="24.7" height="32.9" fill="#1a1a1a"/>
<path d="M529.7 351.9h0M517.3 355.4h0M530.6 353.7h0M505 352.1h0M520.1 351.5h0M513.5 354.6h0M525.6 353.5h0M507.7 356.8h0M527.6 344h0M518.2 356.1h0M528.5 354.5h0M516.3 354.4h0M515 354.3h0M525.2 354.7h0M530.8 348.3h0M513.3 354.9h0M530.4 352h0M529.3 352.8h0M507.8 352h0M520.1 356.5h0M522.8 353.2h0M529.6 347.9h0M521.7 356.5h0M506.5 356.5h0M516.8 353.5h0M517 355.7h0M530.1 356.5h0M512.7 354.2h0M509.1 353.6h0M517.6 355.1h0M521 355.2h0M529.5 355.5h0M519.3 353.6h0M510.3 355.4h0M529.3 353.9h0M516.8 356.7h0M522 355h0M516.3 355.8h0M508.9 347.6h0M522.5 354h0M524.7 353.7h0M508.1 354.6h0M515.8 352.2h0M502.4 364.1h0M502.5 362.7h0M502.4 361.4h0M502.6 360.1h0M502.7 358.7h0M502.4 357.4h0M504.1 364.1h0M504 362.7h0M504 361.4h0M504 360.1h0M504.3 358.7h0M504 357.4h0M504.9 364.1h0M505 362.7h0M505.4 361.4h0M505.1 360.1h0M505.5 358.7h0M505.3 357.4h0M506.4 364.1h0M506.7 362.7h0M506.3 361.4h0M506.4 360.1h0M506.4 358.7h0M506.5 357.4h0M508.1 364.1h0M508.1 362.7h0M508.1 361.4h0M507.9 360.1h0M507.4 358.7h0M507.7 357.4h0M509.1 364.1h0M509.4 362.7h0M509 361.4h0M509.1 360.1h0M509.4 358.7h0M509 357.4h0M510.6 364.1h0M510.5 362.7h0M510.4 361.4h0M510.5 360.1h0M510.4 358.7h0M510.1 357.4h0M512 364.1h0M512 362.7h0M511.9 361.4h0M511.6 360.1h0M511.8 358.7h0M511.9 357.4h0M512.6 364.1h0M513.2 362.7h0M512.6 361.4h0M513.3 360.1h0M512.7 358.7h0M513.3 357.4h0M514 364.1h0M514.3 362.7h0M514.5 361.4h0M514.6 360.1h0M514.4 358.7h0M514.5 357.4h0M515.4 364.1h0M515.7 362.7h0M515.4 361.4h0M515.8 360.1h0M515.7 358.7h0M515.4 357.4h0M517 364.1h0M516.5 362.7h0M517.1 361.4h0M516.9 360.1h0M516.7 358.7h0M516.9 357.4h0M518.3 364.1h0M518.2 362.7h0M518.4 361.4h0M518 360.1h0M517.9 358.7h0M518 357.4h0M519.2 364.1h0M519.3 362.7h0M519.6 361.4h0M519.6 360.1h0M519.5 358.7h0M519.6 357.4h0M521 364.1h0M520.8 362.7h0M520.3 361.4h0M520.7 360.1h0M520.3 358.7h0M520.8 357.4h0M522.3 364.1h0M521.9 362.7h0M522.3 361.4h0M521.6 360.1h0M522.3 358.7h0M521.7 357.4h0M523.5 364.1h0M523 362.7h0M523.1 361.4h0M522.9 360.1h0M522.8 358.7h0M523.4 357.4h0M524.7 364.1h0M524.2 362.7h0M524.6 361.4h0M524.3 360.1h0M524.8 358.7h0M524.2 357.4h0M525.8 364.1h0M526.1 362.7h0M525.8 361.4h0M525.9 360.1h0M526 358.7h0M525.9 357.4h0M527.3 364.1h0M526.8 362.7h0M527.4 361.4h0M527.1 360.1h0M527.4 358.7h0M527.2 357.4h0M528.5 364.1h0M528.7 362.7h0M528 361.4h0M528.6 360.1h0M528.2 358.7h0M528.6 357.4h0M529.4 364.1h0M529.6 362.7h0M529.3 361.4h0M529.9 360.1h0M529.5 358.7h0M529.6 357.4h0M531.1 364.1h0M530.8 362.7h0M531.2 361.4h0M530.9 360.1h0M531.2 358.7h0M531.1 357.4h0M526.1 356.9h0M526.8 356h0M527.1 355h0M526.4 353.8h0M526.3 351.6h0M526 349.6h0M510.1 356.9h0M509.6 355.1h0M510.1 352h0M519.2 356.9h0M519.1 355.4h0M518.6 354.3h0M519.1 352.5h0M528.7 356.9h0M528.8 354.3h0M528.4 352.5h0M528.7 350.7h0M529.5 349.8h0M529.1 346.8h0M529.3 345.8h0M529 345.4h0M511.1 356.9h0M510.5 355.7h0M511 354.6h0M511.6 353.6h0M510.6 350.3h0M511 349.1h0M510.7 347.7h0M511 344.7h0M524.5 356.9h0M524.2 355.3h0M524.6 353.6h0M524 351.4h0M524.1 348.8h0M523.4 347h0M519.9 356.9h0M520.5 355.6h0M520 354.7h0M519.8 352.7h0M520.9 352.2h0M524.1 356.9h0M524.2 355.8h0M523.1 354.4h0M523.6 353.2h0M524.2 353h0M504.9 356.9h0M504.6 355.1h0M505.2 353.9h0M504.5 353h0M505 349.6h0M510.5 356.9h0M509.7 355.4h0M509.4 353.7h0M510 352.3h0M510 356.9h0M510.2 355.2h0M510.5 353.9h0M509.8 352.3h0M502.7 356.9h0M503.7 355.9h0M503.3 354.4h0M503.2 352.9h0M503.7 352h0" stroke="#1a1a1a" stroke-width="3.4" stroke-linecap="round" fill="none" transform="scale(0.78 1)"/>
<rect x="415.6" y="364.1" width="23.8" height="32.9" fill="#999999"/>
<path d="M539 358.6h0M556.8 360.5h0M551.8 360.1h0M555 361h0M548.9 361.2h0M549.5 356.7h0M543.8 349.1h0M536.5 361.1h0M551.6 359.1h0M551.2 354.4h0M543.4 358.8h0M559.6 356.6h0M559.8 361.6h0M544.4 356.4h0M547 360.8h0M540.3 361.6h0M554.1 360.2h0M539.7 355.7h0M543.1 354.9h0M560.6 359.6h0M538.6 358.2h0M558.9 360h0M549.7 361.7h0M539.8 361.5h0M556.6 354.9h0M550.4 358.7h0M555.7 359.4h0M544.7 352h0M542.9 361.6h0M537.4 358.3h0M537.9 359h0M548.5 360.3h0M545.2 358.8h0M536 360.4h0M539.5 359.6h0M547.7 358.1h0M535.7 360.5h0M534.6 361.8h0M552.6 358.4h0M536.8 356h0M545.8 358.7h0M560 356.1h0M536.8 359.2h0M534.6 364.1h0M534.3 362.7h0M534.3 361.4h0M535.9 364.1h0M535.5 362.7h0M535.3 361.4h0M536.8 364.1h0M537.2 362.7h0M537.3 361.4h0M538 364.1h0M538.4 362.7h0M537.9 361.4h0M539.6 364.1h0M539.2 362.7h0M539.3 361.4h0M541 364.1h0M540.5 362.7h0M540.8 361.4h0M541.9 364.1h0M542.4 362.7h0M542.3 361.4h0M543.2 364.1h0M543.7 362.7h0M543.4 361.4h0M544.4 364.1h0M544.5 362.7h0M544.9 361.4h0M546.3 364.1h0M545.5 362.7h0M546 361.4h0M546.9 364.1h0M547.3 362.7h0M546.8 361.4h0M548.6 364.1h0M548.5 362.7h0M548.6 361.4h0M549.7 364.1h0M549.9 362.7h0M550 361.4h0M550.7 364.1h0M550.9 362.7h0M550.8 361.4h0M552.3 364.1h0M552.4 362.7h0M552.2 361.4h0M553.8 364.1h0M553.2 362.7h0M553.3 361.4h0M554.6 364.1h0M554.6 362.7h0M555 361.4h0M556.3 364.1h0M556 362.7h0M556.3 361.4h0M557.3 364.1h0M557.5 362.7h0M557.1 361.4h0M558.6 364.1h0M558.4 362.7h0M558.9 361.4h0M560.1 364.1h0M560.3 362.7h0M560.3 361.4h0M561.3 364.1h0M561 362.7h0M561.1 361.4h0M556.4 361.9h0M556.8 360.4h0M556.8 358.9h0M554.7 361.9h0M555.2 360.4h0M554.8 359.1h0M555.2 357.5h0M555.2 356h0M554.6 354.8h0M555 353.1h0M555 351.3h0M555 349.3h0M555 348.2h0M555.5 346.5h0M555.3 344.2h0M554.9 344.2h0M554 361.9h0M553.1 360.1h0M553.2 358.4h0M554.1 357.5h0M553.7 356.2h0M553.1 354.8h0M553 353h0M553.7 350.7h0M544.4 361.9h0M545.1 360.4h0M544.6 359.4h0M544 358.2h0M544.9 356.8h0M544.3 354.7h0M544.5 352.9h0M544.4 351.1h0M543.9 349.4h0M544.4 347.5h0M539.7 361.9h0M540.5 360.5h0M540.4 359.3h0M556.9 361.9h0M557.2 360.6h0M556.9 359.6h0M556.9 358.1h0M556.5 357.1h0M557 356.1h0M557 352.3h0M556.7 350.9h0M543.9 361.9h0M544 359.7h0M543.4 359.1h0M554.1 361.9h0M554.7 360.3h0M554.5 359.2h0M554.6 357.7h0M555.2 355.9h0M555.1 353.5h0M555.2 353h0" stroke="#999999" stroke-width="3.4" stroke-linecap="round" fill="none" transform="scale(0.78 1)"/>
<rect x="439.4" y="364.1" width="19.4" height="32.9" fill="#1a1a1a"/>
<path d="M580.4 358.1h0M582 357.4h0M573.5 357.9h0M583 354.1h0M582 350.5h0M575.9 346.4h0M570.6 353.8h0M586.4 358h0M575.4 358.1h0M582.8 358.5h0M566.6 357.9h0M572 354.5h0M569.5 358.4h0M581.3 356.7h0M573.7 358h0M582.7 351.8h0M572.8 352.5h0M572.3 354.1h0M572.4 357.9h0M570.6 358.5h0M577.8 357.6h0M576.4 357.6h0M584.9 356.1h0M572.9 358.1h0M568.1 354.7h0M584.2 353.3h0M585.9 349.7h0M577.2 356.9h0M566.7 351.9h0M576.2 348.8h0M569.4 356h0M572.8 356.9h0M574.4 353.4h0M566.3 355.7h0M576.3 354.5h0M564.7 364.1h0M565.1 362.7h0M564.7 361.4h0M564.8 360.1h0M564.9 358.7h0M565.9 364.1h0M566.5 362.7h0M566 361.4h0M566.4 360.1h0M566.3 358.7h0M567.2 364.1h0M567.1 362.7h0M567.4 361.4h0M567.6 360.1h0M567.2 358.7h0M569 364.1h0M568.5 362.7h0M568.6 361.4h0M568.4 360.1h0M568.5 358.7h0M570.1 364.1h0M570.2 362.7h0M569.7 361.4h0M570.3 360.1h0M570 358.7h0M571.3 364.1h0M571.3 362.7h0M571 361.4h0M571.6 360.1h0M571.6 358.7h0M572.3 364.1h0M572.4 362.7h0M572.3 361.4h0M572.5 360.1h0M572.5 358.7h0M574.2 364.1h0M574 362.7h0M574.2 361.4h0M574.1 360.1h0M573.6 358.7h0M575.3 364.1h0M575.2 362.7h0M574.9 361.4h0M575.2 360.1h0M575.3 358.7h0M576.1 364.1h0M576.7 362.7h0M576.8 361.4h0M576.8 360.1h0M576 358.7h0M577.6 364.1h0M577.4 362.7h0M577.4 361.4h0M577.8 360.1h0M577.7 358.7h0M579.1 364.1h0M579.2 362.7h0M578.9 361.4h0M579.2 360.1h0M579.3 358.7h0M580.6 364.1h0M579.9 362.7h0M580.1 361.4h0M580.6 360.1h0M580.5 358.7h0M581.3 364.1h0M581.8 362.7h0M581.9 361.4h0M581.8 360.1h0M581.2 358.7h0M583 364.1h0M582.4 362.7h0M582.9 361.4h0M582.9 360.1h0M583 358.7h0M583.9 364.1h0M584.1 362.7h0M584 361.4h0M583.8 360.1h0M584 358.7h0M585.5 364.1h0M585.5 362.7h0M585.1 361.4h0M585 360.1h0M585.7 358.7h0M586.8 364.1h0M586.4 362.7h0M586.7 361.4h0M586.5 360.1h0M586.8 358.7h0M584.7 358.6h0M584 357.1h0M584.1 355.1h0M571 358.6h0M570.7 357.4h0M571.1 356.2h0M570.8 355.2h0M570.8 351.1h0M578.8 358.6h0M578.7 357.1h0M579.2 356.1h0M579.2 356h0M584.8 358.6h0M585 352.8h0M575.2 358.6h0M576 357h0M576 355.5h0M575.8 353.7h0M575.3 353.5h0M571 358.6h0M569.8 356.7h0M570.6 354.5h0M570.6 358.6h0M570.5 357.1h0M570.7 355.9h0M571 355.8h0" stroke="#1a1a1a" stroke-width="3.4" stroke-linecap="round" fill="none" transform="scale(0.78 1)"/>
<rect x="458.8" y="364.1" width="19.1" height="32.9" fill="#999999"/>
<path d="M594 359.1h0M604.2 361.8h0M608.1 361.6h0M593.7 360.6h0M600 353.2h0M600.1 361.4h0M602.9 358.9h0M592.2 360.8h0M600.7 360.8h0M600.3 359.1h0M606.9 360.4h0M603.8 357.4h0M607.3 360h0M598.7 360.9h0M602.7 360.6h0M593 360.3h0M605.7 356.2h0M610.3 359.6h0M605.8 361.5h0M605.5 358.3h0M600.5 358h0M609.6 357.1h0M604.9 358.3h0M609.7 346.4h0M591.7 361.8h0M604.1 360.7h0M596.4 359.5h0M592.8 350.1h0M597.1 361.9h0M603.7 360.4h0M591.6 351.8h0M591 360.8h0M605.7 356.6h0M599.5 360.3h0M589.5 364.1h0M589.4 362.7h0M589.9 361.4h0M590.7 364.1h0M590.7 362.7h0M591.3 361.4h0M592.1 364.1h0M592.3 362.7h0M592.1 361.4h0M593.4 364.1h0M594 362.7h0M593.6 361.4h0M594.9 364.1h0M594.7 362.7h0M594.5 361.4h0M596.3 364.1h0M596.5 362.7h0M595.9 361.4h0M597.5 364.1h0M597.5 362.7h0M597.5 361.4h0M598.8 364.1h0M598.9 362.7h0M598.8 361.4h0M600.1 364.1h0M599.9 362.7h0M600.3 361.4h0M601.6 364.1h0M601.3 362.7h0M601.1 361.4h0M602.3 364.1h0M602.8 362.7h0M602.9 361.4h0M603.5 364.1h0M603.8 362.7h0M603.6 361.4h0M605.1 364.1h0M604.9 362.7h0M604.8 361.4h0M606.6 364.1h0M606.1 362.7h0M606.1 361.4h0M607.7 364.1h0M607.8 362.7h0M607.9 361.4h0M609.1 364.1h0M609 362.7h0M609.3 361.4h0M610.6 364.1h0M610.6 362.7h0M610.5 361.4h0M601 361.9h0M600.9 360.9h0M600.5 359.8h0M600.6 355.9h0M601.3 354.6h0M601.5 351.7h0M600.6 349.2h0M601.4 348.3h0M598.4 361.9h0M598.6 360.7h0M598.2 359h0M599.1 356.3h0M598.9 355.2h0M598.9 354.3h0M598 352.8h0M599.1 351h0M598.9 349.4h0M591.5 361.9h0M590.5 360.8h0M590.6 359.1h0M590.7 358.2h0M591.6 356.9h0M590.5 355.9h0M590.5 354.7h0M590.6 353.5h0M591.6 351.6h0M590.9 350.9h0M610.5 361.9h0M610.6 360.2h0M610.8 358.5h0M610.7 357.6h0M609.8 356.1h0M598.2 361.9h0M598 359.5h0M597.7 357.9h0M598.7 357.1h0" stroke="#999999" stroke-width="3.4" stroke-linecap="round" fill="none" transform="scale(0.78 1)"/>
<rect x="477.9" y="364.1" width="17.5" height="32.9" fill="#1a1a1a"/>
<path d="M629.9 352.8h0M622.8 354.7h0M619.6 356.2h0M626.2 355.7h0M614.9 358.5h0M623 355.4h0M627.8 353.6h0M629.2 357.4h0M619.5 358.1h0M614.3 354h0M622.3 351.1h0M624.8 356.9h0M624.7 348h0M617.3 354.3h0M619.8 358.5h0M623.7 354.2h0M617.6 356.7h0M622 357.3h0M614.5 354.2h0M624 356.4h0M621.7 357.2h0M631.6 351.9h0M630.9 358.5h0M614.3 356.8h0M619.9 358.1h0M616.4 356.6h0M620.5 354.3h0M620.2 352.9h0M614.7 356.6h0M618.7 355.6h0M619.8 356.8h0M631.5 354.2h0M613.9 364.1h0M614.3 362.7h0M614 361.4h0M614.3 360.1h0M614.5 358.7h0M615.8 364.1h0M615.2 362.7h0M615.7 361.4h0M615.5 360.1h0M615.2 358.7h0M616.5 364.1h0M616.5 362.7h0M616.6 361.4h0M616.7 360.1h0M616.8 358.7h0M618.1 364.1h0M617.9 362.7h0M618.4 361.4h0M618.2 360.1h0M618.4 358.7h0M619.5 364.1h0M619.4 362.7h0M619.4 361.4h0M619 360.1h0M619.4 358.7h0M620.4 364.1h0M621 362.7h0M620.9 361.4h0M620.5 360.1h0M620.7 358.7h0M622.1 364.1h0M622.1 362.7h0M622 361.4h0M621.9 360.1h0M622.2 358.7h0M623.1 364.1h0M622.8 362.7h0M623.4 361.4h0M623.5 360.1h0M622.8 358.7h0M624.4 364.1h0M624.6 362.7h0M624.3 361.4h0M624.7 360.1h0M624.2 358.7h0M625.8 364.1h0M626.1 362.7h0M626 361.4h0M625.5 360.1h0M625.6 358.7h0M626.7 364.1h0M626.9 362.7h0M627.4 361.4h0M626.7 360.1h0M626.9 358.7h0M628.3 364.1h0M628.3 362.7h0M628.2 361.4h0M628.4 360.1h0M628.1 358.7h0M629.8 364.1h0M629.6 362.7h0M629.7 361.4h0M629.8 360.1h0M629.5 358.7h0M630.8 364.1h0M631.1 362.7h0M630.8 361.4h0M630.9 360.1h0M631 358.7h0M632 364.1h0M632.4 362.7h0M631.9 361.4h0M632.5 360.1h0M632.3 358.7h0M633.2 364.1h0M633.7 362.7h0M633.7 361.4h0M633.4 360.1h0M633.6 358.7h0M621.2 358.6h0M622.3 357.3h0M621.5 355.5h0M622 352.4h0M622.5 350.7h0M622.1 347h0M617 358.6h0M616.8 357.3h0M616.5 356.4h0M616 355.1h0M616.3 353.5h0M617 351.8h0M616.1 349.5h0M616.4 349.1h0M627.6 358.6h0M627.7 356.8h0M627.8 355.3h0M627.7 352.8h0M627.6 352.4h0" stroke="#1a1a1a" stroke-width="3.4" stroke-linecap="round" fill="none" transform="scale(0.78 1)"/>
<rect x="495.4" y="364.1" width="16.9" height="32.9" fill="#999999"/>
<path d="M647.1 345.2h0M636.8 353.3h0M651.2 352.3h0M643.8 350.5h0M650.7 353h0M652.3 353.5h0M647.9 349.2h0M637.8 353.1h0M641.9 353.2h0M644.5 354.5h0M650.9 355.1h0M641.5 351h0M640 353.1h0M640.4 350.6h0M645.9 350.5h0M650.8 353.8h0M654.3 351.1h0M647.2 349.4h0M652.1 351.8h0M654.1 353.4h0M647.8 355.2h0M653.9 344.7h0M646.1 345.1h0M646.4 348.3h0M646.3 353h0M639.6 355.2h0M638.2 353.4h0M649.9 350.9h0M637.3 354.6h0M646.1 354.5h0M637 364.1h0M636.6 362.7h0M636.4 361.4h0M636.7 360.1h0M636.9 358.7h0M636.8 357.4h0M637 356.1h0M637 354.7h0M638.3 364.1h0M638.2 362.7h0M638.2 361.4h0M638 360.1h0M638.1 358.7h0M638 357.4h0M637.8 356.1h0M638.2 354.7h0M638.9 364.1h0M639.5 362.7h0M638.9 361.4h0M639.2 360.1h0M639.2 358.7h0M639.4 357.4h0M639.4 356.1h0M639.1 354.7h0M640.8 364.1h0M640.8 362.7h0M640.5 361.4h0M640.6 360.1h0M640.9 358.7h0M640.6 357.4h0M640.8 356.1h0M640.2 354.7h0M641.5 364.1h0M642.1 362.7h0M641.7 361.4h0M641.8 360.1h0M641.7 358.7h0M641.6 357.4h0M641.8 356.1h0M642.2 354.7h0M643.5 364.1h0M642.8 362.7h0M643.1 361.4h0M643.1 360.1h0M642.8 358.7h0M642.9 357.4h0M642.9 356.1h0M642.8 354.7h0M644.6 364.1h0M644.6 362.7h0M644.5 361.4h0M644.7 360.1h0M644.7 358.7h0M644.1 357.4h0M644.5 356.1h0M644.2 354.7h0M645.7 364.1h0M645.6 362.7h0M645.7 361.4h0M646 360.1h0M645.9 358.7h0M645.5 357.4h0M645.3 356.1h0M645.8 354.7h0M646.8 364.1h0M647 362.7h0M646.9 361.4h0M646.7 360.1h0M646.7 358.7h0M646.8 357.4h0M647.1 356.1h0M646.8 354.7h0M648.6 364.1h0M648.4 362.7h0M648.5 361.4h0M648.2 360.1h0M648.2 358.7h0M647.8 357.4h0M648.3 356.1h0M648.5 354.7h0M649.2 364.1h0M649.5 362.7h0M649.7 361.4h0M649.7 360.1h0M649.6 358.7h0M649.4 357.4h0M649.3 356.1h0M649.3 354.7h0M650.5 364.1h0M650.9 362.7h0M650.7 361.4h0M651 360.1h0M651.1 358.7h0M650.4 357.4h0M650.6 356.1h0M650.8 354.7h0M652.1 364.1h0M652.2 362.7h0M652.4 361.4h0M651.8 360.1h0M652.1 358.7h0M651.7 357.4h0M652 356.1h0M652 354.7h0M653 364.1h0M653.2 362.7h0M653.6 361.4h0M653.3 360.1h0M653.3 358.7h0M653.3 357.4h0M653.5 356.1h0M653 354.7h0M654.6 364.1h0M654.3 362.7h0M654.8 361.4h0M654.5 360.1h0M654.4 358.7h0M654.5 357.4h0M654.7 356.1h0M654.9 354.7h0M648.7 355.2h0M648.8 354h0M648.6 353h0M649.1 351.6h0M647.9 350.7h0M649 348.9h0M649.1 347.5h0M648.2 344.2h0M648.3 344.2h0M641.7 355.2h0M641.3 354.1h0M641.3 352.8h0M641.6 352.1h0M651.4 355.2h0M650.8 354.1h0M651.2 353.1h0M651.1 351.6h0M651.3 348.6h0M649.9 355.2h0M649.5 354.4h0M649.5 352.6h0M648.8 349.7h0M648.9 348.6h0M649.9 347h0M646.2 355.2h0M646.9 353.9h0M647.1 351.9h0M646.3 351.1h0M639.3 355.2h0M639.6 354h0M640 352.6h0M639.2 349.8h0M639.1 348.4h0M639.3 344.8h0" stroke="#999999" stroke-width="3.4" stroke-linecap="round" fill="none" transform="scale(0.78 1)"/>
<rect x="512.3" y="364.1" width="15.9" height="32.9" fill="#1a1a1a"/>
<path d="M663 359.3h0M673.5 358.4h0M665.9 356.4h0M667.6 357.7h0M671.7 357.6h0M667.3 348.3h0M668.8 351.7h0M664.5 352.8h0M674.3 355.8h0M673.3 352.3h0M666.5 358.8h0M672.2 356.9h0M674.5 355.1h0M674.5 355.9h0M659.9 357.4h0M668 357.4h0M669.3 352.7h0M664.3 352.3h0M665.7 357.2h0M666.5 356.4h0M668.1 353h0M670.5 358.9h0M673.2 358.1h0M673.5 354.9h0M672.4 357.2h0M670.5 355.7h0M662.5 353.7h0M667.4 359.2h0M658.9 358.6h0M658.5 364.1h0M658.5 362.7h0M658.2 361.4h0M658.4 360.1h0M658.6 358.7h0M659.5 364.1h0M659.8 362.7h0M659.6 361.4h0M659.5 360.1h0M660 358.7h0M660.8 364.1h0M660.8 362.7h0M661.3 361.4h0M660.8 360.1h0M660.7 358.7h0M661.9 364.1h0M662.4 362.7h0M662.4 361.4h0M662 360.1h0M662.3 358.7h0M663.5 364.1h0M663.7 362.7h0M663.1 361.4h0M663.3 360.1h0M663.1 358.7h0M664.5 364.1h0M664.8 362.7h0M664.8 361.4h0M664.6 360.1h0M664.4 358.7h0M666.4 364.1h0M665.8 362.7h0M666.4 361.4h0M666.4 360.1h0M666.2 358.7h0M667.1 364.1h0M667.2 362.7h0M667 361.4h0M667.4 360.1h0M667.5 358.7h0M668.7 364.1h0M668.7 362.7h0M668.6 361.4h0M668.6 360.1h0M668.4 358.7h0M669.9 364.1h0M669.6 362.7h0M670.1 361.4h0M669.7 360.1h0M670.2 358.7h0M671.1 364.1h0M671.4 362.7h0M671.3 361.4h0M671.1 360.1h0M671.5 358.7h0M672.7 364.1h0M672.8 362.7h0M672.4 361.4h0M672.2 360.1h0M672.1 358.7h0M673.8 364.1h0M673.4 362.7h0M674.1 361.4h0M673.4 360.1h0M674 358.7h0M675.3 364.1h0M675 362.7h0M675.4 361.4h0M674.6 360.1h0M675.1 358.7h0M662.2 359.4h0M663.4 358h0M663.2 356.3h0M663.1 354.9h0M663.2 353.8h0M663 352.5h0M662.7 351.6h0M663.2 349h0M668.5 359.4h0M668.5 358.5h0M667.9 357.5h0M667.3 356.4h0M668.5 355.3h0M667.2 353.1h0M667.5 351.4h0M662.4 359.4h0M662.6 358.4h0M662.6 356.9h0M662.1 355.2h0M662.6 353.5h0M662.3 349.8h0M662.8 359.4h0M662.4 358.1h0M663 356.5h0M663 355.9h0M662.5 359.4h0M661.6 358.2h0M662.3 356.7h0M661.5 354.8h0M661.3 359.4h0M661.3 358.4h0M660.6 356.6h0M660.4 353.9h0M661 352.3h0M660.8 351h0M661.5 349.8h0M661.2 345.3h0M668.1 359.4h0M667.6 358.5h0M667.7 356.1h0" stroke="#1a1a1a" stroke-width="3.4" stroke-linecap="round" fill="none" transform="scale(0.78 1)"/>
<rect x="528.2" y="364.1" width="13.9" height="32.9" fill="#999999"/>
<path d="M683.5 358.9h0M680.6 356.9h0M682 358h0M689.8 356.3h0M680.1 355.6h0M681 359.4h0M687.5 357.7h0M680.5 359.8h0M688.1 355.6h0M693 354.5h0M692.9 358.2h0M679.1 359.1h0M689.2 351.6h0M688.5 357.5h0M685.3 358.3h0M682.8 357.8h0M685.4 349.8h0M682.8 356.7h0M678.8 356.8h0M689.7 357.8h0M690.6 355.7h0M692.5 356.4h0M679.7 356.1h0M687.4 358.7h0M690.7 357.2h0M679 364.1h0M678.8 362.7h0M678.8 361.4h0M678.5 360.1h0M680.2 364.1h0M679.9 362.7h0M680.1 361.4h0M680.4 360.1h0M681.6 364.1h0M681 362.7h0M681.2 361.4h0M681.4 360.1h0M682.6 364.1h0M682.7 362.7h0M682.3 361.4h0M682.6 360.1h0M684.2 364.1h0M683.6 362.7h0M683.8 361.4h0M684.1 360.1h0M685.1 364.1h0M684.8 362.7h0M684.9 361.4h0M685.4 360.1h0M686.4 364.1h0M686.3 362.7h0M686.2 361.4h0M686 360.1h0M687.4 364.1h0M687.9 362.7h0M687.6 361.4h0M687.4 360.1h0M689.4 364.1h0M688.8 362.7h0M688.7 361.4h0M688.9 360.1h0M689.9 364.1h0M690 362.7h0M690.4 361.4h0M690.6 360.1h0M691.9 364.1h0M691.6 362.7h0M691.3 361.4h0M691.9 360.1h0M692.8 364.1h0M692.8 362.7h0M693 361.4h0M692.9 360.1h0M680.7 360.2h0M680 358.6h0M680.6 356.6h0M690.5 360.2h0M690.5 357.2h0M689.6 357.1h0M692.9 360.2h0M692.4 359h0M693.3 356.3h0M692.6 354.2h0M692.8 353.2h0M692.3 351.9h0M692.8 351.5h0M687.3 360.2h0M687.1 359.2h0M686.7 357.7h0M687.6 356.8h0M687.3 355.7h0M687 352.5h0M686.9 351.2h0M687 350.3h0M686.6 348.5h0M687.2 347.2h0M683.9 360.2h0M685.1 356.9h0M684.5 356.7h0M692.8 360.2h0M692.6 359.2h0M692.2 356.4h0M692.2 353h0M692.4 351.2h0M693 349.5h0M692.8 348.2h0" stroke="#999999" stroke-width="3.4" stroke-linecap="round" fill="none" transform="scale(0.78 1)"/>
<rect x="542.1" y="364.1" width="13.8" height="32.9" fill="#1a1a1a"/>
<path d="M698.1 361.1h0M705.2 361.6h0M703.1 359h0M705.1 358.2h0M701.5 359.1h0M701 360.1h0M698.5 360.4h0M706.6 360.1h0M697.7 352.2h0M697.3 356.1h0M698.9 358.1h0M702.5 358.7h0M702.5 355.6h0M703 362.2h0M700.3 360.4h0M704.4 361.6h0M708.2 359.1h0M698.4 361.8h0M706 362h0M705.2 362.5h0M703.6 353.9h0M696.6 361.7h0M703.1 358.1h0M705.2 359h0M701.7 358h0M696.8 364.1h0M696.7 362.7h0M698 364.1h0M697.6 362.7h0M699.2 364.1h0M699.2 362.7h0M700.4 364.1h0M700.2 362.7h0M701.9 364.1h0M701.9 362.7h0M703.2 364.1h0M703.2 362.7h0M704.2 364.1h0M704.1 362.7h0M705.6 364.1h0M705.8 362.7h0M706.6 364.1h0M707.1 362.7h0M708.3 364.1h0M708.2 362.7h0M709.4 364.1h0M709 362.7h0M710.3 364.1h0M710.8 362.7h0M709.6 362.7h0M709.8 361.7h0M709 360.2h0M708.7 359.7h0M700.8 362.7h0M700.3 360.2h0M701.7 362.7h0M701.7 359.7h0M702 357.6h0M709.6 362.7h0M709.9 360.9h0M710.2 359.6h0M709.8 358.3h0M709.9 362.7h0M710.6 361.3h0M709.9 360.2h0M710 358.1h0" stroke="#1a1a1a" stroke-width="3.4" stroke-linecap="round" fill="none" transform="scale(0.78 1)"/>
<rect x="555.9" y="364.1" width="13.3" height="32.9" fill="#999999"/>
<path d="M727.8 357.2h0M717 360.6h0M721.1 359.7h0M727.7 360.5h0M722.7 348.1h0M722.5 360.9h0M720 358.5h0M723 353.1h0M714.7 360.6h0M726.6 355.8h0M714.7 360.9h0M725.2 351.2h0M722.7 360.5h0M722.2 352.3h0M718.3 355.8h0M724.4 359.8h0M718.8 358.3h0M724.9 360.4h0M728.1 360.3h0M719.7 359.7h0M725.2 357.6h0M716.2 358.4h0M723.5 349h0M717.9 358.4h0M714.5 364.1h0M714.5 362.7h0M714.5 361.4h0M715.5 364.1h0M715.3 362.7h0M715.3 361.4h0M717 364.1h0M717.1 362.7h0M716.9 361.4h0M718.2 364.1h0M718 362.7h0M717.9 361.4h0M719.6 364.1h0M719 362.7h0M719.7 361.4h0M720.7 364.1h0M721 362.7h0M720.6 361.4h0M721.6 364.1h0M721.8 362.7h0M721.8 361.4h0M723.3 364.1h0M723 362.7h0M722.9 361.4h0M724.6 364.1h0M724.8 362.7h0M724.8 361.4h0M725.7 364.1h0M725.4 362.7h0M725.6 361.4h0M727.3 364.1h0M727 362.7h0M727.1 361.4h0M728.3 364.1h0M728.1 362.7h0M728.6 361.4h0M717.5 361.1h0M717.6 360h0M718.1 358.5h0M726.8 361.1h0M726.8 358.4h0M723.8 361.1h0M723.8 360.1h0M724.1 358.3h0M724 354.6h0M724.4 354h0" stroke="#999999" stroke-width="3.4" stroke-linecap="round" fill="none" transform="scale(0.78 1)"/>
<rect x="569.2" y="364.1" width="13.1" height="32.9" fill="#1a1a1a"/>
<path d="M744 349.6h0M743.2 356h0M735.7 355.9h0M733.4 353.8h0M741 355.9h0M744.3 353.9h0M742.2 355.7h0M739.1 350.9h0M744.3 352.8h0M732.2 354.7h0M733.9 348h0M743.3 354.3h0M743.3 355.4h0M735.7 355.5h0M740.2 351.8h0M737.5 355.7h0M737.9 353.3h0M741 348.5h0M732.8 349.2h0M732.5 345.6h0M741 354.8h0M739.1 354.2h0M731.9 355.5h0M744.4 346.4h0M731 364.1h0M731.2 362.7h0M731.4 361.4h0M731.1 360.1h0M731.4 358.7h0M731.4 357.4h0M731 356.1h0M732.6 364.1h0M732.8 362.7h0M732.6 361.4h0M732.5 360.1h0M732.2 358.7h0M732.4 357.4h0M732.8 356.1h0M734.2 364.1h0M733.5 362.7h0M733.6 361.4h0M733.7 360.1h0M733.6 358.7h0M733.7 357.4h0M733.5 356.1h0M734.9 364.1h0M735.2 362.7h0M735.1 361.4h0M735 360.1h0M734.9 358.7h0M735.2 357.4h0M735.1 356.1h0M736.2 364.1h0M736.6 362.7h0M736.5 361.4h0M736.4 360.1h0M736.1 358.7h0M736.8 357.4h0M736.5 356.1h0M737.5 364.1h0M738 362.7h0M737.6 361.4h0M737.7 360.1h0M737.8 358.7h0M738 357.4h0M737.9 356.1h0M739.3 364.1h0M739.3 362.7h0M739 361.4h0M739.2 360.1h0M739.3 358.7h0M738.8 357.4h0M739 356.1h0M740.2 364.1h0M740.3 362.7h0M740.6 361.4h0M740.3 360.1h0M740.2 358.7h0M739.9 357.4h0M740 356.1h0M741.6 364.1h0M741.4 362.7h0M741.8 361.4h0M741.5 360.1h0M741.8 358.7h0M741.6 357.4h0M741.3 356.1h0M742.8 364.1h0M742.7 362.7h0M742.6 361.4h0M742.8 360.1h0M743 358.7h0M742.6 357.4h0M742.5 356.1h0M744.5 364.1h0M744.4 362.7h0M744.2 361.4h0M743.9 360.1h0M744.1 358.7h0M743.7 357.4h0M744.1 356.1h0M733 356.1h0M732.6 355.1h0M732.3 354.1h0M733.1 353h0M732.9 351.6h0M732.5 349.5h0M743.9 356.1h0M743.7 355.1h0M743.8 353.8h0M744.4 352.5h0M744.1 351.5h0M742.7 356.1h0M742.1 354.3h0M741.4 352.6h0M742.4 351.6h0M742 349.9h0M741.5 348.8h0M742.1 346h0M742.3 344.3h0M732.1 356.1h0M733.2 354.3h0M732.1 353.1h0" stroke="#1a1a1a" stroke-width="3.4" stroke-linecap="round" fill="none" transform="scale(0.78 1)"/>
<rect x="582.3" y="364.1" width="15.2" height="32.9" fill="#999999"/>
<path d="M748.5 353.3h0M759.2 353.4h0M757.8 349.7h0M758.7 345.8h0M750.9 349.7h0M759.5 350.1h0M748.5 349.1h0M761.9 353h0M760.9 350.7h0M757.6 348.6h0M751.2 351.8h0M757.4 349.8h0M750.4 351.5h0M754.4 347.8h0M763.4 350.8h0M758.4 348h0M754 352.5h0M751.8 351.7h0M755.3 350.2h0M748.8 351.4h0M749 350h0M752.7 352.9h0M756.2 353.3h0M756.1 351.1h0M750.2 353.4h0M748.1 348.4h0M748.3 364.1h0M748 362.7h0M748 361.4h0M747.9 360.1h0M748.2 358.7h0M748.4 357.4h0M748.2 356.1h0M748.4 354.7h0M747.9 353.4h0M749.4 364.1h0M749.7 362.7h0M749.5 361.4h0M749.4 360.1h0M749.5 358.7h0M749.7 357.4h0M749.1 356.1h0M749.5 354.7h0M749.1 353.4h0M750.5 364.1h0M750.9 362.7h0M750.7 361.4h0M750.4 360.1h0M750.4 358.7h0M750.6 357.4h0M750.5 356.1h0M750.5 354.7h0M750.9 353.4h0M751.8 364.1h0M751.8 362.7h0M751.7 361.4h0M751.8 360.1h0M751.7 358.7h0M751.9 357.4h0M752.1 356.1h0M751.7 354.7h0M751.7 353.4h0M753 364.1h0M752.9 362.7h0M753.2 361.4h0M752.9 360.1h0M752.9 358.7h0M753.1 357.4h0M753.4 356.1h0M753 354.7h0M752.9 353.4h0M754.1 364.1h0M754.6 362.7h0M754.8 361.4h0M754.3 360.1h0M754.6 358.7h0M754.2 357.4h0M754.4 356.1h0M754.7 354.7h0M754.3 353.4h0M755.7 364.1h0M756.1 362.7h0M755.9 361.4h0M755.8 360.1h0M755.4 358.7h0M755.5 357.4h0M755.6 356.1h0M755.8 354.7h0M755.7 353.4h0M757.1 364.1h0M757.4 362.7h0M756.9 361.4h0M757 360.1h0M757.1 358.7h0M756.9 357.4h0M757 356.1h0M756.9 354.7h0M756.7 353.4h0M758.2 364.1h0M758.5 362.7h0M758.1 361.4h0M758.6 360.1h0M758.5 358.7h0M758 357.4h0M758.3 356.1h0M758.5 354.7h0M758.3 353.4h0M759.8 364.1h0M760 362.7h0M759.6 361.4h0M759.7 360.1h0M759.3 358.7h0M759.8 357.4h0M759.7 356.1h0M759.3 354.7h0M759.7 353.4h0M760.6 364.1h0M761 362.7h0M760.7 361.4h0M760.5 360.1h0M761.1 358.7h0M760.9 357.4h0M760.6 356.1h0M761.3 354.7h0M761.2 353.4h0M762.2 364.1h0M762.3 362.7h0M762.4 361.4h0M762.3 360.1h0M762.4 358.7h0M761.9 357.4h0M762.5 356.1h0M762.4 354.7h0M762.2 353.4h0M763.8 364.1h0M763.4 362.7h0M763.5 361.4h0M763.5 360.1h0M763.6 358.7h0M763.2 357.4h0M763.7 356.1h0M763.7 354.7h0M763.1 353.4h0M750.5 353.5h0M750.6 352.6h0M750.4 351.1h0M750.8 351h0M752.5 353.5h0M752 350.3h0M751.8 349.3h0M752.8 346.1h0M762.1 353.5h0M762.6 352.5h0M762.5 349.5h0M754.8 353.5h0M754.3 352.1h0M754.6 351h0M754.5 350.8h0M750.1 353.5h0M749.5 351.9h0M750.1 350.7h0M749.9 350.3h0M762.3 353.5h0M761.1 351.9h0M762.2 350.6h0M761.8 348.7h0" stroke="#999999" stroke-width="3.4" stroke-linecap="round" fill="none" transform="scale(0.78 1)"/>
<rect x="597.5" y="364.1" width="9.7" height="32.9" fill="#1a1a1a"/>
<path d="M768.3 359.9h0M776.7 362.2h0M769.3 361.8h0M769.1 349.8h0M768.9 354.5h0M776 361.3h0M770.2 360.5h0M773.5 355.8h0M768.5 354.2h0M773.7 361.9h0M769.3 362.6h0M768.9 360.4h0M771.7 357.2h0M771.4 355h0M774.9 356.6h0M771.7 361.3h0M768.6 355.5h0M767.2 364.1h0M767.3 362.7h0M768.8 364.1h0M769.1 362.7h0M770 364.1h0M770 362.7h0M771.3 364.1h0M771.2 362.7h0M772.3 364.1h0M772.8 362.7h0M774.1 364.1h0M774.3 362.7h0M775 364.1h0M775 362.7h0M776.9 364.1h0M776.8 362.7h0M775.7 362.7h0M775.5 361.7h0M775.2 360.7h0M775.1 358.5h0M775.5 356.8h0M771.2 362.7h0M771.2 360h0M770.9 358.6h0M770.7 356.9h0M771 355.1h0M771.1 354.3h0" stroke="#1a1a1a" stroke-width="3.4" stroke-linecap="round" fill="none" transform="scale(0.78 1)"/>
<rect x="607.2" y="364.1" width="11.9" height="32.9" fill="#999999"/>
<path d="M785.3 356h0M792 357.5h0M781.6 351.4h0M791.6 350.3h0M785.4 356.6h0M782.3 350.4h0M781.7 358.8h0M789.5 353.3h0M791.9 358.3h0M782.4 358.1h0M785.1 358.2h0M789.4 357.6h0M781.1 356.7h0M786.7 357.6h0M788.8 354.4h0M788.5 355h0M780.8 359.1h0M783.2 353.1h0M780.4 352h0M779.7 364.1h0M780.2 362.7h0M780.3 361.4h0M780 360.1h0M779.8 358.7h0M781.6 364.1h0M781.2 362.7h0M781.2 361.4h0M781.1 360.1h0M781.4 358.7h0M782.5 364.1h0M782.6 362.7h0M782.3 361.4h0M782.3 360.1h0M782.8 358.7h0M784 364.1h0M784.1 362.7h0M784.1 361.4h0M784 360.1h0M783.5 358.7h0M785.1 364.1h0M785.4 362.7h0M785.1 361.4h0M785.2 360.1h0M785.5 358.7h0M786.4 364.1h0M786.5 362.7h0M786.6 361.4h0M786.1 360.1h0M786.7 358.7h0M787.9 364.1h0M788.1 362.7h0M788 361.4h0M788 360.1h0M788 358.7h0M788.7 364.1h0M788.7 362.7h0M788.8 361.4h0M788.9 360.1h0M788.6 358.7h0M790.6 364.1h0M790.3 362.7h0M790.5 361.4h0M790.3 360.1h0M790 358.7h0M791.5 364.1h0M791.2 362.7h0M791.4 361.4h0M791.7 360.1h0M791.2 358.7h0M787.8 359.4h0M787.6 357.8h0M787.1 355.3h0M787.4 353.9h0M787.6 353.4h0M781.2 359.4h0M780.2 357.9h0M780 356.9h0M780.7 354.7h0M780.5 353h0M781.3 350.5h0M780.4 349.5h0M780.4 348.1h0M780.9 343.8h0M788.2 359.4h0M787.7 357.1h0M787.2 355.8h0M788.2 354.9h0M788 353.7h0M788.3 350.1h0M787.3 349.7h0" stroke="#999999" stroke-width="3.4" stroke-linecap="round" fill="none" transform="scale(0.78 1)"/>
<rect x="619.1" y="364.1" width="8.3" height="32.9" fill="#1a1a1a"/>
<path d="M800.2 353.8h0M801.9 355h0M802.4 354.4h0M795.6 353.7h0M800.5 351.3h0M797 352.6h0M795.5 354.1h0M801.9 352.9h0M796.1 352.6h0M798.9 355h0M800.9 355h0M797.3 351.8h0M799.4 348h0M795.3 344.3h0M795.6 364.1h0M795.3 362.7h0M795.5 361.4h0M795.2 360.1h0M795.3 358.7h0M795.6 357.4h0M795.4 356.1h0M794.9 354.7h0M796.3 364.1h0M796.7 362.7h0M796.7 361.4h0M796.8 360.1h0M796.8 358.7h0M796.6 357.4h0M796.4 356.1h0M796.2 354.7h0M797.5 364.1h0M797.8 362.7h0M797.7 361.4h0M798.1 360.1h0M797.5 358.7h0M798.1 357.4h0M797.5 356.1h0M797.7 354.7h0M799 364.1h0M798.9 362.7h0M799.4 361.4h0M798.8 360.1h0M799 358.7h0M799.1 357.4h0M799.2 356.1h0M798.9 354.7h0M800 364.1h0M800.7 362.7h0M800.4 361.4h0M800.7 360.1h0M800.6 358.7h0M800.3 357.4h0M800.1 356.1h0M800.4 354.7h0M801.9 364.1h0M801.6 362.7h0M802 361.4h0M801.5 360.1h0M802 358.7h0M801.6 357.4h0M801.3 356.1h0M801.9 354.7h0M803.3 364.1h0M803 362.7h0M802.9 361.4h0M802.7 360.1h0M802.9 358.7h0M803.1 357.4h0M803.1 356.1h0M803.1 354.7h0M795.8 355.2h0M796 353.5h0M797 352.2h0M796.8 350.9h0M796.8 349.7h0M795.9 349.5h0M800.7 355.2h0M801 353.5h0M801.3 352.5h0M801 350.8h0M801 355.2h0M800.2 353.5h0M800.2 351.8h0M801.2 350.4h0M800.9 355.2h0M801.2 352.4h0" stroke="#1a1a1a" stroke-width="3.4" stroke-linecap="round" fill="none" transform="scale(0.78 1)"/>
<rect x="627.4" y="364.1" width="8.9" height="32.9" fill="#999999"/>
<path d="M807 357h0M807.3 356.7h0M808.5 350.6h0M813.8 345h0M806.4 357h0M812.3 356.9h0M810.7 347.1h0M807.9 354.8h0M807.7 353.7h0M811.5 353.4h0M807.9 356.6h0M812.8 353.9h0M806.9 354.1h0M806.3 352.9h0M809 357.2h0M806 364.1h0M806 362.7h0M805.8 361.4h0M805.8 360.1h0M805.6 358.7h0M806 357.4h0M807.3 364.1h0M807.4 362.7h0M807.2 361.4h0M807 360.1h0M807.5 358.7h0M807.2 357.4h0M808.4 364.1h0M808.6 362.7h0M808.1 361.4h0M808.5 360.1h0M808.7 358.7h0M808.8 357.4h0M810 364.1h0M809.6 362.7h0M810.1 361.4h0M809.8 360.1h0M810 358.7h0M810.1 357.4h0M810.9 364.1h0M811 362.7h0M810.9 361.4h0M811.2 360.1h0M811.3 358.7h0M811 357.4h0M812.2 364.1h0M811.9 362.7h0M812.6 361.4h0M812.3 360.1h0M812.4 358.7h0M812.3 357.4h0M813.3 364.1h0M813.7 362.7h0M813.2 361.4h0M813.9 360.1h0M813.2 358.7h0M813.2 357.4h0M812.5 357.7h0M812.7 356.7h0M812.3 355.2h0M812.9 353.5h0M813.2 350.7h0M812.1 350.2h0M806.5 357.7h0M806.2 356.3h0M807.3 353.3h0M806.9 351.9h0M807.2 350.1h0M807 348.2h0M812.7 357.7h0M812 356.7h0M811.8 354.9h0M812.3 354h0M813 352.8h0M812 351.6h0M812 349.8h0M812.6 347.2h0M812.5 344.8h0M806.4 357.7h0M806.7 356.4h0M807 354.9h0M806.2 353.9h0M806.8 353h0M807.1 351.7h0M807.1 350.5h0M805.9 349.1h0M806.6 347.7h0" stroke="#999999" stroke-width="3.4" stroke-linecap="round" fill="none" transform="scale(0.78 1)"/>
<rect x="636.3" y="364.1" width="8.3" height="32.9" fill="#1a1a1a"/>
<path d="M818.2 357.9h0M818 356.8h0M820.6 359h0M819.7 360.7h0M824.3 346.6h0M823.7 358.7h0M824.6 359.8h0M819.7 351h0M824.5 357.5h0M823.4 358.2h0M818.9 353.8h0M823.1 360.9h0M817.7 359.7h0M817.3 353h0M823.1 358.4h0M817.4 364.1h0M817.1 362.7h0M817 361.4h0M818.3 364.1h0M818.9 362.7h0M818.3 361.4h0M820.2 364.1h0M820.1 362.7h0M819.6 361.4h0M821.2 364.1h0M821.2 362.7h0M821.2 361.4h0M822.4 364.1h0M822.7 362.7h0M822.7 361.4h0M823.8 364.1h0M823.8 362.7h0M823.4 361.4h0M824.6 364.1h0M824.9 362.7h0M825.1 361.4h0M820.6 361.1h0M820.9 360.2h0M820.7 356.9h0M821.1 356.1h0M823.4 361.1h0M824.2 359.4h0M823.4 358.2h0M823.4 357h0M823.6 354.1h0" stroke="#1a1a1a" stroke-width="3.4" stroke-linecap="round" fill="none" transform="scale(0.78 1)"/>
<rect x="644.6" y="364.1" width="6.9" height="32.9" fill="#999999"/>
<path d="M830.8 354.8h0M829.1 355.7h0M828.6 359.8h0M828.5 359.8h0M833.1 360.6h0M831.9 357.2h0M829.2 360.9h0M833.1 359h0M830.4 358.7h0M832.8 358.3h0M829.4 360.3h0M831.4 357.2h0M828 364.1h0M827.6 362.7h0M828.2 361.4h0M829.3 364.1h0M829.2 362.7h0M829 361.4h0M830.6 364.1h0M830.4 362.7h0M830.8 361.4h0M831.8 364.1h0M831.6 362.7h0M832 361.4h0M833 364.1h0M833.3 362.7h0M832.7 361.4h0M832.2 361.1h0M832.3 359.6h0M833.6 358.1h0M833.4 356.4h0M833.3 355h0M833.1 352.1h0M832.8 347.6h0M832.9 361.1h0M832.8 359.4h0M833.2 358.4h0M833.6 356.6h0M833.9 355.1h0M833.4 353.8h0M833.5 352.9h0M832.9 351.2h0M833.9 349.3h0M833.4 349.2h0M829.3 361.1h0M829.6 360.2h0M828.7 358.8h0M829.4 357.9h0M829.8 361.1h0M830.1 360.1h0M829.7 358.9h0M829.8 357.5h0" stroke="#999999" stroke-width="3.4" stroke-linecap="round" fill="none" transform="scale(0.78 1)"/>
<rect x="651.5" y="364.1" width="6.1" height="32.9" fill="#1a1a1a"/>
<path d="M838.2 358.4h0M839.6 350.9h0M840 359.9h0M839.5 356.8h0M837.1 360.6h0M837.3 362.7h0M839.9 361.9h0M840.6 361.5h0M837.7 360.7h0M841.1 362.4h0M836.8 364.1h0M836.6 362.7h0M838.4 364.1h0M838.3 362.7h0M839.1 364.1h0M839 362.7h0M840.9 364.1h0M841 362.7h0M837.6 362.7h0M838.1 360.2h0M837.9 358h0M838.3 362.7h0M838.3 361.9h0M838.6 361h0M838.5 359.7h0M838.4 358.2h0M839.2 354h0M838.5 352.9h0M839.1 352.1h0M838.5 351.9h0" stroke="#1a1a1a" stroke-width="3.4" stroke-linecap="round" fill="none" transform="scale(0.78 1)"/>
<rect x="657.6" y="364.1" width="7.2" height="32.9" fill="#999999"/>
<path d="M846.8 354h0M846.3 358.2h0M849.5 357.1h0M844.7 355.7h0M845.8 357h0M848.9 352.4h0M845.5 354.9h0M846 358.6h0M848.2 358.6h0M847.8 354.1h0M848.8 356.5h0M845.2 356.3h0M844.9 364.1h0M844.8 362.7h0M844.6 361.4h0M844.9 360.1h0M844.6 358.7h0M845.7 364.1h0M845.5 362.7h0M846.1 361.4h0M846.1 360.1h0M846 358.7h0M847.5 364.1h0M847.5 362.7h0M847.2 361.4h0M847.1 360.1h0M847.5 358.7h0M848.2 364.1h0M848.6 362.7h0M848.2 361.4h0M848.5 360.1h0M848.2 358.7h0M850 364.1h0M849.5 362.7h0M850.1 361.4h0M849.5 360.1h0M850 358.7h0M846.3 359.4h0M847.5 356.1h0M847.3 355.5h0M847.6 359.4h0M847.8 358.2h0M847.6 356.5h0M847.5 354.7h0M846.9 353.6h0M846.7 352.3h0M846.9 351.4h0M847 350.1h0M847.3 349.2h0M847.8 348.2h0M847.2 347.1h0M848.6 359.4h0M847.3 353.9h0M848.1 353.3h0" stroke="#999999" stroke-width="3.4" stroke-linecap="round" fill="none" transform="scale(0.78 1)"/>
<rect x="664.8" y="364.1" width="4.7" height="32.9" fill="#1a1a1a"/>
<path d="M855.8 360.6h0M854.7 349.9h0M854.8 360.7h0M856.5 358.1h0M854.1 360.3h0M856.4 358.5h0M855 358.7h0M856.8 356.4h0M853.5 364.1h0M853.8 362.7h0M853.5 361.4h0M855.2 364.1h0M855.4 362.7h0M854.9 361.4h0M856.7 364.1h0M856.1 362.7h0M856.6 361.4h0M853.9 361.1h0M853.8 359.8h0M854.2 358.7h0M854.4 357.9h0M854.9 361.1h0M854.5 359.8h0M855.4 357.7h0M854.9 356.7h0M855.6 361.1h0M855.6 359.7h0M855.2 358.3h0M855.1 356.5h0" stroke="#1a1a1a" stroke-width="3.4" stroke-linecap="round" fill="none" transform="scale(0.78 1)"/>
<rect x="669.5" y="364.1" width="5.5" height="32.9" fill="#999999"/>
<path d="M860.8 354.2h0M860.5 360.3h0M863.2 356.5h0M860.1 356.6h0M862.9 360.6h0M862.5 360.7h0M859.9 360.8h0M861.9 353.8h0M861.1 349.5h0M863.2 357.4h0M859.5 364.1h0M859.6 362.7h0M859.5 361.4h0M861.5 364.1h0M860.9 362.7h0M861.3 361.4h0M862.3 364.1h0M862.2 362.7h0M862.7 361.4h0M863.9 364.1h0M863.6 362.7h0M863.6 361.4h0M860.5 361.1h0M860.9 359.3h0M861.1 355.9h0M860.7 353.9h0" stroke="#999999" stroke-width="3.4" stroke-linecap="round" fill="none" transform="scale(0.78 1)"/>
<ellipse cx="674.5" cy="392" rx="1.2" ry="1.5" fill="#1a1a1a"/>
<ellipse cx="399.2" cy="325.7" rx="1.6" ry="2" fill="#1a1a1a"/>
<ellipse cx="408.4" cy="330" rx="1.6" ry="2" fill="#1a1a1a"/>
<ellipse cx="410" cy="330.3" rx="1.6" ry="2" fill="#1a1a1a"/>
<ellipse cx="411.6" cy="330.6" rx="1.6" ry="2" fill="#1a1a1a"/>
<ellipse cx="484" cy="314.7" rx="1.6" ry="2" fill="#1a1a1a"/>
<ellipse cx="475.5" cy="327.4" rx="1.6" ry="2" fill="#999999"/>
<ellipse cx="403.7" cy="335.4" rx="1.6" ry="2" fill="#1a1a1a"/>
<ellipse cx="407.6" cy="338.1" rx="1.6" ry="2" fill="#1a1a1a"/>
<ellipse cx="407.6" cy="341" rx="1.6" ry="2" fill="#1a1a1a"/>
<ellipse cx="403.7" cy="341" rx="1.6" ry="2" fill="#1a1a1a"/>
<ellipse cx="416.1" cy="338.1" rx="1.6" ry="2" fill="#1a1a1a"/>
<ellipse cx="419.3" cy="336.6" rx="1.6" ry="2" fill="#999999"/>
<ellipse cx="441.9" cy="337.8" rx="1.6" ry="2" fill="#1a1a1a"/>
<ellipse cx="459.7" cy="337.3" rx="1.6" ry="2" fill="#1a1a1a"/>
<ellipse cx="463.8" cy="338.1" rx="1.6" ry="2" fill="#999999"/>
<ellipse cx="454.1" cy="341.7" rx="1.6" ry="2" fill="#1a1a1a"/>
<ellipse cx="440.5" cy="342.9" rx="1.6" ry="2" fill="#1a1a1a"/>
<ellipse cx="398.4" cy="342.4" rx="1.6" ry="2" fill="#1a1a1a"/>
<ellipse cx="394.1" cy="343.9" rx="1.6" ry="2" fill="#1a1a1a"/>
<ellipse cx="412.7" cy="346.4" rx="1.6" ry="2" fill="#1a1a1a"/>
<ellipse cx="420.5" cy="341.7" rx="1.6" ry="2" fill="#999999"/>
<ellipse cx="478.4" cy="343.9" rx="1.6" ry="2" fill="#1a1a1a"/>
<ellipse cx="482.8" cy="344.6" rx="1.6" ry="2" fill="#1a1a1a"/>
<ellipse cx="517.7" cy="308.1" rx="1.6" ry="2" fill="#1a1a1a"/>
<ellipse cx="499.7" cy="325.2" rx="1.6" ry="2" fill="#999999"/>
<ellipse cx="551.1" cy="336.6" rx="1.6" ry="2" fill="#1a1a1a"/>
<ellipse cx="517.7" cy="338.4" rx="1.6" ry="2" fill="#1a1a1a"/>
<ellipse cx="499.7" cy="337.3" rx="1.6" ry="2" fill="#999999"/>
<ellipse cx="499.7" cy="340.2" rx="1.6" ry="2" fill="#999999"/>
<ellipse cx="530.8" cy="337.3" rx="1.6" ry="2" fill="#999999"/>
<ellipse cx="493.9" cy="341" rx="1.6" ry="2" fill="#1a1a1a"/>
<ellipse cx="493.9" cy="343.2" rx="1.6" ry="2" fill="#1a1a1a"/>
<ellipse cx="545.4" cy="341.7" rx="1.6" ry="2" fill="#1a1a1a"/>
<ellipse cx="484.4" cy="343.9" rx="1.6" ry="2" fill="#1a1a1a"/>
<ellipse cx="515" cy="343.9" rx="1.6" ry="2" fill="#1a1a1a"/>
<ellipse cx="512.4" cy="339.5" rx="1.6" ry="2" fill="#999999"/>
<ellipse cx="534.7" cy="343.2" rx="1.6" ry="2" fill="#999999"/>
<ellipse cx="565.4" cy="342.4" rx="1.6" ry="2" fill="#999999"/>
<ellipse cx="570.8" cy="344.6" rx="1.6" ry="2" fill="#1a1a1a"/>
<ellipse cx="556.9" cy="344.6" rx="1.6" ry="2" fill="#1a1a1a"/>
<ellipse cx="528.2" cy="347.6" rx="1.6" ry="2" fill="#1a1a1a"/>
<ellipse cx="540.6" cy="346.4" rx="1.6" ry="2" fill="#999999"/>
<ellipse cx="628.6" cy="302" rx="1.6" ry="2" fill="#999999"/>
<ellipse cx="592" cy="316.9" rx="1.6" ry="2" fill="#999999"/>
<ellipse cx="627.4" cy="315" rx="1.6" ry="2" fill="#1a1a1a"/>
<ellipse cx="627.4" cy="322.7" rx="1.6" ry="2" fill="#1a1a1a"/>
<ellipse cx="624.5" cy="328.3" rx="1.6" ry="2" fill="#1a1a1a"/>
<ellipse cx="633.6" cy="314.3" rx="1.6" ry="2" fill="#999999"/>
<ellipse cx="633.6" cy="319" rx="1.6" ry="2" fill="#999999"/>
<ellipse cx="633.6" cy="321.2" rx="1.6" ry="2" fill="#999999"/>
<ellipse cx="633.6" cy="323.4" rx="1.6" ry="2" fill="#999999"/>
<ellipse cx="633.6" cy="325.7" rx="1.6" ry="2" fill="#999999"/>
<ellipse cx="643.5" cy="330" rx="1.6" ry="2" fill="#1a1a1a"/>
<ellipse cx="643.5" cy="338.1" rx="1.6" ry="2" fill="#1a1a1a"/>
<ellipse cx="642.8" cy="342.4" rx="1.6" ry="2" fill="#1a1a1a"/>
<ellipse cx="644.2" cy="346.1" rx="1.6" ry="2" fill="#1a1a1a"/>
<ellipse cx="613.6" cy="333" rx="1.6" ry="2" fill="#999999"/>
<ellipse cx="652.3" cy="334.1" rx="1.6" ry="2" fill="#1a1a1a"/>
<ellipse cx="650.5" cy="336.6" rx="1.6" ry="2" fill="#999999"/>
<ellipse cx="592" cy="334.4" rx="1.6" ry="2" fill="#999999"/>
<ellipse cx="592.4" cy="338.8" rx="1.6" ry="2" fill="#999999"/>
<ellipse cx="585.5" cy="337.3" rx="1.6" ry="2" fill="#999999"/>
<ellipse cx="586.6" cy="343.2" rx="1.6" ry="2" fill="#999999"/>
<ellipse cx="605.1" cy="338.1" rx="1.6" ry="2" fill="#1a1a1a"/>
<ellipse cx="602.2" cy="342.4" rx="1.6" ry="2" fill="#1a1a1a"/>
<ellipse cx="603.4" cy="345.4" rx="1.6" ry="2" fill="#1a1a1a"/>
<ellipse cx="601.9" cy="350.2" rx="1.6" ry="2" fill="#1a1a1a"/>
<ellipse cx="625.5" cy="337.3" rx="1.6" ry="2" fill="#1a1a1a"/>
<ellipse cx="623.8" cy="341" rx="1.6" ry="2" fill="#1a1a1a"/>
<ellipse cx="621.3" cy="343.6" rx="1.6" ry="2" fill="#1a1a1a"/>
<ellipse cx="625.3" cy="348.3" rx="1.6" ry="2" fill="#1a1a1a"/>
<ellipse cx="635.9" cy="338.5" rx="1.6" ry="2" fill="#999999"/>
<ellipse cx="634" cy="342.4" rx="1.6" ry="2" fill="#999999"/>
<ellipse cx="647.9" cy="341.7" rx="1.6" ry="2" fill="#999999"/>
<ellipse cx="671.2" cy="341.4" rx="1.6" ry="2" fill="#999999"/>
<ellipse cx="668" cy="346.8" rx="1.6" ry="2" fill="#1a1a1a"/>
<ellipse cx="663.6" cy="344.6" rx="1.6" ry="2" fill="#999999"/>
<ellipse cx="657.4" cy="348.7" rx="1.6" ry="2" fill="#1a1a1a"/>
<ellipse cx="611.4" cy="343.9" rx="1.6" ry="2" fill="#999999"/>
<ellipse cx="614.3" cy="344.6" rx="1.6" ry="2" fill="#999999"/>
<line x1="384.4" x2="683.4" y1="292.3" y2="292.3" stroke="#f08a8a" stroke-width="1.15"/>
<line x1="384.4" x2="683.4" y1="329" y2="329" stroke="#7272ff" stroke-width="1.6"/>
<line x1="384.4" x2="384.4" y1="262.2" y2="395.8" stroke="#7a7a7a" stroke-width="1"/>
<line x1="379.4" x2="384.4" y1="395.8" y2="395.8" stroke="#7a7a7a" stroke-width="1"/>
<text class="t" transform="translate(373.4 400.6) scale(0.62 1)" text-anchor="middle" font-size="12" fill="#262626">0</text>
<line x1="379.4" x2="384.4" y1="362.4" y2="362.4" stroke="#7a7a7a" stroke-width="1"/>
<text class="t" transform="translate(373.4 367.2) scale(0.62 1)" text-anchor="middle" font-size="12" fill="#262626">2</text>
<line x1="379.4" x2="384.4" y1="329" y2="329" stroke="#7a7a7a" stroke-width="1"/>
<text class="t" transform="translate(373.4 333.8) scale(0.62 1)" text-anchor="middle" font-size="12" fill="#262626">4</text>
<line x1="379.4" x2="384.4" y1="295.6" y2="295.6" stroke="#7a7a7a" stroke-width="1"/>
<text class="t" transform="translate(373.4 300.4) scale(0.62 1)" text-anchor="middle" font-size="12" fill="#262626">6</text>
<line x1="379.4" x2="384.4" y1="262.2" y2="262.2" stroke="#7a7a7a" stroke-width="1"/>
<text class="t" transform="translate(373.4 267) scale(0.62 1)" text-anchor="middle" font-size="12" fill="#262626">8</text>
<line x1="404.2" x2="404.2" y1="397" y2="402.5" stroke="#7a7a7a" stroke-width="1"/>
<text class="t" transform="translate(404.7 422.4) scale(0.62 1)" text-anchor="middle" font-size="12" fill="#262626">1</text>
<line x1="428.3" x2="428.3" y1="397" y2="402.5" stroke="#7a7a7a" stroke-width="1"/>
<text class="t" transform="translate(428.8 422.4) scale(0.62 1)" text-anchor="middle" font-size="12" fill="#262626">2</text>
<line x1="449.9" x2="449.9" y1="397" y2="402.5" stroke="#7a7a7a" stroke-width="1"/>
<text class="t" transform="translate(450.4 422.4) scale(0.62 1)" text-anchor="middle" font-size="12" fill="#262626">3</text>
<line x1="469.3" x2="469.3" y1="397" y2="402.5" stroke="#7a7a7a" stroke-width="1"/>
<text class="t" transform="translate(469.8 422.4) scale(0.62 1)" text-anchor="middle" font-size="12" fill="#262626">4</text>
<line x1="487" x2="487" y1="397" y2="402.5" stroke="#7a7a7a" stroke-width="1"/>
<text class="t" transform="translate(487.5 422.4) scale(0.62 1)" text-anchor="middle" font-size="12" fill="#262626">5</text>
<line x1="504.5" x2="504.5" y1="397" y2="402.5" stroke="#7a7a7a" stroke-width="1"/>
<text class="t" transform="translate(505 422.4) scale(0.62 1)" text-anchor="middle" font-size="12" fill="#262626">6</text>
<line x1="520.8" x2="520.8" y1="397" y2="402.5" stroke="#7a7a7a" stroke-width="1"/>
<text class="t" transform="translate(521.3 422.4) scale(0.62 1)" text-anchor="middle" font-size="12" fill="#262626">7</text>
<line x1="535.7" x2="535.7" y1="397" y2="402.5" stroke="#7a7a7a" stroke-width="1"/>
<text class="t" transform="translate(536.2 422.4) scale(0.62 1)" text-anchor="middle" font-size="12" fill="#262626">8</text>
<line x1="549.6" x2="549.6" y1="397" y2="402.5" stroke="#7a7a7a" stroke-width="1"/>
<text class="t" transform="translate(550.1 422.4) scale(0.62 1)" text-anchor="middle" font-size="12" fill="#262626">9</text>
<line x1="562.9" x2="562.9" y1="397" y2="402.5" stroke="#7a7a7a" stroke-width="1"/>
<text class="t" transform="translate(563.4 422.4) scale(0.62 1)" text-anchor="middle" font-size="12" fill="#262626">10</text>
<line x1="576.7" x2="576.7" y1="397" y2="402.5" stroke="#7a7a7a" stroke-width="1"/>
<line x1="590" x2="590" y1="397" y2="402.5" stroke="#7a7a7a" stroke-width="1"/>
<text class="t" transform="translate(590.5 422.4) scale(0.62 1)" text-anchor="middle" font-size="12" fill="#262626">12</text>
<line x1="602.5" x2="602.5" y1="397" y2="402.5" stroke="#7a7a7a" stroke-width="1"/>
<line x1="613.3" x2="613.3" y1="397" y2="402.5" stroke="#7a7a7a" stroke-width="1"/>
<text class="t" transform="translate(613.8 422.4) scale(0.62 1)" text-anchor="middle" font-size="12" fill="#262626">14</text>
<line x1="623.8" x2="623.8" y1="397" y2="402.5" stroke="#7a7a7a" stroke-width="1"/>
<line x1="632.1" x2="632.1" y1="397" y2="402.5" stroke="#7a7a7a" stroke-width="1"/>
<text class="t" transform="translate(632.6 422.4) scale(0.62 1)" text-anchor="middle" font-size="12" fill="#262626">16</text>
<line x1="640.4" x2="640.4" y1="397" y2="402.5" stroke="#7a7a7a" stroke-width="1"/>
<line x1="648.2" x2="648.2" y1="397" y2="402.5" stroke="#7a7a7a" stroke-width="1"/>
<text class="t" transform="translate(648.7 422.4) scale(0.62 1)" text-anchor="middle" font-size="12" fill="#262626">18</text>
<line x1="655.1" x2="655.1" y1="397" y2="402.5" stroke="#7a7a7a" stroke-width="1"/>
<line x1="661.5" x2="661.5" y1="397" y2="402.5" stroke="#7a7a7a" stroke-width="1"/>
<line x1="667.3" x2="667.3" y1="397" y2="402.5" stroke="#7a7a7a" stroke-width="1"/>
<text class="t" transform="translate(667.8 422.4) scale(0.62 1)" text-anchor="middle" font-size="12" fill="#262626">21</text>
<line x1="672.3" x2="672.3" y1="397" y2="402.5" stroke="#7a7a7a" stroke-width="1"/>
<line x1="674.2" x2="674.2" y1="397" y2="402.5" stroke="#7a7a7a" stroke-width="1"/>
<text class="t" transform="translate(533.4 444.6) scale(0.62 1)" text-anchor="middle" font-size="12" fill="#262626">Chromosome</text>
<text class="t" transform="translate(357.6 329.8) scale(0.62 1) rotate(-90)" text-anchor="middle" font-size="12" fill="#262626">−<tspan dx="1.5">log</tspan><tspan font-size="8.4" dy="2">10</tspan><tspan dy="-2">(</tspan><tspan font-style="italic">p </tspan>)</text>
<line x1="399.5" x2="399.5" y1="255" y2="308.4" stroke="#000" stroke-width="2"/>
<polygon points="394.1,307.4 404.9,307.4 399.5,321.5" fill="#000"/>
<line x1="634.4" x2="634.4" y1="255" y2="297.4" stroke="#000" stroke-width="2"/>
<polygon points="629,296.4 639.8,296.4 634.4,307.4" fill="#000"/>
<text x="399.9" y="253" text-anchor="middle" font-size="11" font-weight="bold" font-style="italic" class="gn" fill="#2020ee" textLength="39.4" lengthAdjust="spacingAndGlyphs">WARS2</text>
<text x="635.5" y="253" text-anchor="middle" font-size="11" font-weight="bold" font-style="italic" class="gn" fill="#2020ee" textLength="22.4" lengthAdjust="spacingAndGlyphs">FTO</text>
<text transform="translate(347.4 248.9) scale(1.13 1)" font-size="19.5" font-weight="bold" fill="#000" stroke="#000" stroke-width="0.4" style="stroke-width:0.4px">D</text></g>
</g>
</svg>
</body></html>
